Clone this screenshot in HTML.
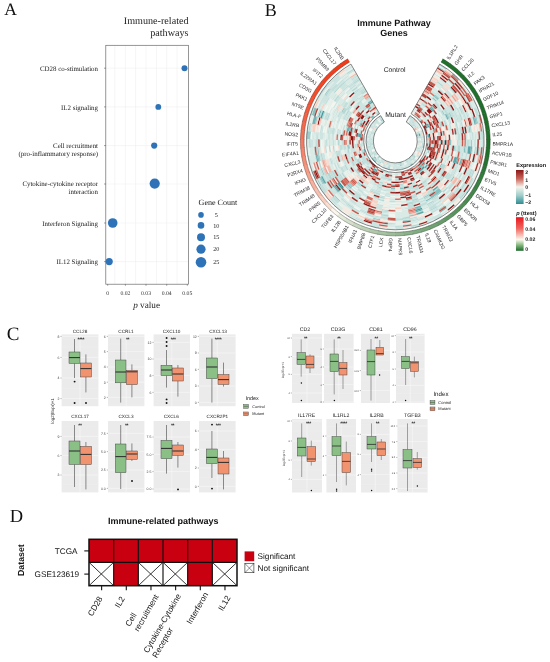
<!DOCTYPE html>
<html lang="en">
<head>
<meta charset="utf-8">
<title>Immune-related pathways figure</title>
<style>
html,body{margin:0;padding:0;background:#fff;}
body{width:550px;height:662px;overflow:hidden;font-family:"Liberation Sans",sans-serif;}
svg{display:block;text-rendering:geometricPrecision;}
.se{font-family:"Liberation Serif",serif;}
.sa{font-family:"Liberation Sans",sans-serif;}
</style>
</head>
<body>
<svg width="550" height="662" viewBox="0 0 550 662">
<rect x="0" y="0" width="550" height="662" fill="#ffffff"/>
<g id="panelA">
<text class="se" x="4.2" y="15.4" font-size="17.5" fill="#111">A</text>
<text class="se" x="188.5" y="23.8" font-size="10.15" text-anchor="end" fill="#222">Immune-related</text>
<text class="se" x="188.5" y="35.6" font-size="10.15" text-anchor="end" fill="#222">pathways</text>
<line x1="114.8" y1="45.3" x2="114.8" y2="284.2" stroke="#ececec" stroke-width="0.5"/>
<line x1="125.4" y1="45.3" x2="125.4" y2="284.2" stroke="#ececec" stroke-width="0.5"/>
<line x1="135.6" y1="45.3" x2="135.6" y2="284.2" stroke="#ececec" stroke-width="0.5"/>
<line x1="146.0" y1="45.3" x2="146.0" y2="284.2" stroke="#ececec" stroke-width="0.5"/>
<line x1="156.5" y1="45.3" x2="156.5" y2="284.2" stroke="#ececec" stroke-width="0.5"/>
<line x1="166.7" y1="45.3" x2="166.7" y2="284.2" stroke="#ececec" stroke-width="0.5"/>
<line x1="177.1" y1="45.3" x2="177.1" y2="284.2" stroke="#ececec" stroke-width="0.5"/>
<line x1="105.8" y1="68.2" x2="188.5" y2="68.2" stroke="#ececec" stroke-width="0.5"/>
<line x1="105.8" y1="106.9" x2="188.5" y2="106.9" stroke="#ececec" stroke-width="0.5"/>
<line x1="105.8" y1="145.6" x2="188.5" y2="145.6" stroke="#ececec" stroke-width="0.5"/>
<line x1="105.8" y1="184.0" x2="188.5" y2="184.0" stroke="#ececec" stroke-width="0.5"/>
<line x1="105.8" y1="223.0" x2="188.5" y2="223.0" stroke="#ececec" stroke-width="0.5"/>
<line x1="105.8" y1="261.6" x2="188.5" y2="261.6" stroke="#ececec" stroke-width="0.5"/>
<rect x="105.8" y="45.3" width="82.7" height="238.9" fill="none" stroke="#6a6a6a" stroke-width="0.7"/>
<line x1="104.0" y1="68.2" x2="105.8" y2="68.2" stroke="#444" stroke-width="0.5"/>
<line x1="104.0" y1="106.9" x2="105.8" y2="106.9" stroke="#444" stroke-width="0.5"/>
<line x1="104.0" y1="145.6" x2="105.8" y2="145.6" stroke="#444" stroke-width="0.5"/>
<line x1="104.0" y1="184.0" x2="105.8" y2="184.0" stroke="#444" stroke-width="0.5"/>
<line x1="104.0" y1="223.0" x2="105.8" y2="223.0" stroke="#444" stroke-width="0.5"/>
<line x1="104.0" y1="261.6" x2="105.8" y2="261.6" stroke="#444" stroke-width="0.5"/>
<text class="se" x="98" y="71.0" font-size="6.9" text-anchor="end" fill="#1c1c1c">CD28 co-stimulation</text>
<text class="se" x="98" y="109.7" font-size="6.9" text-anchor="end" fill="#1c1c1c">IL2 signaling</text>
<text class="se" x="98" y="147.8" font-size="6.9" text-anchor="end" fill="#1c1c1c">Cell recruitment</text>
<text class="se" x="98" y="155.8" font-size="6.9" text-anchor="end" fill="#1c1c1c">(pro-inflammatory response)</text>
<text class="se" x="98" y="186.2" font-size="6.9" text-anchor="end" fill="#1c1c1c">Cytokine-cytokine receptor</text>
<text class="se" x="98" y="194.2" font-size="6.9" text-anchor="end" fill="#1c1c1c">interaction</text>
<text class="se" x="98" y="225.8" font-size="6.9" text-anchor="end" fill="#1c1c1c">Interferon Signaling</text>
<text class="se" x="98" y="264.4" font-size="6.9" text-anchor="end" fill="#1c1c1c">IL12 Signaling</text>
<circle cx="184.5" cy="68.2" r="3.0" fill="#2e73b8"/>
<circle cx="158.3" cy="106.9" r="2.9" fill="#2e73b8"/>
<circle cx="154.2" cy="145.6" r="3.1" fill="#2e73b8"/>
<circle cx="154.7" cy="183.6" r="5.1" fill="#2e73b8"/>
<circle cx="112.7" cy="223.0" r="4.8" fill="#2e73b8"/>
<circle cx="109.2" cy="261.6" r="3.6" fill="#2e73b8"/>
<line x1="107.7" y1="284.2" x2="107.7" y2="285.8" stroke="#444" stroke-width="0.5"/>
<line x1="125.4" y1="284.2" x2="125.4" y2="285.8" stroke="#444" stroke-width="0.5"/>
<line x1="146.0" y1="284.2" x2="146.0" y2="285.8" stroke="#444" stroke-width="0.5"/>
<line x1="166.7" y1="284.2" x2="166.7" y2="285.8" stroke="#444" stroke-width="0.5"/>
<line x1="187.3" y1="284.2" x2="187.3" y2="285.8" stroke="#444" stroke-width="0.5"/>
<text class="se" x="107.7" y="295.0" font-size="5.7" text-anchor="middle" fill="#333">0</text>
<text class="se" x="125.4" y="295.0" font-size="5.7" text-anchor="middle" fill="#333">0.02</text>
<text class="se" x="146.0" y="295.0" font-size="5.7" text-anchor="middle" fill="#333">0.03</text>
<text class="se" x="166.7" y="295.0" font-size="5.7" text-anchor="middle" fill="#333">0.04</text>
<text class="se" x="187.3" y="295.0" font-size="5.7" text-anchor="middle" fill="#333">0.05</text>
<text class="se" x="146.6" y="308.3" font-size="9.2" text-anchor="middle" fill="#222"><tspan font-style="italic">p</tspan> value</text>
<text class="se" x="198.6" y="205.4" font-size="8.05" fill="#222">Gene Count</text>
<circle cx="201" cy="214.9" r="2.8" fill="#2e73b8"/>
<text class="se" x="216.3" y="217.0" font-size="6.2" text-anchor="middle" fill="#222">5</text>
<circle cx="201" cy="225.4" r="3.3" fill="#2e73b8"/>
<text class="se" x="216.3" y="227.5" font-size="6.2" text-anchor="middle" fill="#222">10</text>
<circle cx="201" cy="237.3" r="4.0" fill="#2e73b8"/>
<text class="se" x="216.3" y="239.4" font-size="6.2" text-anchor="middle" fill="#222">15</text>
<circle cx="201" cy="249.2" r="4.6" fill="#2e73b8"/>
<text class="se" x="216.3" y="251.3" font-size="6.2" text-anchor="middle" fill="#222">20</text>
<circle cx="201" cy="262.2" r="5.3" fill="#2e73b8"/>
<text class="se" x="216.3" y="264.3" font-size="6.2" text-anchor="middle" fill="#222">25</text>
</g>
<g id="panelB">
<text class="se" x="264.8" y="15.8" font-size="18" fill="#111">B</text>
<text class="sa" x="394" y="25.6" font-size="9" font-weight="bold" text-anchor="middle" fill="#111">Immune Pathway</text>
<text class="sa" x="394" y="35.9" font-size="9" font-weight="bold" text-anchor="middle" fill="#111">Genes</text>
<text class="sa" x="394.6" y="72.3" font-size="6.8" text-anchor="middle" fill="#222">Control</text>
<text class="sa" x="395.6" y="117.3" font-size="6.8" text-anchor="middle" fill="#222">Mutant</text>
<path d="M379.18 113.07A32.25 32.25 0 0 0 376.57 114.75M363.26 137.31A32.25 32.25 0 0 0 363.06 140.48M427.36 137.47A32.25 32.25 0 0 0 426.85 134.33M368.26 160.85A33.55 33.55 0 0 0 370.34 163.42M416.44 168.70A34.84 34.84 0 0 0 419.07 166.48M427.94 153.21A34.84 34.84 0 0 0 428.98 149.93M420.69 168.51A37.44 37.44 0 0 0 423.28 165.87M362.95 119.70A38.74 38.74 0 0 0 361.00 122.99M356.13 132.72A40.04 40.04 0 0 0 355.50 136.62M419.59 172.83A40.04 40.04 0 0 0 422.61 170.28M370.72 106.17A42.63 42.63 0 0 0 367.41 108.76M358.73 162.91A42.63 42.63 0 0 0 361.07 166.40M353.36 127.94A43.93 43.93 0 0 0 352.27 132.14M352.32 131.91A43.93 43.93 0 0 0 351.64 136.20M391.08 184.73A43.93 43.93 0 0 0 395.42 184.93M440.39 144.50A45.23 45.23 0 0 0 440.52 140.04M348.90 144.36A46.52 46.52 0 0 0 349.45 148.91M390.84 187.31A46.52 46.52 0 0 0 395.42 187.52M347.60 144.45A47.82 47.82 0 0 0 348.18 149.13M356.75 169.30A47.82 47.82 0 0 0 359.73 172.96M442.27 126.64A49.12 49.12 0 0 0 440.63 122.08M434.80 109.67A50.42 50.42 0 0 0 431.52 105.93M436.83 171.82A51.71 51.71 0 0 0 439.66 167.57M357.37 181.66A55.61 55.61 0 0 0 361.56 185.21M444.53 115.14A55.61 55.61 0 0 0 441.74 110.42M449.13 118.87A58.20 58.20 0 0 0 446.69 113.67M453.93 151.12A59.50 59.50 0 0 0 454.65 145.29M344.52 107.56A60.80 60.80 0 0 0 341.47 112.73M451.53 117.88A60.80 60.80 0 0 0 448.98 112.45M439.20 98.93A60.80 60.80 0 0 0 434.84 94.81M348.89 182.26A62.10 62.10 0 0 0 353.18 186.63M347.92 183.12A63.39 63.39 0 0 0 352.30 187.58M423.72 197.67A63.39 63.39 0 0 0 429.17 194.59M428.89 194.77A63.39 63.39 0 0 0 434.02 191.19M345.01 185.71A67.29 67.29 0 0 0 349.66 190.44M436.91 195.52A68.59 68.59 0 0 0 442.08 191.15M336.87 183.89A72.48 72.48 0 0 0 341.38 189.44M469.92 132.79A75.07 75.07 0 0 0 468.75 125.47M471.44 146.91A76.37 76.37 0 0 0 471.65 139.37M317.83 146.60A77.67 77.67 0 0 0 318.76 154.21M318.69 153.81A77.67 77.67 0 0 0 320.33 161.30M321.19 168.28A78.97 78.97 0 0 0 324.24 175.45M372.88 218.07A80.26 80.26 0 0 0 380.58 219.90M402.58 220.93A80.26 80.26 0 0 0 410.43 219.83M474.40 154.65A80.26 80.26 0 0 0 475.36 146.79M317.42 116.76A81.56 81.56 0 0 0 315.41 124.55M334.34 195.19A81.56 81.56 0 0 0 339.98 200.93M438.51 210.17A81.56 81.56 0 0 0 445.12 205.58M329.64 88.36A84.16 84.16 0 0 0 324.77 95.09M319.38 177.32A84.16 84.16 0 0 0 323.33 184.62M478.23 155.31A84.16 84.16 0 0 0 479.24 147.07M477.73 124.03A84.16 84.16 0 0 0 475.65 115.98M310.41 131.21A85.46 85.46 0 0 0 309.86 139.63M444.93 71.44A85.46 85.46 0 0 0 438.03 66.99M309.12 131.06A86.75 86.75 0 0 0 308.56 139.60M317.04 178.44A86.75 86.75 0 0 0 321.11 185.97M307.83 130.91A88.05 88.05 0 0 0 307.26 139.58M312.67 171.41A88.05 88.05 0 0 0 316.07 179.41M466.01 193.47A88.05 88.05 0 0 0 470.84 186.25" fill="none" stroke="#9fccca" stroke-width="1.4"/>
<path d="M376.71 114.65A32.25 32.25 0 0 0 374.20 116.61M392.21 173.10A32.25 32.25 0 0 0 395.38 173.25M422.88 157.72A32.25 32.25 0 0 0 424.39 154.92M360.46 140.26A34.84 34.84 0 0 0 360.56 143.69M391.96 175.68A34.84 34.84 0 0 0 395.39 175.84M426.65 156.20A34.84 34.84 0 0 0 428.00 153.04M422.60 119.35A34.84 34.84 0 0 0 420.33 116.76M360.37 150.26A36.14 36.14 0 0 0 361.45 153.66M427.82 156.77A36.14 36.14 0 0 0 429.22 153.48M391.71 178.27A37.44 37.44 0 0 0 395.40 178.44M365.08 116.77A38.74 38.74 0 0 0 362.84 119.87M355.27 140.15A40.04 40.04 0 0 0 355.38 144.10M427.45 164.86A40.04 40.04 0 0 0 429.65 161.57M430.74 122.39A40.04 40.04 0 0 0 428.74 118.98M357.15 125.08A41.33 41.33 0 0 0 355.77 128.92M354.86 132.45A41.33 41.33 0 0 0 354.21 136.48M436.39 136.48A41.33 41.33 0 0 0 435.74 132.45M364.67 111.34A42.63 42.63 0 0 0 361.90 114.51M354.76 124.08A43.93 43.93 0 0 0 353.29 128.16M414.99 180.27A43.93 43.93 0 0 0 418.77 178.13M432.11 117.03A43.93 43.93 0 0 0 429.57 113.52M427.02 110.61A43.93 43.93 0 0 0 423.87 107.63M355.37 119.76A45.23 45.23 0 0 0 353.47 123.80M415.58 181.43A45.23 45.23 0 0 0 419.46 179.23M433.98 164.44A45.23 45.23 0 0 0 436.10 160.52M441.15 148.91A46.52 46.52 0 0 0 441.70 144.36M359.56 172.77A47.82 47.82 0 0 0 362.86 176.14M354.28 113.99A49.12 49.12 0 0 0 351.81 118.16M443.41 131.09A49.12 49.12 0 0 0 442.20 126.40M438.79 118.16A49.12 49.12 0 0 0 436.32 113.99M444.98 149.58A50.42 50.42 0 0 0 445.59 144.64M430.38 179.00A51.71 51.71 0 0 0 433.95 175.36M427.46 183.14A53.01 53.01 0 0 0 431.46 179.77M448.31 140.15A53.01 53.01 0 0 0 447.96 134.93M447.99 135.20A53.01 53.01 0 0 0 447.17 130.04M352.93 107.03A54.31 54.31 0 0 0 349.78 111.37M351.52 173.14A54.31 54.31 0 0 0 354.90 177.30M379.77 194.39A55.61 55.61 0 0 0 385.10 195.67M389.96 196.35A55.61 55.61 0 0 0 395.45 196.61M384.57 196.89A56.91 56.91 0 0 0 390.14 197.67M420.81 191.87A56.91 56.91 0 0 0 425.70 189.10M339.73 123.70A58.20 58.20 0 0 0 338.29 129.26M337.25 145.20A58.20 58.20 0 0 0 337.94 150.90M340.68 161.10A58.20 58.20 0 0 0 342.93 166.39M335.95 145.29A59.50 59.50 0 0 0 336.67 151.12M347.33 176.21A59.50 59.50 0 0 0 351.04 180.76M363.51 191.30A59.50 59.50 0 0 0 368.62 194.19M452.73 156.55A59.50 59.50 0 0 0 453.99 150.81M454.79 140.04A59.50 59.50 0 0 0 454.41 134.18M453.99 156.89A60.80 60.80 0 0 0 455.27 151.03M389.34 202.81A62.10 62.10 0 0 0 395.46 203.10M349.76 96.90A63.39 63.39 0 0 0 345.63 101.60M352.06 187.36A63.39 63.39 0 0 0 356.84 191.39M330.78 145.67A64.69 64.69 0 0 0 331.55 152.00M346.96 94.19A67.29 67.29 0 0 0 342.58 99.18M328.19 145.85A67.29 67.29 0 0 0 328.99 152.44M388.84 207.98A67.29 67.29 0 0 0 395.48 208.29M326.89 145.95A68.59 68.59 0 0 0 327.71 152.67M327.65 152.31A68.59 68.59 0 0 0 329.10 158.92M358.66 198.98A68.59 68.59 0 0 0 364.55 202.31M326.93 126.55A69.88 69.88 0 0 0 325.84 133.36M357.97 200.07A69.88 69.88 0 0 0 363.97 203.47M437.70 196.55A69.88 69.88 0 0 0 442.97 192.10M445.76 92.65A69.88 69.88 0 0 0 440.74 87.91M335.85 101.85A71.18 71.18 0 0 0 332.28 107.90M346.75 193.05A71.18 71.18 0 0 0 352.12 197.58M369.12 207.19A71.18 71.18 0 0 0 375.77 209.45M334.77 101.14A72.48 72.48 0 0 0 331.13 107.30M331.31 106.97A72.48 72.48 0 0 0 328.27 113.44M324.39 126.01A72.48 72.48 0 0 0 323.26 133.07M323.01 146.23A72.48 72.48 0 0 0 323.88 153.33M321.54 139.43A73.78 73.78 0 0 0 321.74 146.71M321.72 146.32A73.78 73.78 0 0 0 322.60 153.55M326.06 166.48A73.78 73.78 0 0 0 328.91 173.18M388.22 214.44A73.78 73.78 0 0 0 395.49 214.78M461.69 173.18A73.78 73.78 0 0 0 464.54 166.48M469.07 139.81A73.78 73.78 0 0 0 468.59 132.55M344.09 195.90A75.07 75.07 0 0 0 349.75 200.68M388.10 215.73A75.07 75.07 0 0 0 395.50 216.07M461.77 106.09A75.07 75.07 0 0 0 458.00 99.71M327.87 105.14A76.37 76.37 0 0 0 324.67 111.96M320.58 125.21A76.37 76.37 0 0 0 319.39 132.65M373.97 214.33A76.37 76.37 0 0 0 381.30 216.08M387.97 217.02A76.37 76.37 0 0 0 395.50 217.37M462.91 105.49A76.37 76.37 0 0 0 459.08 99.00M320.22 160.91A77.67 77.67 0 0 0 322.55 168.21M353.81 206.66A77.67 77.67 0 0 0 360.48 210.43M470.27 161.30A77.67 77.67 0 0 0 471.91 153.81M443.21 203.77A78.97 78.97 0 0 0 449.16 198.75M458.71 188.06A78.97 78.97 0 0 0 463.04 181.58M387.60 220.89A80.26 80.26 0 0 0 395.51 221.26M463.94 182.60A80.26 80.26 0 0 0 467.71 175.64M358.35 213.71A81.56 81.56 0 0 0 365.70 217.00M318.83 109.09A82.86 82.86 0 0 0 316.06 116.78M472.91 170.03A82.86 82.86 0 0 0 475.39 162.24M311.70 131.36A84.16 84.16 0 0 0 311.15 139.65M327.46 190.80A84.16 84.16 0 0 0 332.70 197.24M433.03 216.23A84.16 84.16 0 0 0 440.26 212.14M475.78 116.40A84.16 84.16 0 0 0 472.97 108.59M312.70 162.90A85.46 85.46 0 0 0 315.26 170.94M341.52 210.72A88.05 88.05 0 0 0 348.65 215.68M378.70 227.47A88.05 88.05 0 0 0 387.31 228.69M403.29 228.69A88.05 88.05 0 0 0 411.90 227.47M441.95 215.68A88.05 88.05 0 0 0 449.08 210.72M455.02 205.70A88.05 88.05 0 0 0 461.11 199.50M473.25 100.06A88.05 88.05 0 0 0 468.84 92.58M469.09 92.96A88.05 88.05 0 0 0 464.00 85.92M452.91 74.41A88.05 88.05 0 0 0 446.06 69.06" fill="none" stroke="#f3f6f0" stroke-width="1.4"/>
<path d="M374.33 116.50A32.25 32.25 0 0 0 372.02 118.69M364.54 124.64A34.84 34.84 0 0 0 363.07 127.75M418.93 166.60A34.84 34.84 0 0 0 421.34 164.15M421.22 164.29A34.84 34.84 0 0 0 423.39 161.62M373.22 169.62A36.14 36.14 0 0 0 376.15 171.65M423.15 166.02A37.44 37.44 0 0 0 425.48 163.15M429.93 126.76A37.44 37.44 0 0 0 428.36 123.42M361.10 122.81A38.74 38.74 0 0 0 359.47 126.27M370.85 172.70A40.04 40.04 0 0 0 374.09 174.95M350.88 127.17A46.52 46.52 0 0 0 349.73 131.62M390.71 188.60A47.82 47.82 0 0 0 395.43 188.82M399.64 188.62A47.82 47.82 0 0 0 404.31 187.96M444.27 144.80A49.12 49.12 0 0 0 444.41 139.95M439.52 167.81A51.71 51.71 0 0 0 441.95 163.32M450.74 145.30A55.61 55.61 0 0 0 450.90 139.81M436.39 101.63A56.91 56.91 0 0 0 432.31 97.77M438.26 99.83A59.50 59.50 0 0 0 433.99 95.80M346.95 183.98A64.69 64.69 0 0 0 351.42 188.54M434.55 192.43A64.69 64.69 0 0 0 439.43 188.31M430.26 196.97A65.99 65.99 0 0 0 435.61 193.25M435.33 193.46A65.99 65.99 0 0 0 440.31 189.26M425.47 201.15A67.29 67.29 0 0 0 431.25 197.88M430.95 198.07A67.29 67.29 0 0 0 436.40 194.28M436.12 194.49A67.29 67.29 0 0 0 441.20 190.21M450.38 181.87A68.59 68.59 0 0 0 454.14 176.24M464.16 152.89A69.88 69.88 0 0 0 465.00 146.04M414.83 209.45A71.18 71.18 0 0 0 421.48 207.19M317.41 154.02A78.97 78.97 0 0 0 319.08 161.64M320.55 176.76A82.86 82.86 0 0 0 324.44 183.95M476.46 124.29A82.86 82.86 0 0 0 474.41 116.37M439.89 212.38A84.16 84.16 0 0 0 446.71 207.63M316.44 108.09A85.46 85.46 0 0 0 313.58 116.03M315.24 107.59A86.75 86.75 0 0 0 312.33 115.65M458.87 80.08A88.05 88.05 0 0 0 452.56 74.11" fill="none" stroke="#88bfbf" stroke-width="1.4"/>
<path d="M372.13 118.57A32.25 32.25 0 0 0 370.03 120.96M377.88 110.82A34.84 34.84 0 0 0 375.06 112.64M372.64 114.53A34.84 34.84 0 0 0 370.14 116.89M391.83 176.98A36.14 36.14 0 0 0 395.39 177.14M358.37 147.17A37.44 37.44 0 0 0 359.16 150.78M432.52 136.91A37.44 37.44 0 0 0 431.93 133.26M357.09 147.39A38.74 38.74 0 0 0 357.91 151.12M355.81 147.60A40.04 40.04 0 0 0 356.66 151.46M391.46 180.85A40.04 40.04 0 0 0 395.40 181.04M406.64 180.75A41.33 41.33 0 0 0 410.50 179.44M403.35 184.18A43.93 43.93 0 0 0 407.57 183.18M438.33 132.14A43.93 43.93 0 0 0 437.24 127.94M421.57 104.18A45.23 45.23 0 0 0 417.91 101.83M366.88 177.84A46.52 46.52 0 0 0 370.65 180.46M441.82 140.25A46.52 46.52 0 0 0 441.52 135.67M422.32 103.13A46.52 46.52 0 0 0 418.56 100.71M357.99 111.09A47.82 47.82 0 0 0 355.22 114.91M440.09 157.75A47.82 47.82 0 0 0 441.52 153.26M442.14 131.35A47.82 47.82 0 0 0 440.96 126.78M429.83 107.91A47.82 47.82 0 0 0 426.40 104.67M356.98 110.27A49.12 49.12 0 0 0 354.14 114.20M365.30 179.89A49.12 49.12 0 0 0 369.28 182.66M345.21 135.22A50.42 50.42 0 0 0 344.89 140.19M395.17 191.42A50.42 50.42 0 0 0 400.14 191.18M404.54 190.56A50.42 50.42 0 0 0 409.38 189.41M354.71 177.08A54.31 54.31 0 0 0 358.46 180.91M353.74 177.95A55.61 55.61 0 0 0 357.58 181.86M338.54 145.10A56.91 56.91 0 0 0 339.22 150.68M450.23 155.87A56.91 56.91 0 0 0 451.43 150.39M348.38 175.44A58.20 58.20 0 0 0 352.00 179.90M384.33 198.16A58.20 58.20 0 0 0 390.02 198.96M346.29 176.98A60.80 60.80 0 0 0 350.07 181.63M422.56 195.35A60.80 60.80 0 0 0 427.78 192.40M343.44 106.85A62.10 62.10 0 0 0 340.32 112.13M372.46 198.74A62.10 62.10 0 0 0 378.27 200.71M437.42 186.63A62.10 62.10 0 0 0 441.71 182.26M332.77 151.46A63.39 63.39 0 0 0 334.11 157.57M438.30 187.58A63.39 63.39 0 0 0 442.68 183.12M341.27 105.42A64.69 64.69 0 0 0 338.03 110.92M439.18 188.54A64.69 64.69 0 0 0 443.65 183.98M449.52 105.71A64.69 64.69 0 0 0 445.77 100.53M347.89 95.09A65.99 65.99 0 0 0 343.60 99.99M371.03 202.36A65.99 65.99 0 0 0 377.20 204.46M451.69 104.29A67.29 67.29 0 0 0 447.80 98.91M370.08 204.78A68.59 68.59 0 0 0 376.49 206.95M327.75 158.91A69.88 69.88 0 0 0 329.85 165.48M453.87 102.87A69.88 69.88 0 0 0 449.82 97.29M324.30 146.13A71.18 71.18 0 0 0 325.16 153.11M326.50 159.24A71.18 71.18 0 0 0 328.63 165.94M375.42 209.35A71.18 71.18 0 0 0 382.25 210.97M437.40 82.00A72.48 72.48 0 0 0 431.54 78.23M448.57 89.96A73.78 73.78 0 0 0 443.28 84.95M374.33 213.09A75.07 75.07 0 0 0 381.54 214.80M449.50 89.06A75.07 75.07 0 0 0 444.12 83.97M321.48 160.57A76.37 76.37 0 0 0 323.77 167.75M459.30 99.33A76.37 76.37 0 0 0 454.88 93.23M450.44 88.16A76.37 76.37 0 0 0 444.96 82.98M464.06 104.89A77.67 77.67 0 0 0 460.17 98.28M380.42 218.55A78.97 78.97 0 0 0 388.13 219.64M417.32 218.19A80.26 80.26 0 0 0 424.82 215.64M475.08 132.22A80.26 80.26 0 0 0 473.83 124.40M441.92 75.66A80.26 80.26 0 0 0 435.43 71.49M315.21 162.24A82.86 82.86 0 0 0 317.69 170.03M477.66 131.94A82.86 82.86 0 0 0 476.37 123.86M312.96 123.59A84.16 84.16 0 0 0 311.65 131.80M345.28 70.12A86.75 86.75 0 0 0 338.54 75.39M325.36 192.33A86.75 86.75 0 0 0 330.76 198.98M378.95 226.20A86.75 86.75 0 0 0 387.43 227.40M344.54 69.06A88.05 88.05 0 0 0 337.69 74.41M317.56 99.65A88.05 88.05 0 0 0 313.86 107.52" fill="none" stroke="#f5ddd3" stroke-width="1.4"/>
<path d="M370.14 120.83A32.25 32.25 0 0 0 368.27 123.41M368.37 123.26A32.25 32.25 0 0 0 366.75 126.01M365.54 128.58A32.25 32.25 0 0 0 364.46 131.58M363.06 140.31A32.25 32.25 0 0 0 363.15 143.49M363.14 143.33A32.25 32.25 0 0 0 363.52 146.49M389.22 172.67A32.25 32.25 0 0 0 392.37 173.12M424.32 155.07A32.25 32.25 0 0 0 425.56 152.14M426.43 149.43A32.25 32.25 0 0 0 427.11 146.32M423.85 126.01A32.25 32.25 0 0 0 422.23 123.26M420.57 120.96A32.25 32.25 0 0 0 418.47 118.57M416.40 116.61A32.25 32.25 0 0 0 413.89 114.65M361.76 140.28A33.55 33.55 0 0 0 361.85 143.59M365.04 155.48A33.55 33.55 0 0 0 366.61 158.39M382.96 172.20A33.55 33.55 0 0 0 386.10 173.26M385.93 173.21A33.55 33.55 0 0 0 389.15 173.98M388.98 173.95A33.55 33.55 0 0 0 392.26 174.41M395.21 174.55A33.55 33.55 0 0 0 398.52 174.39M426.72 152.75A33.55 33.55 0 0 0 427.73 149.60M368.11 119.20A34.84 34.84 0 0 0 366.10 121.99M362.60 153.04A34.84 34.84 0 0 0 363.95 156.20M376.68 170.45A34.84 34.84 0 0 0 379.68 172.15M395.21 175.84A34.84 34.84 0 0 0 398.64 175.68M404.86 174.51A34.84 34.84 0 0 0 408.11 173.40M415.54 112.64A34.84 34.84 0 0 0 412.72 110.82M361.95 127.08A36.14 36.14 0 0 0 360.74 130.44M401.93 176.53A36.14 36.14 0 0 0 405.40 175.70M405.21 175.76A36.14 36.14 0 0 0 408.59 174.61M411.50 173.31A36.14 36.14 0 0 0 414.61 171.55M429.15 153.66A36.14 36.14 0 0 0 430.23 150.26M430.92 147.15A36.14 36.14 0 0 0 431.35 143.61M430.70 133.71A36.14 36.14 0 0 0 429.81 130.26M427.30 124.20A36.14 36.14 0 0 0 425.49 121.12M358.11 136.71A37.44 37.44 0 0 0 357.87 140.40M357.87 140.20A37.44 37.44 0 0 0 357.97 143.90M381.53 175.82A37.44 37.44 0 0 0 385.03 177.00M388.24 177.77A37.44 37.44 0 0 0 391.90 178.29M402.16 177.81A37.44 37.44 0 0 0 405.76 176.95M412.08 174.47A37.44 37.44 0 0 0 415.30 172.65M415.14 172.75A37.44 37.44 0 0 0 418.17 170.64M432.73 140.40A37.44 37.44 0 0 0 432.49 136.71M431.97 133.45A37.44 37.44 0 0 0 431.05 129.87M428.45 123.59A37.44 37.44 0 0 0 426.57 120.41M426.68 120.57A37.44 37.44 0 0 0 424.51 117.58M417.05 110.52A37.44 37.44 0 0 0 414.02 108.58M356.82 136.56A38.74 38.74 0 0 0 356.57 140.38M356.66 143.79A38.74 38.74 0 0 0 357.13 147.59M364.07 163.92A38.74 38.74 0 0 0 366.48 166.89M366.35 166.74A38.74 38.74 0 0 0 369.03 169.47M424.12 166.89A38.74 38.74 0 0 0 426.53 163.92M433.24 133.19A38.74 38.74 0 0 0 432.29 129.49M366.54 113.15A40.04 40.04 0 0 0 363.93 116.12M355.53 136.41A40.04 40.04 0 0 0 355.27 140.36M360.95 161.57A40.04 40.04 0 0 0 363.15 164.86M373.91 174.84A40.04 40.04 0 0 0 377.35 176.79M377.16 176.69A40.04 40.04 0 0 0 380.77 178.31M380.58 178.23A40.04 40.04 0 0 0 384.32 179.50M384.12 179.44A40.04 40.04 0 0 0 387.96 180.36M402.64 180.36A40.04 40.04 0 0 0 406.48 179.44M409.83 178.31A40.04 40.04 0 0 0 413.44 176.69M413.25 176.79A40.04 40.04 0 0 0 416.69 174.84M424.21 113.30A40.04 40.04 0 0 0 421.33 110.59M368.42 109.60A41.33 41.33 0 0 0 365.46 112.40M365.61 112.25A41.33 41.33 0 0 0 362.92 115.31M360.78 118.27A41.33 41.33 0 0 0 358.71 121.78M358.81 121.59A41.33 41.33 0 0 0 357.07 125.28M353.98 140.12A41.33 41.33 0 0 0 354.09 144.20M354.53 147.82A41.33 41.33 0 0 0 355.40 151.80M423.33 171.37A41.33 41.33 0 0 0 426.19 168.46M434.83 128.92A41.33 41.33 0 0 0 433.45 125.08M425.14 112.40A41.33 41.33 0 0 0 422.18 109.60M419.31 107.35A41.33 41.33 0 0 0 415.97 105.20M373.98 104.08A42.63 42.63 0 0 0 370.54 106.30M353.25 148.03A42.63 42.63 0 0 0 354.15 152.14M355.29 155.73A42.63 42.63 0 0 0 356.94 159.60M363.44 169.32A42.63 42.63 0 0 0 366.39 172.33M375.99 179.01A42.63 42.63 0 0 0 379.83 180.72M387.26 182.87A42.63 42.63 0 0 0 391.43 183.45M391.21 183.43A42.63 42.63 0 0 0 395.41 183.63M414.41 179.11A42.63 42.63 0 0 0 418.08 177.04M424.21 172.33A42.63 42.63 0 0 0 427.16 169.32M436.45 152.14A42.63 42.63 0 0 0 437.35 148.03M423.19 108.76A42.63 42.63 0 0 0 419.88 106.17M351.38 140.06A43.93 43.93 0 0 0 351.50 144.40M351.49 144.17A43.93 43.93 0 0 0 352.01 148.47M351.97 148.24A43.93 43.93 0 0 0 352.90 152.48M355.67 159.96A43.93 43.93 0 0 0 357.73 163.77M368.47 175.78A43.93 43.93 0 0 0 372.03 178.26M411.24 181.93A43.93 43.93 0 0 0 415.20 180.16M418.57 178.26A43.93 43.93 0 0 0 422.13 175.78M425.09 173.28A43.93 43.93 0 0 0 428.13 170.19M427.98 170.36A43.93 43.93 0 0 0 430.71 166.99M438.59 148.47A43.93 43.93 0 0 0 439.11 144.17M350.69 148.46A45.23 45.23 0 0 0 351.65 152.82M351.58 152.59A45.23 45.23 0 0 0 352.94 156.84M378.67 183.06A45.23 45.23 0 0 0 382.89 184.49M382.67 184.43A45.23 45.23 0 0 0 387.01 185.46M386.78 185.42A45.23 45.23 0 0 0 391.20 186.04M411.71 183.14A45.23 45.23 0 0 0 415.79 181.32M419.26 179.36A45.23 45.23 0 0 0 422.93 176.81M368.48 102.99A46.52 46.52 0 0 0 364.86 105.82M365.05 105.66A46.52 46.52 0 0 0 361.71 108.81M361.88 108.64A46.52 46.52 0 0 0 358.85 112.09M353.33 161.08A46.52 46.52 0 0 0 355.51 165.12M360.53 171.91A46.52 46.52 0 0 0 363.75 175.19M374.23 182.48A46.52 46.52 0 0 0 378.42 184.35M426.85 175.19A46.52 46.52 0 0 0 430.07 171.91M429.91 172.09A46.52 46.52 0 0 0 432.81 168.53M439.79 127.40A46.52 46.52 0 0 0 438.24 123.08M371.39 99.59A47.82 47.82 0 0 0 367.53 102.07M364.20 104.67A47.82 47.82 0 0 0 360.77 107.91M349.08 153.26A47.82 47.82 0 0 0 350.51 157.75M350.42 157.52A47.82 47.82 0 0 0 352.27 161.86M377.71 185.47A47.82 47.82 0 0 0 382.18 186.99M381.94 186.92A47.82 47.82 0 0 0 386.53 188.01M412.65 185.56A47.82 47.82 0 0 0 416.96 183.63M427.74 176.14A47.82 47.82 0 0 0 431.04 172.77M436.20 165.79A47.82 47.82 0 0 0 438.44 161.64M441.46 153.50A47.82 47.82 0 0 0 442.47 148.89M435.38 114.91A47.82 47.82 0 0 0 432.61 111.09M426.59 104.83A47.82 47.82 0 0 0 422.87 101.93M370.74 98.46A49.12 49.12 0 0 0 366.77 101.01M363.36 103.69A49.12 49.12 0 0 0 359.83 107.02M360.01 106.83A49.12 49.12 0 0 0 356.82 110.48M346.85 149.10A49.12 49.12 0 0 0 347.89 153.84M347.82 153.59A49.12 49.12 0 0 0 349.29 158.21M349.20 157.97A49.12 49.12 0 0 0 351.10 162.43M350.99 162.20A49.12 49.12 0 0 0 353.29 166.46M353.16 166.24A49.12 49.12 0 0 0 355.86 170.27M358.59 173.63A49.12 49.12 0 0 0 361.98 177.09M361.80 176.92A49.12 49.12 0 0 0 365.50 180.05M386.04 189.24A49.12 49.12 0 0 0 390.84 189.92M421.32 182.66A49.12 49.12 0 0 0 425.30 179.89M425.10 180.05A49.12 49.12 0 0 0 428.80 176.92M434.74 170.27A49.12 49.12 0 0 0 437.44 166.24M440.73 122.32A49.12 49.12 0 0 0 438.67 117.93M362.51 102.70A50.42 50.42 0 0 0 358.90 106.12M345.97 130.57A50.42 50.42 0 0 0 345.19 135.49M352.05 166.91A50.42 50.42 0 0 0 354.81 171.04M357.62 174.50A50.42 50.42 0 0 0 361.10 178.05M376.76 187.88A50.42 50.42 0 0 0 381.47 189.48M385.80 190.51A50.42 50.42 0 0 0 390.72 191.21M399.88 191.21A50.42 50.42 0 0 0 404.80 190.51M425.89 181.08A50.42 50.42 0 0 0 429.69 177.87M432.80 174.69A50.42 50.42 0 0 0 435.94 170.83M443.96 154.18A50.42 50.42 0 0 0 445.03 149.32M445.41 135.49A50.42 50.42 0 0 0 444.63 130.57M428.29 102.87A50.42 50.42 0 0 0 424.37 99.81M354.95 108.65A51.71 51.71 0 0 0 351.96 112.79M352.11 112.56A51.71 51.71 0 0 0 349.52 116.96M343.93 135.08A51.71 51.71 0 0 0 343.59 140.17M348.65 163.32A51.71 51.71 0 0 0 351.08 167.81M363.71 181.95A51.71 51.71 0 0 0 367.90 184.86M376.28 189.09A51.71 51.71 0 0 0 381.11 190.73M409.49 190.73A51.71 51.71 0 0 0 414.32 189.09M422.70 184.86A51.71 51.71 0 0 0 426.89 181.95M446.26 149.80A51.71 51.71 0 0 0 446.88 144.73M443.13 121.33A51.71 51.71 0 0 0 440.96 116.72M425.34 98.90A51.71 51.71 0 0 0 421.16 96.21M357.22 104.12A53.01 53.01 0 0 0 353.77 108.06M342.43 144.82A53.01 53.01 0 0 0 343.06 150.02M349.82 168.24A53.01 53.01 0 0 0 352.73 172.59M371.29 188.26A53.01 53.01 0 0 0 376.06 190.40M385.31 193.06A53.01 53.01 0 0 0 390.49 193.79M395.16 194.01A53.01 53.01 0 0 0 400.39 193.77M409.84 191.98A53.01 53.01 0 0 0 414.80 190.30M423.39 185.96A53.01 53.01 0 0 0 427.68 182.97M434.74 176.43A53.01 53.01 0 0 0 438.04 172.37M446.47 154.85A53.01 53.01 0 0 0 447.59 149.74M439.73 112.08A53.01 53.01 0 0 0 436.66 107.84M363.99 96.62A54.31 54.31 0 0 0 359.77 99.93M349.94 111.13A54.31 54.31 0 0 0 347.22 115.75M347.35 115.50A54.31 54.31 0 0 0 345.07 120.35M348.71 168.91A54.31 54.31 0 0 0 351.69 173.36M358.26 180.72A54.31 54.31 0 0 0 362.35 184.17M375.33 191.50A54.31 54.31 0 0 0 380.40 193.23M385.06 194.34A54.31 54.31 0 0 0 390.37 195.09M435.70 177.30A54.31 54.31 0 0 0 439.08 173.14M444.17 164.69A54.31 54.31 0 0 0 446.27 159.76M448.82 150.24A54.31 54.31 0 0 0 449.47 144.92M448.49 130.05A54.31 54.31 0 0 0 447.16 124.86M447.24 125.13A54.31 54.31 0 0 0 445.42 120.09M440.82 111.37A54.31 54.31 0 0 0 437.67 107.03M359.14 98.76A55.61 55.61 0 0 0 355.15 102.53M351.91 106.22A55.61 55.61 0 0 0 348.70 110.66M340.89 129.50A55.61 55.61 0 0 0 340.03 134.92M339.70 139.81A55.61 55.61 0 0 0 339.86 145.30M340.45 150.17A55.61 55.61 0 0 0 341.62 155.53M343.11 160.21A55.61 55.61 0 0 0 345.26 165.26M415.48 192.82A55.61 55.61 0 0 0 420.49 190.58M439.96 174.14A55.61 55.61 0 0 0 443.00 169.57M446.73 119.85A55.61 55.61 0 0 0 444.40 114.89M441.90 110.66A55.61 55.61 0 0 0 438.69 106.22M366.85 91.72A56.91 56.91 0 0 0 362.25 94.68M345.06 114.28A56.91 56.91 0 0 0 342.67 119.36M339.62 129.23A56.91 56.91 0 0 0 338.74 134.78M340.29 155.58A56.91 56.91 0 0 0 342.00 160.94M343.97 165.56A56.91 56.91 0 0 0 346.64 170.50M374.37 193.92A56.91 56.91 0 0 0 379.69 195.72M425.45 189.26A56.91 56.91 0 0 0 430.06 186.06M437.63 179.03A56.91 56.91 0 0 0 441.17 174.67M449.72 124.37A56.91 56.91 0 0 0 447.82 119.09M445.68 114.54A56.91 56.91 0 0 0 442.83 109.70M439.88 105.64A56.91 56.91 0 0 0 436.18 101.41M432.53 97.96A56.91 56.91 0 0 0 428.11 94.50M361.74 93.44A58.20 58.20 0 0 0 357.22 96.98M357.45 96.78A58.20 58.20 0 0 0 353.28 100.73M353.49 100.51A58.20 58.20 0 0 0 349.70 104.83M342.79 166.12A58.20 58.20 0 0 0 345.53 171.17M389.71 198.93A58.20 58.20 0 0 0 395.45 199.20M416.42 195.24A58.20 58.20 0 0 0 421.67 192.89M430.61 187.27A58.20 58.20 0 0 0 435.00 183.56M434.78 183.77A58.20 58.20 0 0 0 438.80 179.67M361.00 92.38A59.50 59.50 0 0 0 356.37 96.00M356.61 95.80A59.50 59.50 0 0 0 352.34 99.83M352.56 99.61A59.50 59.50 0 0 0 348.68 104.02M342.77 113.06A59.50 59.50 0 0 0 340.27 118.37M340.39 118.09A59.50 59.50 0 0 0 338.40 123.61M336.19 134.18A59.50 59.50 0 0 0 335.81 140.04M454.44 134.49A59.50 59.50 0 0 0 453.51 128.69M441.92 104.02A59.50 59.50 0 0 0 438.04 99.61M360.25 91.32A60.80 60.80 0 0 0 355.52 95.02M355.76 94.81A60.80 60.80 0 0 0 351.40 98.93M341.62 112.45A60.80 60.80 0 0 0 339.07 117.88M339.19 117.59A60.80 60.80 0 0 0 337.16 123.23M335.33 151.03A60.80 60.80 0 0 0 336.61 156.89M372.94 197.54A60.80 60.80 0 0 0 378.62 199.47M395.14 201.80A60.80 60.80 0 0 0 401.13 201.52M411.98 199.47A60.80 60.80 0 0 0 417.66 197.54M436.54 185.68A60.80 60.80 0 0 0 440.74 181.39M452.25 162.30A60.80 60.80 0 0 0 454.07 156.58M449.13 112.73A60.80 60.80 0 0 0 446.08 107.56M446.25 107.83A60.80 60.80 0 0 0 442.74 102.97M435.08 95.02A60.80 60.80 0 0 0 430.35 91.32M364.25 87.22A62.10 62.10 0 0 0 359.23 90.45M333.61 133.89A62.10 62.10 0 0 0 333.21 140.00M335.28 156.91A62.10 62.10 0 0 0 337.14 162.75M451.18 168.09A62.10 62.10 0 0 0 453.57 162.45M456.49 151.56A62.10 62.10 0 0 0 457.23 145.48M456.12 128.48A62.10 62.10 0 0 0 454.59 122.54M450.28 112.13A62.10 62.10 0 0 0 447.16 106.85M440.13 98.04A62.10 62.10 0 0 0 435.68 93.83M435.93 94.04A62.10 62.10 0 0 0 431.10 90.26M363.60 86.10A63.39 63.39 0 0 0 358.48 89.39M345.84 101.34A63.39 63.39 0 0 0 342.17 106.41M332.32 133.74A63.39 63.39 0 0 0 331.91 139.98M356.58 191.19A63.39 63.39 0 0 0 361.71 194.77M456.49 157.57A63.39 63.39 0 0 0 457.83 151.46M458.50 145.90A63.39 63.39 0 0 0 458.68 139.65M455.93 122.47A63.39 63.39 0 0 0 453.80 116.59M451.43 111.52A63.39 63.39 0 0 0 448.25 106.14M348.83 96.00A64.69 64.69 0 0 0 344.62 100.80M344.83 100.53A64.69 64.69 0 0 0 341.08 105.71M338.18 110.62A64.69 64.69 0 0 0 335.47 116.40M332.01 127.62A64.69 64.69 0 0 0 331.00 133.93M336.94 168.92A64.69 64.69 0 0 0 339.98 174.53M450.62 174.53A64.69 64.69 0 0 0 453.66 168.92M459.80 146.00A64.69 64.69 0 0 0 459.98 139.62M457.17 122.09A64.69 64.69 0 0 0 455.00 116.09M455.13 116.40A64.69 64.69 0 0 0 452.42 110.62M362.31 83.85A65.99 65.99 0 0 0 356.97 87.28M334.40 115.59A65.99 65.99 0 0 0 332.19 121.71M332.29 121.38A65.99 65.99 0 0 0 330.67 127.69M330.74 127.35A65.99 65.99 0 0 0 329.71 133.78M329.74 133.44A65.99 65.99 0 0 0 329.32 139.94M329.33 139.59A65.99 65.99 0 0 0 329.51 146.10M331.51 157.91A65.99 65.99 0 0 0 333.49 164.12M360.05 196.78A65.99 65.99 0 0 0 365.72 199.99M424.88 199.99A65.99 65.99 0 0 0 430.55 196.78M451.73 175.21A65.99 65.99 0 0 0 454.83 169.48M454.68 169.79A65.99 65.99 0 0 0 457.23 163.79M460.33 152.22A65.99 65.99 0 0 0 461.12 145.76M461.09 146.10A65.99 65.99 0 0 0 461.27 139.59M461.28 139.94A65.99 65.99 0 0 0 460.86 133.44M361.66 82.73A67.29 67.29 0 0 0 356.22 86.23M339.10 103.99A67.29 67.29 0 0 0 335.73 109.71M335.89 109.40A67.29 67.29 0 0 0 333.07 115.41M328.46 133.29A67.29 67.29 0 0 0 328.02 139.92M376.50 205.61A67.29 67.29 0 0 0 382.96 207.15M449.33 181.10A67.29 67.29 0 0 0 453.02 175.58M455.85 170.35A67.29 67.29 0 0 0 458.45 164.24M458.32 164.57A67.29 67.29 0 0 0 460.34 158.25M460.25 158.59A67.29 67.29 0 0 0 461.67 152.10M461.61 152.44A67.29 67.29 0 0 0 462.41 145.85M461.20 127.43A67.29 67.29 0 0 0 459.55 121.00M459.65 121.34A67.29 67.29 0 0 0 457.40 115.09M457.53 115.41A67.29 67.29 0 0 0 454.71 109.40M350.70 88.90A68.59 68.59 0 0 0 345.78 93.55M328.20 126.82A68.59 68.59 0 0 0 327.13 133.50M376.14 206.85A68.59 68.59 0 0 0 382.73 208.42M401.52 209.30A68.59 68.59 0 0 0 408.23 208.36M463.68 146.30A68.59 68.59 0 0 0 463.87 139.54M463.88 139.90A68.59 68.59 0 0 0 463.43 133.14M460.89 120.96A68.59 68.59 0 0 0 458.60 114.59M360.36 80.48A69.88 69.88 0 0 0 354.71 84.11M355.01 83.90A69.88 69.88 0 0 0 349.58 88.15M345.10 92.39A69.88 69.88 0 0 0 340.55 97.57M340.78 97.29A69.88 69.88 0 0 0 336.73 102.87M336.93 102.57A69.88 69.88 0 0 0 333.43 108.51M325.43 139.51A69.88 69.88 0 0 0 325.63 146.40M329.72 165.14A69.88 69.88 0 0 0 332.42 171.49M343.07 187.43A69.88 69.88 0 0 0 347.90 192.35M352.61 196.33A69.88 69.88 0 0 0 358.28 200.27M375.78 208.10A69.88 69.88 0 0 0 382.49 209.70M447.29 187.70A69.88 69.88 0 0 0 451.64 182.35M457.17 108.51A69.88 69.88 0 0 0 453.67 102.57M450.05 97.57A69.88 69.88 0 0 0 445.50 92.39M435.89 84.11A69.88 69.88 0 0 0 430.24 80.48M339.77 96.47A71.18 71.18 0 0 0 335.65 102.17M357.27 201.17A71.18 71.18 0 0 0 363.39 204.63M363.06 204.46A71.18 71.18 0 0 0 369.47 207.33M433.01 201.37A71.18 71.18 0 0 0 438.78 197.36M438.48 197.58A71.18 71.18 0 0 0 443.85 193.05M456.17 177.90A71.18 71.18 0 0 0 459.51 171.72M466.27 146.51A71.18 71.18 0 0 0 466.46 139.48M466.47 139.86A71.18 71.18 0 0 0 466.01 132.85M451.07 96.77A71.18 71.18 0 0 0 446.44 91.48M353.51 81.78A72.48 72.48 0 0 0 347.88 86.19M343.23 90.58A72.48 72.48 0 0 0 338.52 95.96M323.30 132.70A72.48 72.48 0 0 0 322.83 139.83M323.81 152.95A72.48 72.48 0 0 0 325.34 159.94M341.13 189.15A72.48 72.48 0 0 0 346.14 194.26M381.64 212.18A72.48 72.48 0 0 0 388.72 213.18M433.70 202.47A72.48 72.48 0 0 0 439.57 198.39M444.46 194.26A72.48 72.48 0 0 0 449.47 189.15M464.61 119.82A72.48 72.48 0 0 0 462.19 113.09M452.08 95.96A72.48 72.48 0 0 0 447.37 90.58M447.63 90.85A72.48 72.48 0 0 0 442.43 85.94M358.41 77.11A73.78 73.78 0 0 0 352.45 80.94M347.32 84.95A73.78 73.78 0 0 0 342.03 89.96M323.12 125.74A73.78 73.78 0 0 0 321.97 132.93M322.01 132.55A73.78 73.78 0 0 0 321.53 139.81M322.53 153.17A73.78 73.78 0 0 0 324.09 160.28M422.07 209.75A73.78 73.78 0 0 0 428.72 206.77M428.38 206.95A73.78 73.78 0 0 0 434.71 203.37M445.34 195.21A73.78 73.78 0 0 0 450.44 190.02M460.62 106.70A73.78 73.78 0 0 0 456.92 100.43M346.48 83.97A75.07 75.07 0 0 0 341.10 89.06M336.73 94.04A75.07 75.07 0 0 0 332.38 100.04M320.72 132.40A75.07 75.07 0 0 0 320.24 139.79M339.19 190.88A75.07 75.07 0 0 0 344.38 196.17M349.44 200.44A75.07 75.07 0 0 0 355.52 204.67M355.19 204.46A75.07 75.07 0 0 0 361.64 208.11M409.06 214.80A75.07 75.07 0 0 0 416.27 213.09M462.85 173.75A75.07 75.07 0 0 0 465.75 166.93M470.15 146.81A75.07 75.07 0 0 0 470.36 139.40M470.36 139.79A75.07 75.07 0 0 0 469.88 132.40M357.11 74.86A76.37 76.37 0 0 0 350.94 78.83M345.64 82.98A76.37 76.37 0 0 0 340.16 88.16M319.97 153.60A76.37 76.37 0 0 0 321.58 160.96M360.70 209.09A76.37 76.37 0 0 0 367.58 212.17M380.91 216.00A76.37 76.37 0 0 0 388.37 217.06M441.63 201.71A76.37 76.37 0 0 0 447.39 196.85M460.61 180.59A76.37 76.37 0 0 0 464.19 173.96M445.27 83.24A76.37 76.37 0 0 0 439.33 78.60M342.32 197.80A77.67 77.67 0 0 0 348.18 202.74M347.86 202.50A77.67 77.67 0 0 0 354.15 206.87M366.74 213.23A77.67 77.67 0 0 0 373.99 215.69M395.10 218.67A77.67 77.67 0 0 0 402.75 218.31M423.49 213.37A77.67 77.67 0 0 0 430.48 210.24M436.45 206.87A77.67 77.67 0 0 0 442.74 202.50M453.08 192.91A77.67 77.67 0 0 0 457.91 186.96M461.72 181.26A77.67 77.67 0 0 0 465.37 174.52M471.84 154.21A77.67 77.67 0 0 0 472.77 146.60M469.58 118.30A77.67 77.67 0 0 0 466.98 111.09M460.39 98.63A77.67 77.67 0 0 0 455.90 92.42M451.38 87.26A77.67 77.67 0 0 0 445.81 82.00M440.41 77.77A77.67 77.67 0 0 0 434.13 73.74M343.95 81.01A78.97 78.97 0 0 0 338.28 86.36M338.57 86.07A78.97 78.97 0 0 0 333.43 91.93M316.85 131.95A78.97 78.97 0 0 0 316.34 139.73M324.06 175.08A78.97 78.97 0 0 0 327.77 181.93M331.64 187.73A78.97 78.97 0 0 0 336.56 193.77M373.24 216.82A78.97 78.97 0 0 0 380.82 218.63M402.47 219.64A78.97 78.97 0 0 0 410.18 218.55M430.70 211.59A78.97 78.97 0 0 0 437.49 207.75M437.14 207.97A78.97 78.97 0 0 0 443.54 203.52M462.83 181.93A78.97 78.97 0 0 0 466.54 175.08M466.36 175.45A78.97 78.97 0 0 0 469.41 168.28M469.26 168.66A78.97 78.97 0 0 0 471.63 161.24M474.03 147.11A78.97 78.97 0 0 0 474.25 139.32M349.02 75.42A80.26 80.26 0 0 0 342.79 80.30M332.68 90.79A80.26 80.26 0 0 0 328.03 97.21M328.26 96.86A80.26 80.26 0 0 0 324.24 103.68M315.05 139.29A80.26 80.26 0 0 0 315.28 147.21M330.59 188.49A80.26 80.26 0 0 0 335.59 194.64M352.42 208.85A80.26 80.26 0 0 0 359.32 212.75M410.02 219.90A80.26 80.26 0 0 0 417.72 218.07M455.01 194.64A80.26 80.26 0 0 0 460.01 188.49M459.76 188.83A80.26 80.26 0 0 0 464.16 182.25M467.52 176.01A80.26 80.26 0 0 0 470.62 168.72M475.32 147.21A80.26 80.26 0 0 0 475.55 139.29M475.55 139.71A80.26 80.26 0 0 0 475.04 131.80M469.54 110.48A80.26 80.26 0 0 0 466.16 103.31M354.52 70.36A81.56 81.56 0 0 0 347.93 74.60M331.67 89.98A81.56 81.56 0 0 0 326.95 96.50M327.18 96.14A81.56 81.56 0 0 0 323.09 103.08M314.27 131.66A81.56 81.56 0 0 0 313.75 139.69M313.95 146.88A81.56 81.56 0 0 0 314.93 154.87M314.85 154.45A81.56 81.56 0 0 0 316.57 162.32M318.76 169.17A81.56 81.56 0 0 0 321.91 176.58M329.55 189.26A81.56 81.56 0 0 0 334.63 195.51M339.67 200.64A81.56 81.56 0 0 0 345.82 205.84M365.30 216.85A81.56 81.56 0 0 0 372.93 219.43M379.93 221.10A81.56 81.56 0 0 0 387.90 222.23M417.67 219.43A81.56 81.56 0 0 0 425.30 216.85M347.53 73.30A82.86 82.86 0 0 0 341.09 78.34M341.42 78.05A82.86 82.86 0 0 0 335.47 83.67M335.77 83.36A82.86 82.86 0 0 0 330.38 89.51M326.10 95.43A82.86 82.86 0 0 0 321.94 102.47M322.14 102.09A82.86 82.86 0 0 0 318.66 109.49M312.46 139.23A82.86 82.86 0 0 0 312.69 147.41M317.54 169.62A82.86 82.86 0 0 0 320.74 177.15M324.22 183.58A82.86 82.86 0 0 0 328.76 190.38M418.03 220.68A82.86 82.86 0 0 0 425.77 218.05M445.57 206.87A82.86 82.86 0 0 0 451.82 201.59M456.94 196.38A82.86 82.86 0 0 0 462.10 190.03M461.84 190.38A82.86 82.86 0 0 0 466.38 183.58M478.15 139.67A82.86 82.86 0 0 0 477.61 131.51M340.57 77.07A84.16 84.16 0 0 0 334.54 82.77M334.84 82.46A84.16 84.16 0 0 0 329.37 88.70M325.01 94.72A84.16 84.16 0 0 0 320.79 101.87M321.00 101.48A84.16 84.16 0 0 0 317.46 109.00M311.16 139.21A84.16 84.16 0 0 0 311.39 147.51M323.10 184.25A84.16 84.16 0 0 0 327.72 191.15M350.34 212.14A84.16 84.16 0 0 0 357.57 216.23M371.79 221.81A84.16 84.16 0 0 0 379.87 223.73M379.44 223.65A84.16 84.16 0 0 0 387.66 224.81M402.94 224.81A84.16 84.16 0 0 0 411.16 223.65M452.38 202.84A84.16 84.16 0 0 0 458.20 196.91M457.90 197.24A84.16 84.16 0 0 0 463.14 190.80M476.53 162.99A84.16 84.16 0 0 0 478.31 154.88M473.14 109.00A84.16 84.16 0 0 0 469.60 101.48M465.83 95.09A84.16 84.16 0 0 0 460.96 88.36M311.69 123.33A85.46 85.46 0 0 0 310.36 131.65M318.21 177.88A85.46 85.46 0 0 0 322.22 185.30M331.43 197.78A85.46 85.46 0 0 0 337.34 203.80M356.59 217.19A85.46 85.46 0 0 0 364.29 220.63M371.43 223.05A85.46 85.46 0 0 0 379.63 225.01M426.31 220.63A85.46 85.46 0 0 0 434.01 217.19M433.61 217.39A85.46 85.46 0 0 0 440.95 213.24M479.51 155.53A85.46 85.46 0 0 0 480.53 147.16M480.74 139.63A85.46 85.46 0 0 0 480.19 131.21M479.00 123.76A85.46 85.46 0 0 0 476.89 115.60M338.88 75.10A86.75 86.75 0 0 0 332.66 80.98M332.98 80.65A86.75 86.75 0 0 0 327.33 87.09M348.95 214.34A86.75 86.75 0 0 0 356.41 218.55M371.07 224.30A86.75 86.75 0 0 0 379.39 226.28M395.07 227.75A86.75 86.75 0 0 0 403.63 227.35M426.78 221.84A86.75 86.75 0 0 0 434.60 218.34M434.19 218.55A86.75 86.75 0 0 0 441.65 214.34M441.26 214.58A86.75 86.75 0 0 0 448.29 209.69M464.97 192.70A86.75 86.75 0 0 0 469.72 185.58M469.49 185.97A86.75 86.75 0 0 0 473.56 178.44M481.79 147.71A86.75 86.75 0 0 0 482.03 139.15M468.00 93.67A86.75 86.75 0 0 0 462.98 86.73M338.04 74.11A88.05 88.05 0 0 0 331.73 80.08M332.05 79.75A88.05 88.05 0 0 0 326.32 86.28M310.19 163.57A88.05 88.05 0 0 0 312.83 171.85M315.87 179.00A88.05 88.05 0 0 0 320.00 186.64M395.07 229.05A88.05 88.05 0 0 0 403.75 228.64M474.53 179.41A88.05 88.05 0 0 0 477.93 171.41M483.09 147.81A88.05 88.05 0 0 0 483.33 139.12M476.74 107.52A88.05 88.05 0 0 0 473.04 99.65" fill="none" stroke="#cee4e0" stroke-width="1.4"/>
<path d="M366.83 125.86A32.25 32.25 0 0 0 365.47 128.74M363.75 134.33A32.25 32.25 0 0 0 363.24 137.47M363.49 146.32A32.25 32.25 0 0 0 364.17 149.43M380.69 169.75A32.25 32.25 0 0 0 383.60 171.05M395.22 173.25A32.25 32.25 0 0 0 398.39 173.10M398.23 173.12A32.25 32.25 0 0 0 401.38 172.67M425.51 152.30A32.25 32.25 0 0 0 426.47 149.27M427.45 143.49A32.25 32.25 0 0 0 427.54 140.31M392.08 174.39A33.55 33.55 0 0 0 395.39 174.55M398.34 174.41A33.55 33.55 0 0 0 401.62 173.95M407.47 172.26A33.55 33.55 0 0 0 410.50 170.91M369.26 164.15A34.84 34.84 0 0 0 371.67 166.60M379.52 172.06A34.84 34.84 0 0 0 382.65 173.47M410.92 172.15A34.84 34.84 0 0 0 413.92 170.45M413.76 170.55A34.84 34.84 0 0 0 416.58 168.59M424.50 121.99A34.84 34.84 0 0 0 422.49 119.20M377.23 109.70A36.14 36.14 0 0 0 374.31 111.58M371.80 113.54A36.14 36.14 0 0 0 369.20 115.99M367.10 118.39A36.14 36.14 0 0 0 365.01 121.28M368.29 165.01A36.14 36.14 0 0 0 370.79 167.56M378.93 173.22A36.14 36.14 0 0 0 382.18 174.68M424.32 162.54A36.14 36.14 0 0 0 426.31 159.57M431.44 140.42A36.14 36.14 0 0 0 431.20 136.86M429.86 130.44A36.14 36.14 0 0 0 428.65 127.08M425.59 121.28A36.14 36.14 0 0 0 423.50 118.39M423.62 118.54A36.14 36.14 0 0 0 421.26 115.86M421.40 115.99A36.14 36.14 0 0 0 418.80 113.54M373.71 110.41A37.44 37.44 0 0 0 370.80 112.69M370.95 112.56A37.44 37.44 0 0 0 368.27 115.10M360.75 126.58A37.44 37.44 0 0 0 359.49 130.06M359.55 129.87A37.44 37.44 0 0 0 358.63 133.45M365.12 163.15A37.44 37.44 0 0 0 367.45 166.02M378.34 174.38A37.44 37.44 0 0 0 381.71 175.89M405.57 177.00A37.44 37.44 0 0 0 409.07 175.82M425.37 163.31A37.44 37.44 0 0 0 427.42 160.24M422.33 115.10A37.44 37.44 0 0 0 419.65 112.56M358.31 129.49A38.74 38.74 0 0 0 357.36 133.19M356.57 140.17A38.74 38.74 0 0 0 356.68 144.00M357.86 150.93A38.74 38.74 0 0 0 359.02 154.57M360.35 157.72A38.74 38.74 0 0 0 362.17 161.08M377.75 175.54A38.74 38.74 0 0 0 381.24 177.10M412.67 175.63A38.74 38.74 0 0 0 416.00 173.75M432.35 129.68A38.74 38.74 0 0 0 431.05 126.08M427.76 119.87A38.74 38.74 0 0 0 425.52 116.77M372.22 108.29A40.04 40.04 0 0 0 369.11 110.72M367.99 170.28A40.04 40.04 0 0 0 371.01 172.83M416.51 174.95A40.04 40.04 0 0 0 419.75 172.70M354.07 143.98A41.33 41.33 0 0 0 354.57 148.03M380.10 179.44A41.33 41.33 0 0 0 383.96 180.75M383.75 180.69A41.33 41.33 0 0 0 387.72 181.63M413.83 177.95A41.33 41.33 0 0 0 417.38 175.94M417.20 176.06A41.33 41.33 0 0 0 420.55 173.73M436.63 140.34A41.33 41.33 0 0 0 436.36 136.26M353.59 132.18A42.63 42.63 0 0 0 352.93 136.34M366.22 172.17A42.63 42.63 0 0 0 369.44 174.89M379.62 180.64A42.63 42.63 0 0 0 383.61 182.00M417.89 177.16A42.63 42.63 0 0 0 421.34 174.75M433.66 159.60A42.63 42.63 0 0 0 435.31 155.73M433.04 121.18A42.63 42.63 0 0 0 430.90 117.55M358.61 116.84A43.93 43.93 0 0 0 356.41 120.58M352.84 152.26A43.93 43.93 0 0 0 354.16 156.39M375.40 180.16A43.93 43.93 0 0 0 379.36 181.93M383.03 183.18A43.93 43.93 0 0 0 387.25 184.18M407.35 183.24A43.93 43.93 0 0 0 411.46 181.85M430.58 167.18A43.93 43.93 0 0 0 432.98 163.57M424.04 107.78A43.93 43.93 0 0 0 420.63 105.11M362.81 109.54A45.23 45.23 0 0 0 359.87 112.89M357.53 116.13A45.23 45.23 0 0 0 355.26 119.97M350.19 144.26A45.23 45.23 0 0 0 350.73 148.69M352.86 156.62A45.23 45.23 0 0 0 354.60 160.73M364.45 174.07A45.23 45.23 0 0 0 367.86 176.95M425.97 174.23A45.23 45.23 0 0 0 429.10 171.05M433.20 116.33A45.23 45.23 0 0 0 430.59 112.71M427.95 109.71A45.23 45.23 0 0 0 424.71 106.64M356.44 115.41A46.52 46.52 0 0 0 354.11 119.37M348.79 140.01A46.52 46.52 0 0 0 348.92 144.60M349.41 148.67A46.52 46.52 0 0 0 350.39 153.16M350.33 152.92A46.52 46.52 0 0 0 351.72 157.30M355.39 164.91A46.52 46.52 0 0 0 357.94 168.72M370.44 180.33A46.52 46.52 0 0 0 374.44 182.59M408.06 185.74A46.52 46.52 0 0 0 412.41 184.26M419.95 180.46A46.52 46.52 0 0 0 423.72 177.84M440.21 153.16A46.52 46.52 0 0 0 441.19 148.67M367.73 101.93A47.82 47.82 0 0 0 364.01 104.83M347.49 139.98A47.82 47.82 0 0 0 347.62 144.70M354.28 165.57A47.82 47.82 0 0 0 356.90 169.50M369.75 181.42A47.82 47.82 0 0 0 373.86 183.75M386.29 187.96A47.82 47.82 0 0 0 390.96 188.62M420.64 181.56A47.82 47.82 0 0 0 424.51 178.86M424.31 179.02A47.82 47.82 0 0 0 427.92 175.97M437.64 118.77A47.82 47.82 0 0 0 435.24 114.70M423.07 102.07A47.82 47.82 0 0 0 419.21 99.59M366.98 100.87A49.12 49.12 0 0 0 363.16 103.85M346.50 135.37A49.12 49.12 0 0 0 346.19 140.21M346.31 144.54A49.12 49.12 0 0 0 346.90 149.35M369.06 182.52A49.12 49.12 0 0 0 373.28 184.91M373.05 184.79A49.12 49.12 0 0 0 377.47 186.77M381.58 188.16A49.12 49.12 0 0 0 386.29 189.29M345.57 149.32A50.42 50.42 0 0 0 346.64 154.18M349.82 162.76A50.42 50.42 0 0 0 352.18 167.13M354.66 170.83A50.42 50.42 0 0 0 357.80 174.69M372.46 185.95A50.42 50.42 0 0 0 377.00 187.98M435.79 171.04A50.42 50.42 0 0 0 438.55 166.91M439.94 117.56A50.42 50.42 0 0 0 437.41 113.27M349.64 116.72A51.71 51.71 0 0 0 347.47 121.33M347.57 121.08A51.71 51.71 0 0 0 345.84 125.89M344.29 149.53A51.71 51.71 0 0 0 345.38 154.52M371.87 187.10A51.71 51.71 0 0 0 376.53 189.19M385.55 191.79A51.71 51.71 0 0 0 390.61 192.50M418.48 187.23A51.71 51.71 0 0 0 422.93 184.72M426.67 182.11A51.71 51.71 0 0 0 430.57 178.82M433.77 175.56A51.71 51.71 0 0 0 436.99 171.60M443.74 159.12A51.71 51.71 0 0 0 445.29 154.25M444.76 125.89A51.71 51.71 0 0 0 443.03 121.08M441.08 116.96A51.71 51.71 0 0 0 438.49 112.56M438.64 112.79A51.71 51.71 0 0 0 435.65 108.65M429.14 101.89A51.71 51.71 0 0 0 425.12 98.75M345.55 159.31A53.01 53.01 0 0 0 347.60 164.13M347.48 163.88A53.01 53.01 0 0 0 349.97 168.48M352.56 172.37A53.01 53.01 0 0 0 355.86 176.43M362.92 182.97A53.01 53.01 0 0 0 367.21 185.96M366.98 185.81A53.01 53.01 0 0 0 371.53 188.39M380.49 191.90A53.01 53.01 0 0 0 385.58 193.11M390.21 193.77A53.01 53.01 0 0 0 395.44 194.01M443.00 164.13A53.01 53.01 0 0 0 445.05 159.31M444.95 159.57A53.01 53.01 0 0 0 446.54 154.59M444.33 120.84A53.01 53.01 0 0 0 442.10 116.11M433.58 104.32A53.01 53.01 0 0 0 429.77 100.73M429.98 100.91A53.01 53.01 0 0 0 425.86 97.68M359.98 99.74A54.31 54.31 0 0 0 356.09 103.42M356.28 103.22A54.31 54.31 0 0 0 352.75 107.25M341.00 139.84A54.31 54.31 0 0 0 341.15 145.20M346.31 164.44A54.31 54.31 0 0 0 348.86 169.15M380.13 193.15A54.31 54.31 0 0 0 385.34 194.39M390.09 195.06A54.31 54.31 0 0 0 395.44 195.31M395.16 195.31A54.31 54.31 0 0 0 400.51 195.06M415.01 191.61A54.31 54.31 0 0 0 419.90 189.42M446.17 160.03A54.31 54.31 0 0 0 447.80 154.92M445.53 120.35A54.31 54.31 0 0 0 443.25 115.50M343.98 119.59A55.61 55.61 0 0 0 342.12 124.75M342.21 124.47A55.61 55.61 0 0 0 340.83 129.78M400.35 196.38A55.61 55.61 0 0 0 405.78 195.61M410.55 194.47A55.61 55.61 0 0 0 415.75 192.71M424.76 188.16A55.61 55.61 0 0 0 429.27 185.03M436.67 178.16A55.61 55.61 0 0 0 440.13 173.90M448.98 155.53A55.61 55.61 0 0 0 450.15 150.17M450.10 150.46A55.61 55.61 0 0 0 450.76 145.01M450.57 134.92A55.61 55.61 0 0 0 449.71 129.50M449.77 129.78A55.61 55.61 0 0 0 448.39 124.47M435.45 102.53A55.61 55.61 0 0 0 431.46 98.76M431.68 98.95A55.61 55.61 0 0 0 427.36 95.56M427.60 95.73A55.61 55.61 0 0 0 423.10 92.84M362.49 94.50A56.91 56.91 0 0 0 358.07 97.96M347.77 109.70A56.91 56.91 0 0 0 344.92 114.54M338.77 134.48A56.91 56.91 0 0 0 338.40 140.08M346.48 170.24A56.91 56.91 0 0 0 349.60 174.91M360.54 186.06A56.91 56.91 0 0 0 365.15 189.26M364.90 189.10A56.91 56.91 0 0 0 369.79 191.87M389.84 197.64A56.91 56.91 0 0 0 395.45 197.91M405.73 196.94A56.91 56.91 0 0 0 411.20 195.64M451.86 134.78A56.91 56.91 0 0 0 450.98 129.23M343.91 113.67A58.20 58.20 0 0 0 341.47 118.87M355.60 183.56A58.20 58.20 0 0 0 359.99 187.27M359.75 187.08A58.20 58.20 0 0 0 364.46 190.36M364.21 190.20A58.20 58.20 0 0 0 369.21 193.03M400.58 198.96A58.20 58.20 0 0 0 406.27 198.16M449.81 161.39A58.20 58.20 0 0 0 451.56 155.92M440.90 104.83A58.20 58.20 0 0 0 437.11 100.51M348.88 103.78A59.50 59.50 0 0 0 345.43 108.54M338.49 123.31A59.50 59.50 0 0 0 337.02 129.00M335.81 139.73A59.50 59.50 0 0 0 335.98 145.60M358.95 188.11A59.50 59.50 0 0 0 363.78 191.46M368.35 194.05A59.50 59.50 0 0 0 373.71 196.44M378.68 198.13A59.50 59.50 0 0 0 384.39 199.49M389.59 200.23A59.50 59.50 0 0 0 395.46 200.50M426.82 191.46A59.50 59.50 0 0 0 431.65 188.11M445.17 108.54A59.50 59.50 0 0 0 441.72 103.78M351.62 98.71A60.80 60.80 0 0 0 347.67 103.22M337.25 122.93A60.80 60.80 0 0 0 335.75 128.74M335.82 128.43A60.80 60.80 0 0 0 334.87 134.35M334.51 139.70A60.80 60.80 0 0 0 334.68 145.70M336.53 156.58A60.80 60.80 0 0 0 338.35 162.30M338.24 162.00A60.80 60.80 0 0 0 340.59 167.52M343.14 172.24A60.80 60.80 0 0 0 346.48 177.23M362.82 192.40A60.80 60.80 0 0 0 368.04 195.35M400.82 201.55A60.80 60.80 0 0 0 406.76 200.71M417.36 197.65A60.80 60.80 0 0 0 422.84 195.20M456.09 140.02A60.80 60.80 0 0 0 455.70 134.03M442.93 103.22A60.80 60.80 0 0 0 438.98 98.71M354.92 93.83A62.10 62.10 0 0 0 350.47 98.04M334.05 151.24A62.10 62.10 0 0 0 335.36 157.23M339.28 167.80A62.10 62.10 0 0 0 342.20 173.19M352.94 186.41A62.10 62.10 0 0 0 357.63 190.36M357.37 190.17A62.10 62.10 0 0 0 362.40 193.66M400.94 202.84A62.10 62.10 0 0 0 407.00 201.98M406.68 202.04A62.10 62.10 0 0 0 412.65 200.62M448.40 173.19A62.10 62.10 0 0 0 451.32 167.80M455.24 157.23A62.10 62.10 0 0 0 456.55 151.24M457.39 140.00A62.10 62.10 0 0 0 456.99 133.89M454.69 122.85A62.10 62.10 0 0 0 452.61 117.09M447.34 107.12A62.10 62.10 0 0 0 443.75 102.16M342.35 106.14A63.39 63.39 0 0 0 339.17 111.52M339.33 111.23A63.39 63.39 0 0 0 336.67 116.89M336.80 116.59A63.39 63.39 0 0 0 334.67 122.47M334.77 122.16A63.39 63.39 0 0 0 333.21 128.21M331.92 139.65A63.39 63.39 0 0 0 332.10 145.90M334.02 157.25A63.39 63.39 0 0 0 335.92 163.21M338.11 168.36A63.39 63.39 0 0 0 341.09 173.86M340.92 173.58A63.39 63.39 0 0 0 344.39 178.78M361.43 194.59A63.39 63.39 0 0 0 366.88 197.67M377.59 201.87A63.39 63.39 0 0 0 383.68 203.32M389.22 204.10A63.39 63.39 0 0 0 395.47 204.39M395.13 204.39A63.39 63.39 0 0 0 401.38 204.10M442.46 183.37A63.39 63.39 0 0 0 446.41 178.51M449.51 173.86A63.39 63.39 0 0 0 452.49 168.36M436.78 93.06A63.39 63.39 0 0 0 431.85 89.20M358.00 88.14A64.69 64.69 0 0 0 352.97 92.08M335.60 116.09A64.69 64.69 0 0 0 333.43 122.09M331.03 133.59A64.69 64.69 0 0 0 330.62 139.96M330.62 139.62A64.69 64.69 0 0 0 330.80 146.00M331.49 151.67A64.69 64.69 0 0 0 332.86 157.91M332.77 157.58A64.69 64.69 0 0 0 334.71 163.66M366.00 198.67A64.69 64.69 0 0 0 371.82 201.28M418.78 201.28A64.69 64.69 0 0 0 424.60 198.67M459.60 133.93A64.69 64.69 0 0 0 458.59 127.62M442.01 96.24A64.69 64.69 0 0 0 437.37 91.85M437.63 92.08A64.69 64.69 0 0 0 432.60 88.14M352.39 90.87A65.99 65.99 0 0 0 347.65 95.34M343.82 99.72A65.99 65.99 0 0 0 340.00 105.00M337.04 110.01A65.99 65.99 0 0 0 334.27 115.91M388.97 206.69A65.99 65.99 0 0 0 395.47 206.99M413.40 204.46A65.99 65.99 0 0 0 419.57 202.36M459.93 127.69A65.99 65.99 0 0 0 458.31 121.38M438.48 91.09A65.99 65.99 0 0 0 433.35 87.08M356.51 86.02A67.29 67.29 0 0 0 351.28 90.11M351.54 89.88A67.29 67.29 0 0 0 346.72 94.45M342.80 98.91A67.29 67.29 0 0 0 338.91 104.29M333.20 115.09A67.29 67.29 0 0 0 330.95 121.34M328.03 139.57A67.29 67.29 0 0 0 328.21 146.20M332.15 164.24A67.29 67.29 0 0 0 334.75 170.35M382.62 207.08A67.29 67.29 0 0 0 389.19 208.01M401.41 208.01A67.29 67.29 0 0 0 407.98 207.08M419.72 203.70A67.29 67.29 0 0 0 425.78 200.99M361.01 81.60A68.59 68.59 0 0 0 355.47 85.17M341.79 98.10A68.59 68.59 0 0 0 337.82 103.58M334.75 108.79A68.59 68.59 0 0 0 331.87 114.92M329.81 120.61A68.59 68.59 0 0 0 328.12 127.17M327.17 133.14A68.59 68.59 0 0 0 326.72 139.90M329.01 158.58A68.59 68.59 0 0 0 331.06 165.03M330.94 164.69A68.59 68.59 0 0 0 333.58 170.92M344.04 186.57A68.59 68.59 0 0 0 348.78 191.40M388.72 209.27A68.59 68.59 0 0 0 395.48 209.58M441.82 191.40A68.59 68.59 0 0 0 446.56 186.57M453.95 176.55A68.59 68.59 0 0 0 457.17 170.60M457.02 170.92A68.59 68.59 0 0 0 459.66 164.69M458.73 114.92A68.59 68.59 0 0 0 455.85 108.79M444.82 93.55A68.59 68.59 0 0 0 439.90 88.90M440.17 89.13A68.59 68.59 0 0 0 434.84 84.96M330.81 114.09A69.88 69.88 0 0 0 328.47 120.58M347.63 192.10A69.88 69.88 0 0 0 352.90 196.55M401.64 210.59A69.88 69.88 0 0 0 408.47 209.63M458.18 171.49A69.88 69.88 0 0 0 460.88 165.14M462.75 159.26A69.88 69.88 0 0 0 464.23 152.53M441.02 88.15A69.88 69.88 0 0 0 435.59 83.90M349.01 86.93A71.18 71.18 0 0 0 343.91 91.75M344.16 91.48A71.18 71.18 0 0 0 339.53 96.77M332.46 107.57A71.18 71.18 0 0 0 329.47 113.93M327.34 119.84A71.18 71.18 0 0 0 325.58 126.64M324.59 132.85A71.18 71.18 0 0 0 324.13 139.86M324.14 139.48A71.18 71.18 0 0 0 324.33 146.51M395.11 212.18A71.18 71.18 0 0 0 402.13 211.85M401.76 211.89A71.18 71.18 0 0 0 408.72 210.90M421.13 207.33A71.18 71.18 0 0 0 427.54 204.46M464.01 159.60A71.18 71.18 0 0 0 465.51 152.74M463.37 120.20A71.18 71.18 0 0 0 460.99 113.59M461.13 113.93A71.18 71.18 0 0 0 458.14 107.57M454.95 102.17A71.18 71.18 0 0 0 450.83 96.47M441.87 87.17A71.18 71.18 0 0 0 436.34 82.84M326.10 119.46A72.48 72.48 0 0 0 324.31 126.38M351.03 198.39A72.48 72.48 0 0 0 356.90 202.47M356.58 202.27A72.48 72.48 0 0 0 362.81 205.79M362.47 205.62A72.48 72.48 0 0 0 369.00 208.54M395.11 213.48A72.48 72.48 0 0 0 402.26 213.14M401.88 213.18A72.48 72.48 0 0 0 408.96 212.18M421.60 208.54A72.48 72.48 0 0 0 428.13 205.62M457.28 178.57A72.48 72.48 0 0 0 460.68 172.28M467.34 133.07A72.48 72.48 0 0 0 466.21 126.01M459.47 107.30A72.48 72.48 0 0 0 455.83 101.14M352.77 80.72A73.78 73.78 0 0 0 347.03 85.21M337.74 94.85A73.78 73.78 0 0 0 333.47 100.75M340.16 190.02A73.78 73.78 0 0 0 345.26 195.21M344.98 194.95A73.78 73.78 0 0 0 350.54 199.65M355.89 203.37A73.78 73.78 0 0 0 362.22 206.95M361.88 206.77A73.78 73.78 0 0 0 368.53 209.75M381.39 213.45A73.78 73.78 0 0 0 388.60 214.47M395.11 214.78A73.78 73.78 0 0 0 402.38 214.44M402.00 214.47A73.78 73.78 0 0 0 409.21 213.45M434.39 203.57A73.78 73.78 0 0 0 440.37 199.41M454.55 184.97A73.78 73.78 0 0 0 458.59 178.91M466.51 160.28A73.78 73.78 0 0 0 468.07 153.17M443.57 85.21A73.78 73.78 0 0 0 437.83 80.72M352.02 79.66A75.07 75.07 0 0 0 346.18 84.22M326.02 112.09A75.07 75.07 0 0 0 323.50 119.06M320.24 139.40A75.07 75.07 0 0 0 320.45 146.81M320.42 146.41A75.07 75.07 0 0 0 321.32 153.77M330.90 179.58A75.07 75.07 0 0 0 335.01 185.74M361.29 207.93A75.07 75.07 0 0 0 368.06 210.96M395.10 216.07A75.07 75.07 0 0 0 402.50 215.73M402.11 215.76A75.07 75.07 0 0 0 409.45 214.73M440.85 200.68A75.07 75.07 0 0 0 446.51 195.90M467.76 160.62A75.07 75.07 0 0 0 469.35 153.38M467.10 119.06A75.07 75.07 0 0 0 464.58 112.09M464.73 112.45A75.07 75.07 0 0 0 461.58 105.75M454.12 94.35A75.07 75.07 0 0 0 449.23 88.78M444.42 84.22A75.07 75.07 0 0 0 438.58 79.66M351.27 78.60A76.37 76.37 0 0 0 345.33 83.24M335.72 93.23A76.37 76.37 0 0 0 331.30 99.33M322.38 118.30A76.37 76.37 0 0 0 320.50 125.60M319.43 132.25A76.37 76.37 0 0 0 318.94 139.77M348.65 201.47A76.37 76.37 0 0 0 354.84 205.77M395.10 217.37A76.37 76.37 0 0 0 402.63 217.02M402.23 217.06A76.37 76.37 0 0 0 409.69 216.00M435.76 205.77A76.37 76.37 0 0 0 441.95 201.47M452.11 192.04A76.37 76.37 0 0 0 456.87 186.19M471.66 139.77A76.37 76.37 0 0 0 471.17 132.25M334.70 92.42A77.67 77.67 0 0 0 330.21 98.63M337.25 192.60A77.67 77.67 0 0 0 342.62 198.07M472.74 147.01A77.67 77.67 0 0 0 472.95 139.34M349.77 76.48A78.97 78.97 0 0 0 343.63 81.28M333.69 91.60A78.97 78.97 0 0 0 329.12 97.92M325.58 103.92A78.97 78.97 0 0 0 322.27 110.97M318.04 124.67A78.97 78.97 0 0 0 316.81 132.36M336.28 193.47A78.97 78.97 0 0 0 341.74 199.03M359.53 211.40A78.97 78.97 0 0 0 366.64 214.58M471.52 161.64A78.97 78.97 0 0 0 473.19 154.02M474.26 139.73A78.97 78.97 0 0 0 473.75 131.95M461.48 97.92A78.97 78.97 0 0 0 456.91 91.60M315.56 131.80A80.26 80.26 0 0 0 315.05 139.71M340.55 199.70A80.26 80.26 0 0 0 346.60 204.81M437.83 209.07A80.26 80.26 0 0 0 444.33 204.55M470.48 169.12A80.26 80.26 0 0 0 472.88 161.57M473.92 124.81A80.26 80.26 0 0 0 471.94 117.14M472.06 117.54A80.26 80.26 0 0 0 469.37 110.09M348.28 74.36A81.56 81.56 0 0 0 341.94 79.32M323.29 102.70A81.56 81.56 0 0 0 319.86 109.98M313.76 139.26A81.56 81.56 0 0 0 313.98 147.31M325.33 182.91A81.56 81.56 0 0 0 329.80 189.61M345.48 205.58A81.56 81.56 0 0 0 352.09 210.17M444.78 205.84A81.56 81.56 0 0 0 450.93 200.64M476.85 139.69A81.56 81.56 0 0 0 476.33 131.66M473.30 117.16A81.56 81.56 0 0 0 470.57 109.59M463.65 96.50A81.56 81.56 0 0 0 458.93 89.98M459.20 90.31A81.56 81.56 0 0 0 453.89 84.26M448.66 79.32A81.56 81.56 0 0 0 442.32 74.36M312.99 131.51A82.86 82.86 0 0 0 312.45 139.67M312.66 146.98A82.86 82.86 0 0 0 313.65 155.09M313.57 154.67A82.86 82.86 0 0 0 315.32 162.66M351.03 211.04A82.86 82.86 0 0 0 358.15 215.07M402.82 223.52A82.86 82.86 0 0 0 410.92 222.38M410.49 222.46A82.86 82.86 0 0 0 418.45 220.56M425.37 218.21A82.86 82.86 0 0 0 432.83 214.87M468.66 102.47A82.86 82.86 0 0 0 464.50 95.43M455.13 83.67A82.86 82.86 0 0 0 449.18 78.05M346.78 72.24A84.16 84.16 0 0 0 340.24 77.35M311.36 147.07A84.16 84.16 0 0 0 312.37 155.31M312.29 154.88A84.16 84.16 0 0 0 314.07 162.99M387.22 224.77A84.16 84.16 0 0 0 395.52 225.16M410.73 223.73A84.16 84.16 0 0 0 418.81 221.81M425.84 219.42A84.16 84.16 0 0 0 433.42 216.03M446.36 207.90A84.16 84.16 0 0 0 452.70 202.54M462.88 191.15A84.16 84.16 0 0 0 467.50 184.25M479.21 147.51A84.16 84.16 0 0 0 479.44 139.21M456.06 82.77A84.16 84.16 0 0 0 450.03 77.07M352.57 66.99A85.46 85.46 0 0 0 345.67 71.44M333.91 81.55A85.46 85.46 0 0 0 328.35 87.89M323.93 94.00A85.46 85.46 0 0 0 319.64 101.27M310.07 147.16A85.46 85.46 0 0 0 311.09 155.53M311.01 155.09A85.46 85.46 0 0 0 312.81 163.33M337.01 203.49A85.46 85.46 0 0 0 343.46 208.93M349.65 213.24A85.46 85.46 0 0 0 356.99 217.39M387.10 226.06A85.46 85.46 0 0 0 395.52 226.46M480.50 147.61A85.46 85.46 0 0 0 480.74 139.18M474.34 108.50A85.46 85.46 0 0 0 470.75 100.87M351.92 65.87A86.75 86.75 0 0 0 344.91 70.38M327.62 86.73A86.75 86.75 0 0 0 322.60 93.67M322.84 93.29A86.75 86.75 0 0 0 318.49 100.66M308.57 139.15A86.75 86.75 0 0 0 308.81 147.71M309.73 155.31A86.75 86.75 0 0 0 311.56 163.67M311.44 163.23A86.75 86.75 0 0 0 314.04 171.39M336.13 204.44A86.75 86.75 0 0 0 342.67 209.96M363.39 221.67A86.75 86.75 0 0 0 371.50 224.43M403.17 227.40A86.75 86.75 0 0 0 411.65 226.20M475.54 108.01A86.75 86.75 0 0 0 471.89 100.26M309.15 122.79A88.05 88.05 0 0 0 307.78 131.37M307.27 139.12A88.05 88.05 0 0 0 307.51 147.81M307.48 147.35A88.05 88.05 0 0 0 308.53 155.98M329.49 199.50A88.05 88.05 0 0 0 335.58 205.70M335.24 205.39A88.05 88.05 0 0 0 341.88 211.00M348.26 215.43A88.05 88.05 0 0 0 355.83 219.71M355.41 219.50A88.05 88.05 0 0 0 363.35 223.05M386.85 228.64A88.05 88.05 0 0 0 395.53 229.05M427.25 223.05A88.05 88.05 0 0 0 435.19 219.50M448.72 211.00A88.05 88.05 0 0 0 455.36 205.39M460.80 199.84A88.05 88.05 0 0 0 466.28 193.10M470.60 186.64A88.05 88.05 0 0 0 474.73 179.00M482.82 131.37A88.05 88.05 0 0 0 481.45 122.79M479.51 115.27A88.05 88.05 0 0 0 476.56 107.09" fill="none" stroke="#daeae5" stroke-width="1.4"/>
<path d="M364.51 131.41A32.25 32.25 0 0 0 363.71 134.50M375.96 113.59A33.55 33.55 0 0 0 373.35 115.63M363.27 131.03A33.55 33.55 0 0 0 362.44 134.23M362.21 146.53A33.55 33.55 0 0 0 362.92 149.77M374.81 167.56A33.55 33.55 0 0 0 377.53 169.45M428.16 134.23A33.55 33.55 0 0 0 427.33 131.03M425.00 125.40A33.55 33.55 0 0 0 423.32 122.55M363.14 127.58A34.84 34.84 0 0 0 361.98 130.82M382.49 173.40A34.84 34.84 0 0 0 385.74 174.51M429.43 133.97A34.84 34.84 0 0 0 428.57 130.64M428.62 130.82A34.84 34.84 0 0 0 427.46 127.58M374.46 111.47A36.14 36.14 0 0 0 371.65 113.67M359.40 136.86A36.14 36.14 0 0 0 359.16 140.42M416.29 111.58A36.14 36.14 0 0 0 413.37 109.70M427.32 160.41A37.44 37.44 0 0 0 429.07 157.16M370.11 111.57A38.74 38.74 0 0 0 367.33 114.20M359.55 126.08A38.74 38.74 0 0 0 358.25 129.68M391.58 179.56A38.74 38.74 0 0 0 395.40 179.74M428.43 161.08A38.74 38.74 0 0 0 430.25 157.72M417.80 109.47A38.74 38.74 0 0 0 414.67 107.45M357.73 154.83A40.04 40.04 0 0 0 359.28 158.47M363.03 164.69A40.04 40.04 0 0 0 365.52 167.76M428.85 119.16A40.04 40.04 0 0 0 426.54 115.96M356.51 155.28A41.33 41.33 0 0 0 358.11 159.03M387.51 181.59A41.33 41.33 0 0 0 391.55 182.16M435.20 151.80A41.33 41.33 0 0 0 436.07 147.82M433.53 125.28A41.33 41.33 0 0 0 431.79 121.59M367.58 108.61A42.63 42.63 0 0 0 364.52 111.50M399.17 183.45A42.63 42.63 0 0 0 403.34 182.87M431.76 163.10A42.63 42.63 0 0 0 433.76 159.40M426.08 111.50A42.63 42.63 0 0 0 423.02 108.61M432.87 163.77A43.93 43.93 0 0 0 434.93 159.96M420.81 105.24A43.93 43.93 0 0 0 417.26 102.96M422.74 176.95A45.23 45.23 0 0 0 426.15 174.07M354.22 119.15A46.52 46.52 0 0 0 352.27 123.31M432.66 168.72A46.52 46.52 0 0 0 435.21 164.91M435.09 165.12A46.52 46.52 0 0 0 437.27 161.08M437.16 161.30A46.52 46.52 0 0 0 438.96 157.07M438.88 157.30A46.52 46.52 0 0 0 440.27 152.92M434.29 115.62A46.52 46.52 0 0 0 431.60 111.90M355.36 114.70A47.82 47.82 0 0 0 352.96 118.77M438.33 161.86A47.82 47.82 0 0 0 440.18 157.52M442.42 149.13A47.82 47.82 0 0 0 443.00 144.45M417.32 184.91A49.12 49.12 0 0 0 421.54 182.52M444.41 140.21A49.12 49.12 0 0 0 444.10 135.37M366.23 99.81A50.42 50.42 0 0 0 362.31 102.87M353.19 113.27A50.42 50.42 0 0 0 350.66 117.56M368.36 183.62A50.42 50.42 0 0 0 372.70 186.07M429.50 178.05A50.42 50.42 0 0 0 432.98 174.50M438.42 167.13A50.42 50.42 0 0 0 440.78 162.76M441.93 121.83A50.42 50.42 0 0 0 439.81 117.33M437.55 113.49A50.42 50.42 0 0 0 434.64 109.46M365.48 98.75A51.71 51.71 0 0 0 361.46 101.89M345.92 125.63A51.71 51.71 0 0 0 344.65 130.57M367.67 184.72A51.71 51.71 0 0 0 372.12 187.23M380.85 190.66A51.71 51.71 0 0 0 385.82 191.84M441.83 163.56A51.71 51.71 0 0 0 443.83 158.86M447.01 140.17A51.71 51.71 0 0 0 446.67 135.08M432.64 105.22A51.71 51.71 0 0 0 428.93 101.71M353.94 107.84A53.01 53.01 0 0 0 350.87 112.08M346.38 120.58A53.01 53.01 0 0 0 344.60 125.51M343.01 149.74A53.01 53.01 0 0 0 344.13 154.85M442.23 116.35A53.01 53.01 0 0 0 439.58 111.85M345.18 120.09A54.31 54.31 0 0 0 343.36 125.13M343.44 124.86A54.31 54.31 0 0 0 342.11 130.05M342.16 129.77A54.31 54.31 0 0 0 341.32 135.06M341.73 149.96A54.31 54.31 0 0 0 342.88 155.19M366.28 186.91A54.31 54.31 0 0 0 370.95 189.55M419.65 189.55A54.31 54.31 0 0 0 424.32 186.91M447.72 155.19A54.31 54.31 0 0 0 448.87 149.96M434.51 103.42A54.31 54.31 0 0 0 430.62 99.74M367.50 92.84A55.61 55.61 0 0 0 363.00 95.73M355.35 102.32A55.61 55.61 0 0 0 351.73 106.44M340.06 134.63A55.61 55.61 0 0 0 339.70 140.11M347.60 169.57A55.61 55.61 0 0 0 350.64 174.14M365.59 188.01A55.61 55.61 0 0 0 370.37 190.71M395.15 196.61A55.61 55.61 0 0 0 400.64 196.35M429.04 185.21A55.61 55.61 0 0 0 433.23 181.66M445.34 165.26A55.61 55.61 0 0 0 447.49 160.21M450.90 140.11A55.61 55.61 0 0 0 450.54 134.63M448.48 124.75A55.61 55.61 0 0 0 446.62 119.59M342.78 119.09A56.91 56.91 0 0 0 340.88 124.37M340.97 124.08A56.91 56.91 0 0 0 339.56 129.52M341.90 160.66A56.91 56.91 0 0 0 344.09 165.82M395.15 197.91A56.91 56.91 0 0 0 400.76 197.64M448.60 160.94A56.91 56.91 0 0 0 450.31 155.58M442.99 109.95A56.91 56.91 0 0 0 439.70 105.40M341.59 118.59A58.20 58.20 0 0 0 339.64 123.99M337.11 139.76A58.20 58.20 0 0 0 337.27 145.50M345.37 170.91A58.20 58.20 0 0 0 348.56 175.68M421.39 193.03A58.20 58.20 0 0 0 426.39 190.20M452.31 129.26A58.20 58.20 0 0 0 450.87 123.70M433.38 96.98A58.20 58.20 0 0 0 428.86 93.44M337.09 128.69A59.50 59.50 0 0 0 336.16 134.49M344.26 171.58A59.50 59.50 0 0 0 347.52 176.46M395.14 200.50A59.50 59.50 0 0 0 401.01 200.23M400.70 200.26A59.50 59.50 0 0 0 406.51 199.43M416.89 196.44A59.50 59.50 0 0 0 422.25 194.05M446.18 171.84A59.50 59.50 0 0 0 448.98 166.68M454.62 145.60A59.50 59.50 0 0 0 454.79 139.73M452.20 123.61A59.50 59.50 0 0 0 450.21 118.09M334.90 134.03A60.80 60.80 0 0 0 334.51 140.02M334.66 145.38A60.80 60.80 0 0 0 335.39 151.34M353.83 185.46A60.80 60.80 0 0 0 358.41 189.33M383.84 200.71A60.80 60.80 0 0 0 389.78 201.55M432.19 189.33A60.80 60.80 0 0 0 436.77 185.46M450.01 167.52A60.80 60.80 0 0 0 452.36 162.00M350.69 97.80A62.10 62.10 0 0 0 346.65 102.41M337.99 117.09A62.10 62.10 0 0 0 335.91 122.85M336.01 122.54A62.10 62.10 0 0 0 334.48 128.48M377.95 200.62A62.10 62.10 0 0 0 383.92 202.04M383.60 201.98A62.10 62.10 0 0 0 389.66 202.84M417.84 198.86A62.10 62.10 0 0 0 423.43 196.36M335.81 162.90A63.39 63.39 0 0 0 338.26 168.66M383.35 203.26A63.39 63.39 0 0 0 389.55 204.13M401.05 204.13A63.39 63.39 0 0 0 407.25 203.26M362.95 84.98A64.69 64.69 0 0 0 357.73 88.34M353.23 91.85A64.69 64.69 0 0 0 348.59 96.24M333.53 121.77A64.69 64.69 0 0 0 331.94 127.95M360.74 195.69A64.69 64.69 0 0 0 366.30 198.83M377.23 203.12A64.69 64.69 0 0 0 383.44 204.60M389.09 205.39A64.69 64.69 0 0 0 395.47 205.69M395.13 205.69A64.69 64.69 0 0 0 401.51 205.39M443.42 184.23A64.69 64.69 0 0 0 447.45 179.28M458.66 127.95A64.69 64.69 0 0 0 457.07 121.77M432.87 88.34A64.69 64.69 0 0 0 427.65 84.98M333.37 163.79A65.99 65.99 0 0 0 335.92 169.79M350.29 189.26A65.99 65.99 0 0 0 355.27 193.46M382.86 205.81A65.99 65.99 0 0 0 389.31 206.72M401.29 206.72A65.99 65.99 0 0 0 407.74 205.81M440.06 189.49A65.99 65.99 0 0 0 444.62 184.84M328.93 152.10A67.29 67.29 0 0 0 330.35 158.59M454.87 109.71A67.29 67.29 0 0 0 451.50 103.99M439.32 90.11A67.29 67.29 0 0 0 434.09 86.02M346.03 93.29A68.59 68.59 0 0 0 341.57 98.38M338.02 103.28A68.59 68.59 0 0 0 334.58 109.11M332.00 114.59A68.59 68.59 0 0 0 329.71 120.96M340.01 181.58A68.59 68.59 0 0 0 344.28 186.84M414.11 206.95A68.59 68.59 0 0 0 420.52 204.78M446.32 186.84A68.59 68.59 0 0 0 450.59 181.58M349.86 87.91A69.88 69.88 0 0 0 344.84 92.65M333.60 108.18A69.88 69.88 0 0 0 330.67 114.43M325.88 132.99A69.88 69.88 0 0 0 325.43 139.88M326.37 152.53A69.88 69.88 0 0 0 327.85 159.26M395.12 210.88A69.88 69.88 0 0 0 402.01 210.56M426.63 203.47A69.88 69.88 0 0 0 432.63 200.07M455.06 177.22A69.88 69.88 0 0 0 458.34 171.16M463.75 126.91A69.88 69.88 0 0 0 462.02 120.23M325.66 126.28A71.18 71.18 0 0 0 324.55 133.22M325.09 152.74A71.18 71.18 0 0 0 326.59 159.60M334.24 177.58A71.18 71.18 0 0 0 338.14 183.42M388.47 211.85A71.18 71.18 0 0 0 395.49 212.18M443.58 193.31A71.18 71.18 0 0 0 448.50 188.29M458.32 107.90A71.18 71.18 0 0 0 454.75 101.85M322.84 139.46A72.48 72.48 0 0 0 323.04 146.61M460.52 172.62A72.48 72.48 0 0 0 463.32 166.04M467.77 139.83A72.48 72.48 0 0 0 467.30 132.70M333.68 100.43A73.78 73.78 0 0 0 329.98 106.70M330.16 106.36A73.78 73.78 0 0 0 327.07 112.95M324.86 119.07A73.78 73.78 0 0 0 323.04 126.12M450.18 190.30A73.78 73.78 0 0 0 454.77 184.65M453.10 95.15A73.78 73.78 0 0 0 448.30 89.68M341.37 88.78A75.07 75.07 0 0 0 336.48 94.35M332.60 99.71A75.07 75.07 0 0 0 328.83 106.09M329.02 105.75A75.07 75.07 0 0 0 325.87 112.45M323.62 118.68A75.07 75.07 0 0 0 321.77 125.86M422.54 210.96A75.07 75.07 0 0 0 429.31 207.93M446.22 196.17A75.07 75.07 0 0 0 451.41 190.88M459.50 179.91A75.07 75.07 0 0 0 463.02 173.40M331.52 99.00A76.37 76.37 0 0 0 327.69 105.49M343.21 196.85A76.37 76.37 0 0 0 348.97 201.71M354.50 205.56A76.37 76.37 0 0 0 361.06 209.27M423.02 212.17A76.37 76.37 0 0 0 429.90 209.09M330.43 98.28A77.67 77.67 0 0 0 326.54 104.89M326.73 104.53A77.67 77.67 0 0 0 323.47 111.47M409.54 217.35A77.67 77.67 0 0 0 417.00 215.58M416.61 215.69A77.67 77.67 0 0 0 423.86 213.23M472.50 132.51A77.67 77.67 0 0 0 471.29 124.94M473.12 154.43A78.97 78.97 0 0 0 474.06 146.70M470.82 117.92A78.97 78.97 0 0 0 468.18 110.59M452.32 86.36A78.97 78.97 0 0 0 446.65 81.01M441.16 76.72A78.97 78.97 0 0 0 434.78 72.61M355.17 71.49A80.26 80.26 0 0 0 348.68 75.66M317.72 161.57A80.26 80.26 0 0 0 320.12 169.12M335.31 194.33A80.26 80.26 0 0 0 340.86 199.98M358.94 212.56A80.26 80.26 0 0 0 366.17 215.79M365.78 215.64A80.26 80.26 0 0 0 373.28 218.19M395.09 221.26A80.26 80.26 0 0 0 403.00 220.89M424.43 215.79A80.26 80.26 0 0 0 431.66 212.56M444.00 204.81A80.26 80.26 0 0 0 450.05 199.70M342.26 79.04A81.56 81.56 0 0 0 336.41 84.57M387.47 222.19A81.56 81.56 0 0 0 395.51 222.56M395.09 222.56A81.56 81.56 0 0 0 403.13 222.19M431.87 213.91A81.56 81.56 0 0 0 438.87 209.95M471.69 169.57A81.56 81.56 0 0 0 474.14 161.90M476.62 147.31A81.56 81.56 0 0 0 476.84 139.26M476.37 132.08A81.56 81.56 0 0 0 475.10 124.13M338.78 201.59A82.86 82.86 0 0 0 345.03 206.87M395.08 223.86A82.86 82.86 0 0 0 403.25 223.48M432.45 215.07A82.86 82.86 0 0 0 439.57 211.04M475.28 162.66A82.86 82.86 0 0 0 477.03 154.67M353.22 68.12A84.16 84.16 0 0 0 346.42 72.49M337.90 202.54A84.16 84.16 0 0 0 344.24 207.90M395.08 225.16A84.16 84.16 0 0 0 403.38 224.77M418.39 221.93A84.16 84.16 0 0 0 426.25 219.26M328.63 87.54A85.46 85.46 0 0 0 323.68 94.38M319.85 100.87A85.46 85.46 0 0 0 316.26 108.50M313.71 115.60A85.46 85.46 0 0 0 311.60 123.76M410.97 225.01A85.46 85.46 0 0 0 419.17 223.05M440.58 213.48A85.46 85.46 0 0 0 447.50 208.66M447.14 208.93A85.46 85.46 0 0 0 453.59 203.49M472.20 178.28A85.46 85.46 0 0 0 475.50 170.52M312.47 115.21A86.75 86.75 0 0 0 310.33 123.50M308.77 147.26A86.75 86.75 0 0 0 309.81 155.76M386.97 227.35A86.75 86.75 0 0 0 395.53 227.75M445.69 70.38A86.75 86.75 0 0 0 438.68 65.87M351.27 64.75A88.05 88.05 0 0 0 344.16 69.32M311.23 114.83A88.05 88.05 0 0 0 309.06 123.24M362.92 222.88A88.05 88.05 0 0 0 371.15 225.67M419.45 225.67A88.05 88.05 0 0 0 427.68 222.88" fill="none" stroke="#e7f0eb" stroke-width="1.4"/>
<path d="M364.13 149.27A32.25 32.25 0 0 0 365.09 152.30M373.48 115.52A33.55 33.55 0 0 0 371.08 117.79M427.53 127.75A34.84 34.84 0 0 0 426.06 124.64M419.81 167.56A36.14 36.14 0 0 0 422.31 165.01M358.67 133.26A37.44 37.44 0 0 0 358.08 136.91M371.47 107.23A41.33 41.33 0 0 0 368.26 109.74M435.78 132.66A41.33 41.33 0 0 0 434.76 128.71M372.04 100.71A46.52 46.52 0 0 0 368.28 103.13M349.64 126.78A47.82 47.82 0 0 0 348.46 131.35M348.40 126.40A49.12 49.12 0 0 0 347.19 131.09M433.78 110.48A49.12 49.12 0 0 0 430.59 106.83M449.45 145.20A54.31 54.31 0 0 0 449.60 139.84M447.93 119.36A56.91 56.91 0 0 0 445.54 114.28M455.89 163.66A64.69 64.69 0 0 0 457.83 157.58M459.54 165.03A68.59 68.59 0 0 0 461.59 158.58M414.47 208.20A69.88 69.88 0 0 0 421.00 205.99M415.54 211.95A73.78 73.78 0 0 0 422.43 209.61M333.73 186.19A76.37 76.37 0 0 0 338.49 192.04M470.56 153.99A76.37 76.37 0 0 0 471.47 146.51M321.23 110.09A80.26 80.26 0 0 0 318.54 117.54M316.13 154.24A80.26 80.26 0 0 0 317.82 161.98M475.19 124.55A81.56 81.56 0 0 0 473.18 116.76M316.19 116.37A82.86 82.86 0 0 0 314.14 124.29M314.95 115.98A84.16 84.16 0 0 0 312.87 124.03" fill="none" stroke="#72b2b4" stroke-width="1.4"/>
<path d="M365.04 152.14A32.25 32.25 0 0 0 366.28 155.07M362.87 149.60A33.55 33.55 0 0 0 363.88 152.75M361.62 149.93A34.84 34.84 0 0 0 362.66 153.21M369.34 115.86A36.14 36.14 0 0 0 366.98 118.54M359.25 143.61A36.14 36.14 0 0 0 359.68 147.15M366.09 117.58A37.44 37.44 0 0 0 363.92 120.57M359.11 150.60A37.44 37.44 0 0 0 360.23 154.12M367.32 165.87A37.44 37.44 0 0 0 369.91 168.51M367.47 114.05A38.74 38.74 0 0 0 364.95 116.93M362.07 160.91A38.74 38.74 0 0 0 364.19 164.08M388.00 179.04A38.74 38.74 0 0 0 391.78 179.58M395.20 179.74A38.74 38.74 0 0 0 399.02 179.56M433.47 147.59A38.74 38.74 0 0 0 433.94 143.79M361.86 118.98A40.04 40.04 0 0 0 359.86 122.39M358.01 158.84A41.33 41.33 0 0 0 359.95 162.42M357.66 120.98A42.63 42.63 0 0 0 355.87 124.79M356.84 159.40A42.63 42.63 0 0 0 358.84 163.10M366.73 107.63A43.93 43.93 0 0 0 363.58 110.61M354.08 156.17A43.93 43.93 0 0 0 355.77 160.16M379.14 181.85A43.93 43.93 0 0 0 383.25 183.24M399.29 184.75A43.93 43.93 0 0 0 403.58 184.14M378.19 184.26A46.52 46.52 0 0 0 382.54 185.74M399.52 187.33A46.52 46.52 0 0 0 404.07 186.69M403.83 186.74A46.52 46.52 0 0 0 408.30 185.67M348.13 148.89A47.82 47.82 0 0 0 349.14 153.50M352.16 161.64A47.82 47.82 0 0 0 354.40 165.79M442.98 144.70A47.82 47.82 0 0 0 443.11 139.98M441.03 127.02A47.82 47.82 0 0 0 439.43 122.58M355.70 170.06A49.12 49.12 0 0 0 358.76 173.83M377.24 186.68A49.12 49.12 0 0 0 381.83 188.24M390.59 189.89A49.12 49.12 0 0 0 395.43 190.12M370.09 97.34A50.42 50.42 0 0 0 366.02 99.96M422.01 183.76A50.42 50.42 0 0 0 426.10 180.92M343.60 139.90A51.71 51.71 0 0 0 343.74 145.00M343.43 130.04A53.01 53.01 0 0 0 342.61 135.20M440.63 168.48A53.01 53.01 0 0 0 443.12 163.88M446.00 125.51A53.01 53.01 0 0 0 444.22 120.58M441.74 169.15A54.31 54.31 0 0 0 444.29 164.44M348.86 110.42A55.61 55.61 0 0 0 346.07 115.14M345.14 165.00A55.61 55.61 0 0 0 347.75 169.82M370.11 190.58A55.61 55.61 0 0 0 375.12 192.82M374.85 192.71A55.61 55.61 0 0 0 380.05 194.47M442.85 169.82A55.61 55.61 0 0 0 445.46 165.00M350.90 105.40A56.91 56.91 0 0 0 347.61 109.95M338.41 139.79A56.91 56.91 0 0 0 338.56 145.40M356.49 182.61A56.91 56.91 0 0 0 360.78 186.24M433.90 182.82A56.91 56.91 0 0 0 437.83 178.81M441.00 174.91A56.91 56.91 0 0 0 444.12 170.24M366.20 90.59A58.20 58.20 0 0 0 361.50 93.62M346.69 108.99A58.20 58.20 0 0 0 343.77 113.94M379.04 196.89A58.20 58.20 0 0 0 384.63 198.22M438.60 179.90A58.20 58.20 0 0 0 442.22 175.44M446.83 113.94A58.20 58.20 0 0 0 443.91 108.99M345.61 108.28A59.50 59.50 0 0 0 342.62 113.33M336.61 150.81A59.50 59.50 0 0 0 337.87 156.55M373.42 196.33A59.50 59.50 0 0 0 378.98 198.22M450.33 118.37A59.50 59.50 0 0 0 447.83 113.06M378.32 199.38A60.80 60.80 0 0 0 384.15 200.77M406.45 200.77A60.80 60.80 0 0 0 412.28 199.38M333.37 145.48A62.10 62.10 0 0 0 334.11 151.56M342.03 172.91A62.10 62.10 0 0 0 345.43 178.00M412.33 200.71A62.10 62.10 0 0 0 418.14 198.74M445.17 178.00A62.10 62.10 0 0 0 448.57 172.91M358.75 89.20A63.39 63.39 0 0 0 353.82 93.06M406.92 203.32A63.39 63.39 0 0 0 413.01 201.87M433.76 191.39A63.39 63.39 0 0 0 438.54 187.36M457.77 151.78A63.39 63.39 0 0 0 458.53 145.57M458.31 134.07A63.39 63.39 0 0 0 457.32 127.89M457.39 128.21A63.39 63.39 0 0 0 455.83 122.16M339.80 174.24A64.69 64.69 0 0 0 343.35 179.55M407.16 204.60A64.69 64.69 0 0 0 413.37 203.12M424.30 198.83A64.69 64.69 0 0 0 429.86 195.69M459.05 152.00A64.69 64.69 0 0 0 459.82 145.67M452.57 110.92A64.69 64.69 0 0 0 449.33 105.42M357.25 87.08A65.99 65.99 0 0 0 352.12 91.09M329.48 145.76A65.99 65.99 0 0 0 330.27 152.22M345.98 184.84A65.99 65.99 0 0 0 350.54 189.49M462.18 133.64A67.29 67.29 0 0 0 461.13 127.08M443.88 94.45A67.29 67.29 0 0 0 439.06 89.88M336.46 176.24A68.59 68.59 0 0 0 340.22 181.87M348.52 191.15A68.59 68.59 0 0 0 353.69 195.52M431.64 199.17A68.59 68.59 0 0 0 437.19 195.30M332.26 171.16A69.88 69.88 0 0 0 335.54 177.22M382.13 209.63A69.88 69.88 0 0 0 388.96 210.59M442.70 192.35A69.88 69.88 0 0 0 447.53 187.43M462.13 120.58A69.88 69.88 0 0 0 459.79 114.09M359.71 79.36A71.18 71.18 0 0 0 353.96 83.06M329.61 113.59A71.18 71.18 0 0 0 327.23 120.20M427.21 204.63A71.18 71.18 0 0 0 433.33 201.17M465.44 153.11A71.18 71.18 0 0 0 466.30 146.13M338.75 95.66A72.48 72.48 0 0 0 334.56 101.46M462.33 113.44A72.48 72.48 0 0 0 459.29 106.97M442.72 86.19A72.48 72.48 0 0 0 437.09 81.78M328.75 172.84A73.78 73.78 0 0 0 332.21 179.24M321.25 153.38A75.07 75.07 0 0 0 322.84 160.62M327.58 173.40A75.07 75.07 0 0 0 331.10 179.91M381.15 214.73A75.07 75.07 0 0 0 388.49 215.76M415.89 213.19A75.07 75.07 0 0 0 422.91 210.81M324.82 111.59A76.37 76.37 0 0 0 322.26 118.68M471.21 132.65A76.37 76.37 0 0 0 470.02 125.21M455.13 93.54A76.37 76.37 0 0 0 450.16 87.87M344.79 82.00A77.67 77.67 0 0 0 339.22 87.26M339.50 86.97A77.67 77.67 0 0 0 334.45 92.73M328.67 180.91A77.67 77.67 0 0 0 332.93 187.29M402.35 218.35A77.67 77.67 0 0 0 409.94 217.28M430.12 210.43A77.67 77.67 0 0 0 436.79 206.66M322.42 110.59A78.97 78.97 0 0 0 319.78 117.92M316.54 146.70A78.97 78.97 0 0 0 317.48 154.43M318.97 161.24A78.97 78.97 0 0 0 321.34 168.66M347.06 203.52A78.97 78.97 0 0 0 353.46 207.97M395.09 219.97A78.97 78.97 0 0 0 402.88 219.60M460.80 189.61A81.56 81.56 0 0 0 465.27 182.91M468.69 176.58A81.56 81.56 0 0 0 471.84 169.17M467.51 103.08A81.56 81.56 0 0 0 463.42 96.14M353.87 69.24A82.86 82.86 0 0 0 347.17 73.55M330.65 89.17A82.86 82.86 0 0 0 325.86 95.79M471.94 109.49A82.86 82.86 0 0 0 468.46 102.09M471.03 177.71A84.16 84.16 0 0 0 474.28 170.07M461.23 88.70A84.16 84.16 0 0 0 455.76 82.46M309.86 139.18A85.46 85.46 0 0 0 310.10 147.61M468.38 185.30A85.46 85.46 0 0 0 472.39 177.88M480.24 131.65A85.46 85.46 0 0 0 478.91 123.33M310.42 123.06A86.75 86.75 0 0 0 309.07 131.51M411.21 226.28A86.75 86.75 0 0 0 419.53 224.30M459.84 198.98A86.75 86.75 0 0 0 465.24 192.33M326.60 85.92A88.05 88.05 0 0 0 321.51 92.96M314.04 107.09A88.05 88.05 0 0 0 311.09 115.27M482.07 155.98A88.05 88.05 0 0 0 483.12 147.35M446.44 69.32A88.05 88.05 0 0 0 439.33 64.75" fill="none" stroke="#b5d8d5" stroke-width="1.4"/>
<path d="M366.21 154.92A32.25 32.25 0 0 0 367.72 157.72M367.63 157.57A32.25 32.25 0 0 0 369.40 160.22M383.44 170.99A32.25 32.25 0 0 0 386.45 172.01M386.29 171.97A32.25 32.25 0 0 0 389.39 172.70M412.39 168.35A32.25 32.25 0 0 0 415.00 166.53M414.86 166.64A32.25 32.25 0 0 0 417.30 164.58M421.20 160.22A32.25 32.25 0 0 0 422.97 157.57M418.58 118.69A32.25 32.25 0 0 0 416.27 116.50M378.53 111.95A33.55 33.55 0 0 0 375.82 113.69M361.84 143.42A33.55 33.55 0 0 0 362.24 146.71M370.23 163.29A33.55 33.55 0 0 0 372.55 165.65M425.49 155.63A33.55 33.55 0 0 0 426.78 152.59M428.36 146.71A33.55 33.55 0 0 0 428.76 143.42M428.75 143.59A33.55 33.55 0 0 0 428.84 140.28M427.38 131.20A33.55 33.55 0 0 0 426.26 128.08M421.58 120.15A33.55 33.55 0 0 0 419.40 117.66M366.20 121.84A34.84 34.84 0 0 0 364.45 124.80M360.55 143.51A34.84 34.84 0 0 0 360.96 146.93M363.87 156.04A34.84 34.84 0 0 0 365.50 159.06M365.41 158.91A34.84 34.84 0 0 0 367.32 161.76M367.21 161.62A34.84 34.84 0 0 0 369.38 164.29M425.10 159.06A34.84 34.84 0 0 0 426.73 156.04M360.79 130.26A36.14 36.14 0 0 0 359.90 133.71M361.38 153.48A36.14 36.14 0 0 0 362.78 156.77M362.70 156.60A36.14 36.14 0 0 0 364.39 159.73M364.29 159.57A36.14 36.14 0 0 0 366.28 162.54M366.16 162.39A36.14 36.14 0 0 0 368.41 165.15M382.01 174.61A36.14 36.14 0 0 0 385.39 175.76M388.49 176.49A36.14 36.14 0 0 0 392.02 176.99M368.40 114.96A37.44 37.44 0 0 0 365.97 117.73M364.03 120.41A37.44 37.44 0 0 0 362.15 123.59M361.53 157.16A37.44 37.44 0 0 0 363.28 160.41M363.18 160.24A37.44 37.44 0 0 0 365.23 163.31M384.84 176.95A37.44 37.44 0 0 0 388.44 177.81M395.20 178.44A37.44 37.44 0 0 0 398.89 178.27M408.89 175.89A37.44 37.44 0 0 0 412.26 174.38M432.19 147.37A37.44 37.44 0 0 0 432.64 143.70M424.63 117.73A37.44 37.44 0 0 0 422.20 114.96M381.05 177.02A38.74 38.74 0 0 0 384.67 178.25M384.48 178.20A38.74 38.74 0 0 0 388.20 179.08M359.95 122.20A40.04 40.04 0 0 0 358.27 125.78M358.35 125.58A40.04 40.04 0 0 0 357.01 129.30M355.37 143.89A40.04 40.04 0 0 0 355.85 147.81M356.60 151.26A40.04 40.04 0 0 0 357.80 155.03M359.18 158.28A40.04 40.04 0 0 0 361.06 161.75M365.38 167.60A40.04 40.04 0 0 0 368.15 170.42M387.75 180.32A40.04 40.04 0 0 0 391.67 180.87M395.20 181.04A40.04 40.04 0 0 0 399.14 180.85M406.28 179.50A40.04 40.04 0 0 0 410.02 178.23M422.45 170.42A40.04 40.04 0 0 0 425.22 167.60M435.33 140.36A40.04 40.04 0 0 0 435.07 136.41M426.67 116.12A40.04 40.04 0 0 0 424.06 113.15M374.63 105.20A41.33 41.33 0 0 0 371.29 107.35M370.05 173.73A41.33 41.33 0 0 0 373.40 176.06M426.05 168.62A41.33 41.33 0 0 0 428.62 165.46M429.94 118.45A41.33 41.33 0 0 0 427.55 115.14M355.96 124.58A42.63 42.63 0 0 0 354.53 128.54M354.60 128.33A42.63 42.63 0 0 0 353.55 132.40M395.19 183.63A42.63 42.63 0 0 0 399.39 183.43M435.23 155.93A42.63 42.63 0 0 0 436.51 151.93M436.07 128.54A42.63 42.63 0 0 0 434.64 124.58M373.34 102.96A43.93 43.93 0 0 0 369.79 105.24M439.10 144.40A43.93 43.93 0 0 0 439.22 140.06M438.96 136.20A43.93 43.93 0 0 0 438.28 131.91M365.89 106.64A45.23 45.23 0 0 0 362.65 109.71M354.50 160.52A45.23 45.23 0 0 0 356.62 164.44M371.14 179.23A45.23 45.23 0 0 0 375.02 181.43M399.40 186.04A45.23 45.23 0 0 0 403.82 185.42M436.00 160.73A45.23 45.23 0 0 0 437.74 156.62M440.25 136.05A45.23 45.23 0 0 0 439.55 131.65M424.89 106.80A45.23 45.23 0 0 0 421.37 104.05M412.18 184.35A46.52 46.52 0 0 0 416.37 182.48M425.74 105.82A46.52 46.52 0 0 0 422.12 102.99M360.95 107.73A47.82 47.82 0 0 0 357.83 111.28M348.51 131.11A47.82 47.82 0 0 0 347.77 135.77M373.64 183.63A47.82 47.82 0 0 0 377.95 185.56M408.42 186.99A47.82 47.82 0 0 0 412.89 185.47M442.83 135.77A47.82 47.82 0 0 0 442.09 131.11M439.53 122.82A47.82 47.82 0 0 0 437.52 118.54M399.76 189.92A49.12 49.12 0 0 0 404.56 189.24M404.31 189.29A49.12 49.12 0 0 0 409.02 188.16M408.77 188.24A49.12 49.12 0 0 0 413.36 186.68M439.50 162.43A49.12 49.12 0 0 0 441.40 157.97M347.16 126.01A50.42 50.42 0 0 0 345.92 130.83M345.01 144.64A50.42 50.42 0 0 0 345.62 149.58M346.57 153.92A50.42 50.42 0 0 0 348.08 158.66M347.99 158.41A50.42 50.42 0 0 0 349.93 162.99M381.22 189.41A50.42 50.42 0 0 0 386.06 190.56M390.46 191.18A50.42 50.42 0 0 0 395.43 191.42M409.13 189.48A50.42 50.42 0 0 0 413.84 187.88M413.60 187.98A50.42 50.42 0 0 0 418.14 185.95M361.67 101.71A51.71 51.71 0 0 0 357.96 105.22M358.15 105.02A51.71 51.71 0 0 0 354.78 108.86M343.72 144.73A51.71 51.71 0 0 0 344.34 149.80M360.03 178.82A51.71 51.71 0 0 0 363.93 182.11M414.07 189.19A51.71 51.71 0 0 0 418.73 187.10M446.86 145.00A51.71 51.71 0 0 0 447.00 139.90M445.95 130.57A51.71 51.71 0 0 0 444.68 125.63M364.74 97.68A53.01 53.01 0 0 0 360.62 100.91M360.83 100.73A53.01 53.01 0 0 0 357.02 104.32M351.02 111.85A53.01 53.01 0 0 0 348.37 116.35M348.50 116.11A53.01 53.01 0 0 0 346.27 120.84M344.68 125.24A53.01 53.01 0 0 0 343.38 130.31M342.30 139.87A53.01 53.01 0 0 0 342.45 145.10M375.80 190.30A53.01 53.01 0 0 0 380.76 191.98M414.54 190.40A53.01 53.01 0 0 0 419.31 188.26M341.13 144.92A54.31 54.31 0 0 0 341.78 150.24M344.33 159.76A54.31 54.31 0 0 0 346.43 164.69M362.13 184.00A54.31 54.31 0 0 0 366.53 187.06M370.70 189.42A54.31 54.31 0 0 0 375.59 191.61M424.07 187.06A54.31 54.31 0 0 0 428.47 184.00M438.91 173.36A54.31 54.31 0 0 0 441.89 168.91M443.38 115.75A54.31 54.31 0 0 0 440.66 111.13M437.85 107.25A54.31 54.31 0 0 0 434.32 103.22M363.24 95.56A55.61 55.61 0 0 0 358.92 98.95M346.20 114.89A55.61 55.61 0 0 0 343.87 119.85M339.84 145.01A55.61 55.61 0 0 0 340.50 150.46M384.82 195.61A55.61 55.61 0 0 0 390.25 196.38M420.23 190.71A55.61 55.61 0 0 0 425.01 188.01M447.38 160.48A55.61 55.61 0 0 0 449.05 155.25M438.87 106.44A55.61 55.61 0 0 0 435.25 102.32M358.29 97.77A56.91 56.91 0 0 0 354.21 101.63M339.17 150.39A56.91 56.91 0 0 0 340.37 155.87M379.40 195.64A56.91 56.91 0 0 0 384.87 196.94M410.91 195.72A56.91 56.91 0 0 0 416.23 193.92M429.82 186.24A56.91 56.91 0 0 0 434.11 182.61M451.38 150.68A56.91 56.91 0 0 0 452.06 145.10M451.04 129.52A56.91 56.91 0 0 0 449.63 124.08M349.89 104.59A58.20 58.20 0 0 0 346.52 109.25M338.35 128.96A58.20 58.20 0 0 0 337.45 134.63M337.89 150.60A58.20 58.20 0 0 0 339.12 156.21M339.04 155.92A58.20 58.20 0 0 0 340.79 161.39M411.27 196.97A58.20 58.20 0 0 0 416.71 195.12M450.96 123.99A58.20 58.20 0 0 0 449.01 118.59M437.32 100.73A58.20 58.20 0 0 0 433.15 96.78M365.55 89.47A59.50 59.50 0 0 0 360.74 92.56M341.62 166.68A59.50 59.50 0 0 0 344.42 171.84M354.71 184.51A59.50 59.50 0 0 0 359.20 188.30M411.62 198.22A59.50 59.50 0 0 0 417.18 196.33M439.56 180.76A59.50 59.50 0 0 0 443.27 176.21M447.98 113.33A59.50 59.50 0 0 0 444.99 108.28M364.90 88.35A60.80 60.80 0 0 0 359.99 91.51M347.86 102.97A60.80 60.80 0 0 0 344.35 107.83M340.45 167.24A60.80 60.80 0 0 0 343.31 172.51M358.16 189.14A60.80 60.80 0 0 0 363.09 192.56M389.47 201.52A60.80 60.80 0 0 0 395.46 201.80M427.51 192.56A60.80 60.80 0 0 0 432.44 189.14M440.53 181.63A60.80 60.80 0 0 0 444.31 176.98M444.12 177.23A60.80 60.80 0 0 0 447.46 172.24M455.21 151.34A60.80 60.80 0 0 0 455.94 145.38M359.50 90.26A62.10 62.10 0 0 0 354.67 94.04M346.85 102.16A62.10 62.10 0 0 0 343.26 107.12M340.48 111.84A62.10 62.10 0 0 0 337.87 117.39M334.55 128.16A62.10 62.10 0 0 0 333.58 134.21M333.22 139.68A62.10 62.10 0 0 0 333.39 145.80M337.03 162.45A62.10 62.10 0 0 0 339.42 168.09M362.13 193.49A62.10 62.10 0 0 0 367.46 196.51M423.14 196.51A62.10 62.10 0 0 0 428.47 193.49M428.20 193.66A62.10 62.10 0 0 0 433.23 190.17M457.21 145.80A62.10 62.10 0 0 0 457.38 139.68M457.02 134.21A62.10 62.10 0 0 0 456.05 128.16M452.73 117.39A62.10 62.10 0 0 0 450.12 111.84M333.28 127.89A63.39 63.39 0 0 0 332.29 134.07M412.69 201.96A63.39 63.39 0 0 0 418.61 199.95M418.31 200.07A63.39 63.39 0 0 0 424.02 197.52M446.21 178.78A63.39 63.39 0 0 0 449.68 173.58M458.69 139.98A63.39 63.39 0 0 0 458.28 133.74M453.93 116.89A63.39 63.39 0 0 0 451.27 111.23M441.07 97.14A63.39 63.39 0 0 0 436.53 92.84M334.59 163.35A64.69 64.69 0 0 0 337.09 169.22M351.17 188.31A64.69 64.69 0 0 0 356.05 192.43M355.78 192.22A64.69 64.69 0 0 0 361.03 195.87M413.05 203.21A64.69 64.69 0 0 0 419.09 201.16M447.25 179.55A64.69 64.69 0 0 0 450.80 174.24M453.51 169.22A64.69 64.69 0 0 0 456.01 163.35M459.98 139.96A64.69 64.69 0 0 0 459.57 133.59M335.77 169.48A65.99 65.99 0 0 0 338.87 175.21M338.69 174.91A65.99 65.99 0 0 0 342.31 180.32M354.99 193.25A65.99 65.99 0 0 0 360.34 196.97M376.87 204.36A65.99 65.99 0 0 0 383.20 205.87M407.40 205.87A65.99 65.99 0 0 0 413.73 204.36M419.25 202.49A65.99 65.99 0 0 0 425.19 199.83M448.29 180.32A65.99 65.99 0 0 0 451.91 174.91M459.00 158.25A65.99 65.99 0 0 0 460.39 151.88M460.89 133.78A65.99 65.99 0 0 0 459.86 127.35M458.41 121.71A65.99 65.99 0 0 0 456.20 115.59M456.33 115.91A65.99 65.99 0 0 0 453.56 110.01M329.47 127.08A67.29 67.29 0 0 0 328.42 133.64M330.26 158.25A67.29 67.29 0 0 0 332.28 164.57M337.58 175.58A67.29 67.29 0 0 0 341.27 181.10M354.20 194.28A67.29 67.29 0 0 0 359.65 198.07M407.64 207.15A67.29 67.29 0 0 0 414.10 205.61M445.35 185.97A67.29 67.29 0 0 0 449.54 180.81M452.84 175.88A67.29 67.29 0 0 0 456.00 170.04M355.76 84.96A68.59 68.59 0 0 0 350.43 89.13M326.73 139.54A68.59 68.59 0 0 0 326.92 146.30M333.43 170.60A68.59 68.59 0 0 0 336.65 176.55M353.41 195.30A68.59 68.59 0 0 0 358.96 199.17M407.87 208.42A68.59 68.59 0 0 0 414.46 206.85M420.19 204.91A68.59 68.59 0 0 0 426.37 202.14M426.05 202.31A68.59 68.59 0 0 0 431.94 198.98M461.50 158.92A68.59 68.59 0 0 0 462.95 152.31M462.89 152.67A68.59 68.59 0 0 0 463.71 145.95M462.48 127.17A68.59 68.59 0 0 0 460.79 120.61M456.02 109.11A68.59 68.59 0 0 0 452.58 103.28M325.60 146.04A69.88 69.88 0 0 0 326.44 152.89M420.66 206.12A69.88 69.88 0 0 0 426.96 203.30M432.32 200.27A69.88 69.88 0 0 0 437.99 196.33M464.76 133.36A69.88 69.88 0 0 0 463.67 126.55M459.93 114.43A69.88 69.88 0 0 0 457.00 108.18M354.26 82.84A71.18 71.18 0 0 0 348.73 87.17M331.09 171.72A71.18 71.18 0 0 0 334.43 177.90M381.88 210.90A71.18 71.18 0 0 0 388.84 211.89M448.25 188.57A71.18 71.18 0 0 0 452.68 183.12M359.06 78.23A72.48 72.48 0 0 0 353.20 82.00M348.17 85.94A72.48 72.48 0 0 0 342.97 90.85M328.41 113.09A72.48 72.48 0 0 0 325.99 119.82M329.92 172.28A72.48 72.48 0 0 0 333.32 178.57M427.79 205.79A72.48 72.48 0 0 0 434.02 202.27M449.22 189.44A72.48 72.48 0 0 0 453.73 183.89M465.26 159.94A72.48 72.48 0 0 0 466.79 152.95M466.72 153.33A72.48 72.48 0 0 0 467.59 146.23M467.56 146.61A72.48 72.48 0 0 0 467.76 139.46M327.21 112.59A73.78 73.78 0 0 0 324.74 119.44M350.23 199.41A73.78 73.78 0 0 0 356.21 203.57M440.06 199.65A73.78 73.78 0 0 0 445.62 194.95M458.39 179.24A73.78 73.78 0 0 0 461.85 172.84M468.86 146.71A73.78 73.78 0 0 0 469.06 139.43M468.63 132.93A73.78 73.78 0 0 0 467.48 125.74M465.86 119.44A73.78 73.78 0 0 0 463.39 112.59M463.53 112.95A73.78 73.78 0 0 0 460.44 106.36M357.76 75.98A75.07 75.07 0 0 0 351.70 79.89M321.85 125.47A75.07 75.07 0 0 0 320.68 132.79M428.96 208.11A75.07 75.07 0 0 0 435.41 204.46M435.08 204.67A75.07 75.07 0 0 0 441.16 200.44M326.41 173.96A76.37 76.37 0 0 0 329.99 180.59M338.22 191.74A76.37 76.37 0 0 0 343.50 197.12M429.54 209.27A76.37 76.37 0 0 0 436.10 205.56M447.10 197.12A76.37 76.37 0 0 0 452.38 191.74M468.34 118.68A76.37 76.37 0 0 0 465.78 111.59M350.52 77.54A77.67 77.67 0 0 0 344.48 82.26M318.14 132.10A77.67 77.67 0 0 0 317.64 139.75M317.65 139.34A77.67 77.67 0 0 0 317.86 147.01M322.41 167.83A77.67 77.67 0 0 0 325.41 174.88M325.23 174.52A77.67 77.67 0 0 0 328.88 181.26M332.69 186.96A77.67 77.67 0 0 0 337.52 192.91M360.12 210.24A77.67 77.67 0 0 0 367.11 213.37M373.60 215.58A77.67 77.67 0 0 0 381.06 217.35M380.66 217.28A77.67 77.67 0 0 0 388.25 218.35M457.67 187.29A77.67 77.67 0 0 0 461.93 180.91M465.19 174.88A77.67 77.67 0 0 0 468.19 167.83M472.96 139.75A77.67 77.67 0 0 0 472.46 132.10M329.35 97.57A78.97 78.97 0 0 0 325.39 104.28M316.35 139.32A78.97 78.97 0 0 0 316.57 147.11M341.44 198.75A78.97 78.97 0 0 0 347.39 203.77M353.11 207.75A78.97 78.97 0 0 0 359.90 211.59M366.26 214.43A78.97 78.97 0 0 0 373.64 216.94M409.78 218.63A78.97 78.97 0 0 0 417.36 216.82M454.04 193.77A78.97 78.97 0 0 0 458.96 187.73M472.64 125.07A78.97 78.97 0 0 0 470.70 117.53M343.10 80.02A80.26 80.26 0 0 0 337.35 85.47M337.64 85.16A80.26 80.26 0 0 0 332.42 91.12M319.98 168.72A80.26 80.26 0 0 0 323.08 176.01M322.89 175.64A80.26 80.26 0 0 0 326.66 182.60M326.44 182.25A80.26 80.26 0 0 0 330.84 188.83M346.27 204.55A80.26 80.26 0 0 0 352.77 209.07M431.28 212.75A80.26 80.26 0 0 0 438.18 208.85M453.25 85.47A80.26 80.26 0 0 0 447.50 80.02M336.71 84.26A81.56 81.56 0 0 0 331.40 90.31M320.03 109.59A81.56 81.56 0 0 0 317.30 117.16M410.25 221.18A81.56 81.56 0 0 0 418.08 219.32M474.03 162.32A81.56 81.56 0 0 0 475.75 154.45M475.67 154.87A81.56 81.56 0 0 0 476.65 146.88M333.37 196.05A82.86 82.86 0 0 0 339.10 201.89M387.35 223.48A82.86 82.86 0 0 0 395.52 223.86M451.50 201.89A82.86 82.86 0 0 0 457.23 196.05M469.86 177.15A82.86 82.86 0 0 0 473.06 169.62M332.40 196.91A84.16 84.16 0 0 0 338.22 202.84M339.73 76.08A85.46 85.46 0 0 0 333.60 81.88M321.99 184.91A85.46 85.46 0 0 0 326.68 191.93M395.08 226.46A85.46 85.46 0 0 0 403.50 226.06M458.87 198.11A85.46 85.46 0 0 0 464.19 191.57M477.02 116.03A85.46 85.46 0 0 0 474.16 108.09M320.88 185.58A86.75 86.75 0 0 0 325.63 192.70M330.46 198.64A86.75 86.75 0 0 0 336.46 204.75M356.00 218.34A86.75 86.75 0 0 0 363.82 221.84M482.04 139.60A86.75 86.75 0 0 0 481.48 131.06M480.27 123.50A86.75 86.75 0 0 0 478.13 115.21M478.27 115.65A86.75 86.75 0 0 0 475.36 107.59M321.76 92.58A88.05 88.05 0 0 0 317.35 100.06M308.45 155.52A88.05 88.05 0 0 0 310.31 164.01M319.76 186.25A88.05 88.05 0 0 0 324.59 193.47M370.70 225.55A88.05 88.05 0 0 0 379.16 227.56M411.44 227.56A88.05 88.05 0 0 0 419.90 225.55M434.77 219.71A88.05 88.05 0 0 0 442.34 215.43M483.34 139.58A88.05 88.05 0 0 0 482.77 130.91" fill="none" stroke="#c2dfdb" stroke-width="1.4"/>
<path d="M369.30 160.08A32.25 32.25 0 0 0 371.31 162.55M371.20 162.43A32.25 32.25 0 0 0 373.43 164.70M373.30 164.58A32.25 32.25 0 0 0 375.74 166.64M426.89 134.50A32.25 32.25 0 0 0 426.09 131.41M425.13 128.74A32.25 32.25 0 0 0 423.77 125.86M369.13 120.02A33.55 33.55 0 0 0 367.19 122.70M367.28 122.55A33.55 33.55 0 0 0 365.60 125.40M361.97 137.16A33.55 33.55 0 0 0 361.76 140.46M380.10 170.91A33.55 33.55 0 0 0 383.13 172.26M410.34 170.99A33.55 33.55 0 0 0 413.22 169.36M420.26 163.42A33.55 33.55 0 0 0 422.34 160.85M422.24 160.99A33.55 33.55 0 0 0 424.08 158.24M427.68 149.77A33.55 33.55 0 0 0 428.39 146.53M375.21 112.53A34.84 34.84 0 0 0 372.50 114.65M385.57 174.46A34.84 34.84 0 0 0 388.91 175.25M429.64 146.93A34.84 34.84 0 0 0 430.05 143.51M430.14 140.44A34.84 34.84 0 0 0 429.91 137.01M365.11 121.12A36.14 36.14 0 0 0 363.30 124.20M359.65 146.96A36.14 36.14 0 0 0 360.41 150.45M370.65 167.43A36.14 36.14 0 0 0 373.37 169.73M360.16 153.93A37.44 37.44 0 0 0 361.61 157.33M375.30 172.65A37.44 37.44 0 0 0 378.52 174.47M398.70 178.29A37.44 37.44 0 0 0 402.36 177.77M418.01 170.76A37.44 37.44 0 0 0 420.84 168.38M428.99 157.33A37.44 37.44 0 0 0 430.44 153.93M430.37 154.12A37.44 37.44 0 0 0 431.49 150.60M358.95 154.38A38.74 38.74 0 0 0 360.44 157.90M371.64 171.67A38.74 38.74 0 0 0 374.78 173.85M402.40 179.08A38.74 38.74 0 0 0 406.12 178.20M409.36 177.10A38.74 38.74 0 0 0 412.85 175.54M426.41 164.08A38.74 38.74 0 0 0 428.53 160.91M430.16 157.90A38.74 38.74 0 0 0 431.65 154.38M434.03 140.38A38.74 38.74 0 0 0 433.78 136.56M433.81 136.76A38.74 38.74 0 0 0 433.20 132.99M429.60 122.99A38.74 38.74 0 0 0 427.65 119.70M420.64 111.70A38.74 38.74 0 0 0 417.63 109.35M369.27 110.59A40.04 40.04 0 0 0 366.39 113.30M364.06 115.96A40.04 40.04 0 0 0 361.75 119.16M357.07 129.10A40.04 40.04 0 0 0 356.09 132.93M434.75 147.81A40.04 40.04 0 0 0 435.23 143.89M435.22 144.10A40.04 40.04 0 0 0 435.33 140.15M433.59 129.30A40.04 40.04 0 0 0 432.25 125.58M418.55 108.41A40.04 40.04 0 0 0 415.32 106.33M363.05 115.14A41.33 41.33 0 0 0 360.66 118.45M367.11 171.23A41.33 41.33 0 0 0 370.22 173.86M391.33 182.14A41.33 41.33 0 0 0 395.41 182.33M395.19 182.33A41.33 41.33 0 0 0 399.27 182.14M399.05 182.16A41.33 41.33 0 0 0 403.09 181.59M410.30 179.52A41.33 41.33 0 0 0 414.02 177.85M432.49 159.03A41.33 41.33 0 0 0 434.09 155.28M359.70 117.55A42.63 42.63 0 0 0 357.56 121.18M352.95 136.12A42.63 42.63 0 0 0 352.67 140.31M352.68 140.09A42.63 42.63 0 0 0 352.80 144.30M352.78 144.07A42.63 42.63 0 0 0 353.29 148.25M360.93 166.23A42.63 42.63 0 0 0 363.59 169.49M421.16 174.89A42.63 42.63 0 0 0 424.38 172.17M427.01 169.49A42.63 42.63 0 0 0 429.67 166.23M434.73 124.79A42.63 42.63 0 0 0 432.94 120.98M351.66 135.97A43.93 43.93 0 0 0 351.38 140.29M357.62 163.57A43.93 43.93 0 0 0 360.02 167.18M371.83 178.13A43.93 43.93 0 0 0 375.61 180.27M439.22 140.29A43.93 43.93 0 0 0 438.94 135.97M429.72 113.70A43.93 43.93 0 0 0 426.86 110.44M351.05 131.65A45.23 45.23 0 0 0 350.35 136.05M358.84 167.76A45.23 45.23 0 0 0 361.66 171.22M361.50 171.05A45.23 45.23 0 0 0 364.63 174.23M430.73 112.89A45.23 45.23 0 0 0 427.79 109.54M349.78 131.38A46.52 46.52 0 0 0 349.06 135.91M363.57 175.02A46.52 46.52 0 0 0 367.07 177.98M382.30 185.67A46.52 46.52 0 0 0 386.77 186.74M416.16 182.59A46.52 46.52 0 0 0 420.16 180.33M441.68 144.60A46.52 46.52 0 0 0 441.81 140.01M441.54 135.91A46.52 46.52 0 0 0 440.82 131.38M438.33 123.31A46.52 46.52 0 0 0 436.38 119.15M436.49 119.37A46.52 46.52 0 0 0 434.16 115.41M431.75 112.09A46.52 46.52 0 0 0 428.72 108.64M433.70 169.50A47.82 47.82 0 0 0 436.32 165.57M441.31 158.21A49.12 49.12 0 0 0 442.78 153.59M442.71 153.84A49.12 49.12 0 0 0 443.75 149.10M423.83 101.01A49.12 49.12 0 0 0 419.86 98.46M359.08 105.93A50.42 50.42 0 0 0 355.80 109.67M445.57 144.90A50.42 50.42 0 0 0 445.71 139.93M345.31 154.25A51.71 51.71 0 0 0 346.86 159.12M350.94 167.57A51.71 51.71 0 0 0 353.77 171.82M395.16 192.71A51.71 51.71 0 0 0 400.26 192.48M359.14 179.77A53.01 53.01 0 0 0 363.14 183.14M437.87 172.59A53.01 53.01 0 0 0 440.78 168.24M447.54 150.02A53.01 53.01 0 0 0 448.17 144.82M436.83 108.06A53.01 53.01 0 0 0 433.38 104.12M341.35 134.78A54.31 54.31 0 0 0 341.00 140.13M432.14 180.91A54.31 54.31 0 0 0 435.89 177.08M430.83 99.93A54.31 54.31 0 0 0 426.61 96.62M400.46 197.67A56.91 56.91 0 0 0 406.03 196.89M405.97 198.22A58.20 58.20 0 0 0 411.56 196.89M447.67 166.39A58.20 58.20 0 0 0 449.92 161.10M452.66 150.90A58.20 58.20 0 0 0 453.35 145.20M444.08 109.25A58.20 58.20 0 0 0 440.71 104.59M453.44 123.23A60.80 60.80 0 0 0 451.41 117.59M354.07 92.84A63.39 63.39 0 0 0 349.53 97.14M444.97 101.60A63.39 63.39 0 0 0 440.84 96.90M453.72 110.32A65.99 65.99 0 0 0 450.41 104.71M442.95 95.34A65.99 65.99 0 0 0 438.21 90.87M433.63 87.28A65.99 65.99 0 0 0 428.29 83.85M349.40 190.21A67.29 67.29 0 0 0 354.48 194.49M463.47 133.50A68.59 68.59 0 0 0 462.40 126.82M363.64 203.30A69.88 69.88 0 0 0 369.94 206.12M466.05 133.22A71.18 71.18 0 0 0 464.94 126.28M439.27 198.62A72.48 72.48 0 0 0 444.74 194.00M335.83 184.65A73.78 73.78 0 0 0 340.42 190.30M464.02 174.32A76.37 76.37 0 0 0 466.97 167.38M456.15 92.73A77.67 77.67 0 0 0 451.10 86.97M446.12 82.26A77.67 77.67 0 0 0 440.08 77.54M319.90 117.53A78.97 78.97 0 0 0 317.96 125.07M472.78 161.98A80.26 80.26 0 0 0 474.47 154.24M466.36 103.68A80.26 80.26 0 0 0 462.34 96.86M447.81 80.30A80.26 80.26 0 0 0 441.58 75.42M424.90 217.00A81.56 81.56 0 0 0 432.25 213.71M455.97 195.51A81.56 81.56 0 0 0 461.05 189.26M465.05 183.28A81.56 81.56 0 0 0 468.88 176.20M470.74 109.98A81.56 81.56 0 0 0 467.31 102.70M474.54 116.78A82.86 82.86 0 0 0 471.77 109.09M460.22 89.51A82.86 82.86 0 0 0 454.83 83.36M315.10 170.52A85.46 85.46 0 0 0 318.40 178.28M363.87 220.47A85.46 85.46 0 0 0 371.86 223.18M463.92 191.93A85.46 85.46 0 0 0 468.61 184.91M447.93 209.96A86.75 86.75 0 0 0 454.47 204.44" fill="none" stroke="#8c1616" stroke-width="1.4"/>
<path d="M375.60 166.53A32.25 32.25 0 0 0 378.21 168.35M407.00 171.05A32.25 32.25 0 0 0 409.91 169.75M427.08 146.49A32.25 32.25 0 0 0 427.46 143.33M364.34 128.08A33.55 33.55 0 0 0 363.22 131.20M362.48 134.06A33.55 33.55 0 0 0 361.95 137.33M377.38 169.36A33.55 33.55 0 0 0 380.26 170.99M413.07 169.45A33.55 33.55 0 0 0 415.79 167.56M362.03 130.64A34.84 34.84 0 0 0 361.17 133.97M388.73 175.22A34.84 34.84 0 0 0 392.14 175.70M423.28 161.76A34.84 34.84 0 0 0 425.19 158.91M418.10 114.65A34.84 34.84 0 0 0 415.39 112.53M375.99 171.55A36.14 36.14 0 0 0 379.10 173.31M414.45 171.65A36.14 36.14 0 0 0 417.38 169.62M417.23 169.73A36.14 36.14 0 0 0 419.95 167.43M422.19 165.15A36.14 36.14 0 0 0 424.44 162.39M372.97 109.35A38.74 38.74 0 0 0 369.96 111.70M368.88 169.33A38.74 38.74 0 0 0 371.80 171.79M431.32 158.47A40.04 40.04 0 0 0 432.87 154.83M433.94 151.46A40.04 40.04 0 0 0 434.79 147.60M432.33 125.78A40.04 40.04 0 0 0 430.65 122.20M355.84 128.71A41.33 41.33 0 0 0 354.82 132.66M359.84 162.24A41.33 41.33 0 0 0 362.11 165.63M422.34 109.74A41.33 41.33 0 0 0 419.13 107.23M354.09 151.93A42.63 42.63 0 0 0 355.37 155.93M437.80 144.30A42.63 42.63 0 0 0 437.92 140.09M369.97 105.11A43.93 43.93 0 0 0 366.56 107.78M359.89 166.99A43.93 43.93 0 0 0 362.62 170.36M395.18 184.93A43.93 43.93 0 0 0 399.52 184.73M437.31 128.16A43.93 43.93 0 0 0 435.84 124.08M435.93 124.30A43.93 43.93 0 0 0 434.08 120.37M434.19 120.58A43.93 43.93 0 0 0 431.99 116.84M435.34 119.97A45.23 45.23 0 0 0 433.07 116.13M359.00 111.90A46.52 46.52 0 0 0 356.31 115.62M351.64 157.07A46.52 46.52 0 0 0 353.44 161.30M357.79 168.53A46.52 46.52 0 0 0 360.69 172.09M386.53 186.69A46.52 46.52 0 0 0 391.08 187.33M428.89 108.81A46.52 46.52 0 0 0 425.55 105.66M351.17 122.58A47.82 47.82 0 0 0 349.57 127.02M443.70 149.35A49.12 49.12 0 0 0 444.29 144.54M444.12 135.63A49.12 49.12 0 0 0 443.36 130.84M427.44 103.85A49.12 49.12 0 0 0 423.62 100.87M344.89 139.93A50.42 50.42 0 0 0 345.03 144.90M417.90 186.07A50.42 50.42 0 0 0 422.24 183.62M344.70 130.30A51.71 51.71 0 0 0 343.90 135.34M346.77 158.86A51.71 51.71 0 0 0 348.77 163.56M435.82 108.86A51.71 51.71 0 0 0 432.45 105.02M342.64 134.93A53.01 53.01 0 0 0 342.29 140.15M400.11 193.79A53.01 53.01 0 0 0 405.29 193.06M419.07 188.39A53.01 53.01 0 0 0 423.62 185.81M448.15 145.10A53.01 53.01 0 0 0 448.30 139.87M447.22 130.31A53.01 53.01 0 0 0 445.92 125.24M405.26 194.39A54.31 54.31 0 0 0 410.47 193.15M410.20 193.23A54.31 54.31 0 0 0 415.27 191.50M428.25 184.17A54.31 54.31 0 0 0 432.34 180.72M351.80 179.67A58.20 58.20 0 0 0 355.82 183.77M426.14 190.36A58.20 58.20 0 0 0 430.85 187.08M451.48 156.21A58.20 58.20 0 0 0 452.71 150.60M406.21 199.49A59.50 59.50 0 0 0 411.92 198.13M451.03 161.84A59.50 59.50 0 0 0 452.81 156.25M345.24 177.74A62.10 62.10 0 0 0 349.11 182.50M431.37 90.45A62.10 62.10 0 0 0 426.35 87.22M432.12 89.39A63.39 63.39 0 0 0 427.00 86.10M457.74 157.91A64.69 64.69 0 0 0 459.11 151.67M342.10 180.05A65.99 65.99 0 0 0 346.21 185.10M341.06 180.81A67.29 67.29 0 0 0 345.25 185.97M364.82 200.99A67.29 67.29 0 0 0 370.88 203.70M462.39 146.20A67.29 67.29 0 0 0 462.57 139.57M434.38 86.23A67.29 67.29 0 0 0 428.94 82.73M364.23 202.14A68.59 68.59 0 0 0 370.41 204.91M435.13 85.17A68.59 68.59 0 0 0 429.59 81.60M335.35 176.91A69.88 69.88 0 0 0 339.18 182.64M388.59 210.56A69.88 69.88 0 0 0 395.48 210.88M465.17 139.88A69.88 69.88 0 0 0 464.72 132.99M333.12 178.24A72.48 72.48 0 0 0 337.10 184.19M466.29 126.38A72.48 72.48 0 0 0 464.50 119.46M368.17 209.61A73.78 73.78 0 0 0 375.06 211.95M451.15 191.17A75.07 75.07 0 0 0 455.82 185.42M329.78 180.24A76.37 76.37 0 0 0 333.97 186.51M456.63 186.51A76.37 76.37 0 0 0 460.82 180.24M469.02 160.96A76.37 76.37 0 0 0 470.63 153.60M387.85 218.31A77.67 77.67 0 0 0 395.50 218.67M387.72 219.60A78.97 78.97 0 0 0 395.51 219.97M315.24 146.79A80.26 80.26 0 0 0 316.20 154.65M316.46 161.90A81.56 81.56 0 0 0 318.91 169.57M351.73 209.95A81.56 81.56 0 0 0 358.73 213.91M439.20 211.27A82.86 82.86 0 0 0 445.91 206.61M466.16 183.95A82.86 82.86 0 0 0 470.05 176.76M464.74 95.79A82.86 82.86 0 0 0 459.95 89.17M316.32 170.07A84.16 84.16 0 0 0 319.57 177.71M364.35 219.26A84.16 84.16 0 0 0 372.21 221.93M450.36 77.35A84.16 84.16 0 0 0 443.82 72.24M379.19 224.92A85.46 85.46 0 0 0 387.54 226.10M403.06 226.10A85.46 85.46 0 0 0 411.41 224.92M466.92 94.38A85.46 85.46 0 0 0 461.97 87.54M479.04 163.67A86.75 86.75 0 0 0 480.87 155.31M480.79 155.76A86.75 86.75 0 0 0 481.83 147.26M472.11 100.66A86.75 86.75 0 0 0 467.76 93.29M481.54 123.24A88.05 88.05 0 0 0 479.37 114.83" fill="none" stroke="#c4594e" stroke-width="1.4"/>
<path d="M378.07 168.26A32.25 32.25 0 0 0 380.84 169.83M414.03 114.75A32.25 32.25 0 0 0 411.42 113.07M371.20 117.66A33.55 33.55 0 0 0 369.02 120.15M414.78 113.69A33.55 33.55 0 0 0 412.07 111.95M398.46 175.70A34.84 34.84 0 0 0 401.87 175.22M398.93 180.87A40.04 40.04 0 0 0 402.85 180.32M361.98 165.46A41.33 41.33 0 0 0 364.55 168.62M430.65 162.42A41.33 41.33 0 0 0 432.59 158.84M437.67 136.34A42.63 42.63 0 0 0 437.01 132.18M428.70 114.51A42.63 42.63 0 0 0 425.93 111.34M421.95 175.92A43.93 43.93 0 0 0 425.26 173.12M353.56 123.58A45.23 45.23 0 0 0 352.05 127.78M403.59 185.46A45.23 45.23 0 0 0 407.93 184.43M439.60 131.88A45.23 45.23 0 0 0 438.48 127.56M349.08 135.67A46.52 46.52 0 0 0 348.78 140.25M395.18 187.52A46.52 46.52 0 0 0 399.76 187.31M423.53 177.98A46.52 46.52 0 0 0 427.03 175.02M366.09 178.86A47.82 47.82 0 0 0 369.96 181.56M395.17 188.82A47.82 47.82 0 0 0 399.89 188.60M416.74 183.75A47.82 47.82 0 0 0 420.85 181.42M395.17 190.12A49.12 49.12 0 0 0 400.01 189.89M444.68 130.83A50.42 50.42 0 0 0 443.44 126.01M424.58 99.96A50.42 50.42 0 0 0 420.51 97.34M353.61 171.60A51.71 51.71 0 0 0 356.83 175.56M446.70 135.34A51.71 51.71 0 0 0 445.90 130.30M355.68 176.22A53.01 53.01 0 0 0 359.34 179.96M449.28 135.06A54.31 54.31 0 0 0 448.44 129.77M350.47 173.90A55.61 55.61 0 0 0 353.93 178.16M349.43 174.67A56.91 56.91 0 0 0 352.97 179.03M452.04 145.40A56.91 56.91 0 0 0 452.19 139.79M452.20 140.08A56.91 56.91 0 0 0 451.83 134.48M368.93 192.89A58.20 58.20 0 0 0 374.18 195.24M445.07 171.17A58.20 58.20 0 0 0 447.81 166.12M453.33 145.50A58.20 58.20 0 0 0 453.49 139.76M453.50 140.06A58.20 58.20 0 0 0 453.12 134.33M339.46 161.55A59.50 59.50 0 0 0 341.76 166.96M384.09 199.43A59.50 59.50 0 0 0 389.90 200.26M448.84 166.96A59.50 59.50 0 0 0 451.14 161.55M453.58 129.00A59.50 59.50 0 0 0 452.11 123.31M367.76 195.20A60.80 60.80 0 0 0 373.24 197.65M447.29 172.51A60.80 60.80 0 0 0 450.15 167.24M455.92 145.70A60.80 60.80 0 0 0 456.09 139.70M454.85 128.74A60.80 60.80 0 0 0 453.35 122.93M395.14 203.10A62.10 62.10 0 0 0 401.26 202.81M441.49 182.50A62.10 62.10 0 0 0 445.36 177.74M332.07 145.57A63.39 63.39 0 0 0 332.83 151.78M383.11 204.53A64.69 64.69 0 0 0 389.43 205.43M330.21 151.88A65.99 65.99 0 0 0 331.60 158.25M395.13 206.99A65.99 65.99 0 0 0 401.63 206.69M447.00 99.99A65.99 65.99 0 0 0 442.71 95.09M382.37 208.36A68.59 68.59 0 0 0 389.08 209.30M395.12 209.58A68.59 68.59 0 0 0 401.88 209.27M328.58 120.23A69.88 69.88 0 0 0 326.85 126.91M465.02 126.64A71.18 71.18 0 0 0 463.26 119.84M388.34 213.14A72.48 72.48 0 0 0 395.49 213.48M342.30 89.68A73.78 73.78 0 0 0 337.50 95.15M438.90 79.89A75.07 75.07 0 0 0 432.84 75.98M340.44 87.87A76.37 76.37 0 0 0 335.47 93.54M439.66 78.83A76.37 76.37 0 0 0 433.49 74.86M319.31 124.94A77.67 77.67 0 0 0 318.10 132.51M355.82 72.61A78.97 78.97 0 0 0 349.44 76.72M416.96 216.94A78.97 78.97 0 0 0 424.34 214.43M423.96 214.58A78.97 78.97 0 0 0 431.07 211.40M473.79 132.36A78.97 78.97 0 0 0 472.56 124.67M468.33 110.97A78.97 78.97 0 0 0 465.02 103.92M316.77 124.40A80.26 80.26 0 0 0 315.52 132.22M380.17 219.83A80.26 80.26 0 0 0 388.02 220.93M344.69 206.61A82.86 82.86 0 0 0 351.40 211.27M343.89 207.63A84.16 84.16 0 0 0 350.71 212.38M357.18 216.03A84.16 84.16 0 0 0 364.76 219.42M474.12 170.48A84.16 84.16 0 0 0 476.65 162.57M478.95 131.80A84.16 84.16 0 0 0 477.64 123.59M346.03 71.18A85.46 85.46 0 0 0 339.39 76.37M343.10 208.66A85.46 85.46 0 0 0 350.02 213.48M418.74 223.18A85.46 85.46 0 0 0 426.73 220.47M453.26 203.80A85.46 85.46 0 0 0 459.17 197.78M342.31 209.69A86.75 86.75 0 0 0 349.34 214.58M454.14 204.75A86.75 86.75 0 0 0 460.14 198.64M473.36 178.85A86.75 86.75 0 0 0 476.71 170.97M476.56 171.39A86.75 86.75 0 0 0 479.16 163.23M463.27 87.09A86.75 86.75 0 0 0 457.62 80.65M477.77 171.85A88.05 88.05 0 0 0 480.41 163.57M464.28 86.28A88.05 88.05 0 0 0 458.55 79.75" fill="none" stroke="#f4eae1" stroke-width="1.4"/>
<path d="M401.21 172.70A32.25 32.25 0 0 0 404.31 171.97M419.29 162.55A32.25 32.25 0 0 0 421.30 160.08M426.14 131.58A32.25 32.25 0 0 0 425.06 128.58M418.05 165.65A33.55 33.55 0 0 0 420.37 163.29M423.99 158.39A33.55 33.55 0 0 0 425.56 155.48M426.33 128.24A33.55 33.55 0 0 0 424.92 125.25M407.95 173.47A34.84 34.84 0 0 0 411.08 172.06M429.94 137.19A34.84 34.84 0 0 0 429.39 133.79M426.15 124.80A34.84 34.84 0 0 0 424.40 121.84M363.39 124.03A36.14 36.14 0 0 0 361.87 127.26M395.21 177.14A36.14 36.14 0 0 0 398.77 176.98M408.42 174.68A36.14 36.14 0 0 0 411.67 173.22M426.21 159.73A36.14 36.14 0 0 0 427.90 156.60M419.80 112.69A37.44 37.44 0 0 0 416.89 110.41M357.40 132.99A38.74 38.74 0 0 0 356.79 136.76M374.60 173.75A38.74 38.74 0 0 0 377.93 175.63M398.82 179.58A38.74 38.74 0 0 0 402.60 179.04M405.93 178.25A38.74 38.74 0 0 0 409.55 177.02M432.69 151.12A38.74 38.74 0 0 0 433.51 147.39M431.13 126.27A38.74 38.74 0 0 0 429.50 122.81M425.65 116.93A38.74 38.74 0 0 0 423.13 114.05M429.54 161.75A40.04 40.04 0 0 0 431.42 158.28M364.41 168.46A41.33 41.33 0 0 0 367.27 171.37M420.38 173.86A41.33 41.33 0 0 0 423.49 171.23M428.49 165.63A41.33 41.33 0 0 0 430.76 162.24M436.51 144.20A41.33 41.33 0 0 0 436.62 140.12M427.68 115.31A41.33 41.33 0 0 0 424.99 112.25M429.53 166.40A42.63 42.63 0 0 0 431.87 162.91M437.31 148.25A42.63 42.63 0 0 0 437.82 144.07M361.03 113.52A43.93 43.93 0 0 0 358.49 117.03M362.47 170.19A43.93 43.93 0 0 0 365.51 173.28M436.44 156.39A43.93 43.93 0 0 0 437.76 152.26M350.08 140.04A45.23 45.23 0 0 0 350.21 144.50M356.50 164.24A45.23 45.23 0 0 0 358.98 167.95M395.18 186.23A45.23 45.23 0 0 0 399.64 186.02M407.71 184.49A45.23 45.23 0 0 0 411.93 183.06M428.94 171.22A45.23 45.23 0 0 0 431.76 167.76M431.62 167.95A45.23 45.23 0 0 0 434.10 164.24M404.07 188.01A47.82 47.82 0 0 0 408.66 186.92M413.13 186.77A49.12 49.12 0 0 0 417.55 184.79M390.34 192.48A51.71 51.71 0 0 0 395.44 192.71M449.60 140.13A54.31 54.31 0 0 0 449.25 134.78M405.50 195.67A55.61 55.61 0 0 0 410.83 194.39M354.42 101.41A56.91 56.91 0 0 0 350.72 105.64M373.89 195.12A58.20 58.20 0 0 0 379.33 196.97M442.04 175.68A58.20 58.20 0 0 0 445.23 170.91M453.15 134.63A58.20 58.20 0 0 0 452.25 128.96M435.66 184.72A59.50 59.50 0 0 0 439.77 180.53M452.34 168.66A63.39 63.39 0 0 0 454.79 162.90M401.17 205.43A64.69 64.69 0 0 0 407.49 204.53M444.39 185.10A65.99 65.99 0 0 0 448.50 180.05M359.35 197.88A67.29 67.29 0 0 0 365.13 201.15M413.76 205.71A67.29 67.29 0 0 0 420.05 203.57M462.58 139.92A67.29 67.29 0 0 0 462.14 133.29M449.03 98.38A68.59 68.59 0 0 0 444.57 93.29M351.82 197.36A71.18 71.18 0 0 0 357.59 201.37M459.35 172.05A71.18 71.18 0 0 0 462.10 165.59M461.97 165.94A71.18 71.18 0 0 0 464.10 159.24M368.64 208.40A72.48 72.48 0 0 0 375.42 210.70M470.10 125.60A76.37 76.37 0 0 0 468.22 118.30M465.93 111.96A76.37 76.37 0 0 0 462.73 105.14M477.91 147.41A82.86 82.86 0 0 0 478.14 139.23M444.18 72.49A84.16 84.16 0 0 0 437.38 68.12M475.34 170.94A85.46 85.46 0 0 0 477.90 162.90M462.25 87.89A85.46 85.46 0 0 0 456.69 81.55M419.10 224.43A86.75 86.75 0 0 0 427.21 221.67" fill="none" stroke="#9f2c29" stroke-width="1.4"/>
<path d="M404.15 172.01A32.25 32.25 0 0 0 407.16 170.99M417.17 164.70A32.25 32.25 0 0 0 419.40 162.43M431.23 137.05A36.14 36.14 0 0 0 430.66 133.53M418.95 113.67A36.14 36.14 0 0 0 416.14 111.47M375.28 106.33A40.04 40.04 0 0 0 372.05 108.41M435.10 136.62A40.04 40.04 0 0 0 434.47 132.72M383.39 181.93A42.63 42.63 0 0 0 387.48 182.91M406.99 182.00A42.63 42.63 0 0 0 410.98 180.64M367.67 176.81A45.23 45.23 0 0 0 371.34 179.36M437.66 156.84A45.23 45.23 0 0 0 439.02 152.59M347.79 135.52A47.82 47.82 0 0 0 347.48 140.23M443.12 140.23A47.82 47.82 0 0 0 442.81 135.52M430.77 107.02A49.12 49.12 0 0 0 427.24 103.69M364.50 180.92A50.42 50.42 0 0 0 368.59 183.76M442.52 158.66A50.42 50.42 0 0 0 444.03 153.92M356.65 175.36A51.71 51.71 0 0 0 360.22 179.00M342.80 154.92A54.31 54.31 0 0 0 344.43 160.03M369.52 191.73A56.91 56.91 0 0 0 374.65 194.03M443.96 170.50A56.91 56.91 0 0 0 446.63 165.56M446.51 165.82A56.91 56.91 0 0 0 448.70 160.66M421.98 194.19A59.50 59.50 0 0 0 427.09 191.30M443.95 102.41A62.10 62.10 0 0 0 439.91 97.80M371.99 199.95A63.39 63.39 0 0 0 377.91 201.96M371.51 201.16A64.69 64.69 0 0 0 377.55 203.21M340.19 104.71A65.99 65.99 0 0 0 336.88 110.32M370.55 203.57A67.29 67.29 0 0 0 376.84 205.71M395.12 208.29A67.29 67.29 0 0 0 401.76 207.98M440.94 190.44A67.29 67.29 0 0 0 445.59 185.71M451.42 182.64A69.88 69.88 0 0 0 455.25 176.91M446.69 91.75A71.18 71.18 0 0 0 441.59 86.93M436.64 83.06A71.18 71.18 0 0 0 430.89 79.36M325.24 159.58A72.48 72.48 0 0 0 327.41 166.39M345.86 194.00A72.48 72.48 0 0 0 351.33 198.62M467.56 126.12A73.78 73.78 0 0 0 465.74 119.07M457.13 100.75A73.78 73.78 0 0 0 452.86 94.85M438.15 80.94A73.78 73.78 0 0 0 432.19 77.11M468.83 125.86A75.07 75.07 0 0 0 466.98 118.68M319.13 146.51A76.37 76.37 0 0 0 320.04 153.99M442.42 202.74A77.67 77.67 0 0 0 448.28 197.80M467.13 111.47A77.67 77.67 0 0 0 463.87 104.53M465.21 104.28A78.97 78.97 0 0 0 461.25 97.57M324.44 103.31A80.26 80.26 0 0 0 321.06 110.48M318.66 117.14A80.26 80.26 0 0 0 316.68 124.81M315.50 124.13A81.56 81.56 0 0 0 314.23 132.08M314.23 123.86A82.86 82.86 0 0 0 312.94 131.94M357.77 214.87A82.86 82.86 0 0 0 365.23 218.21M443.43 73.55A82.86 82.86 0 0 0 436.73 69.24M467.27 184.62A84.16 84.16 0 0 0 471.22 177.32M326.41 191.57A85.46 85.46 0 0 0 331.73 198.11M318.71 100.26A86.75 86.75 0 0 0 315.06 108.01M452.06 75.39A86.75 86.75 0 0 0 445.32 70.12M324.32 193.10A88.05 88.05 0 0 0 329.80 199.84" fill="none" stroke="#f6d1c4" stroke-width="1.4"/>
<path d="M409.76 169.83A32.25 32.25 0 0 0 412.53 168.26M365.68 125.25A33.55 33.55 0 0 0 364.27 128.24M366.52 158.24A33.55 33.55 0 0 0 368.36 160.99M401.45 173.98A33.55 33.55 0 0 0 404.67 173.21M415.65 167.67A33.55 33.55 0 0 0 418.18 165.53M423.41 122.70A33.55 33.55 0 0 0 421.47 120.02M417.25 115.63A33.55 33.55 0 0 0 414.64 113.59M360.69 137.01A34.84 34.84 0 0 0 360.46 140.44M420.46 116.89A34.84 34.84 0 0 0 417.96 114.53M359.17 140.23A36.14 36.14 0 0 0 359.27 143.80M431.33 143.80A36.14 36.14 0 0 0 431.43 140.23M362.24 123.42A37.44 37.44 0 0 0 360.67 126.76M357.96 143.70A37.44 37.44 0 0 0 358.41 147.37M415.82 173.85A38.74 38.74 0 0 0 418.96 171.67M433.92 144.00A38.74 38.74 0 0 0 434.03 140.17M423.27 114.20A38.74 38.74 0 0 0 420.49 111.57M434.51 132.93A40.04 40.04 0 0 0 433.53 129.10M355.35 151.59A41.33 41.33 0 0 0 356.59 155.48M373.22 175.94A41.33 41.33 0 0 0 376.77 177.95M402.88 181.63A41.33 41.33 0 0 0 406.85 180.69M436.03 148.03A41.33 41.33 0 0 0 436.53 143.98M362.04 114.33A42.63 42.63 0 0 0 359.57 117.74M356.52 120.37A43.93 43.93 0 0 0 354.67 124.30M350.37 135.82A45.23 45.23 0 0 0 350.08 140.27M438.95 152.82A45.23 45.23 0 0 0 439.91 148.46M437.13 123.80A45.23 45.23 0 0 0 435.23 119.76M440.87 131.62A46.52 46.52 0 0 0 439.72 127.17M353.08 118.54A47.82 47.82 0 0 0 351.07 122.82M351.93 117.93A49.12 49.12 0 0 0 349.87 122.32M349.97 122.08A49.12 49.12 0 0 0 348.33 126.64M347.24 130.84A49.12 49.12 0 0 0 346.48 135.63M437.31 166.46A49.12 49.12 0 0 0 439.61 162.20M399.99 192.50A51.71 51.71 0 0 0 405.05 191.79M404.78 191.84A51.71 51.71 0 0 0 409.75 190.66M431.26 179.96A53.01 53.01 0 0 0 434.92 176.22M352.77 178.81A56.91 56.91 0 0 0 356.70 182.82M337.48 134.33A58.20 58.20 0 0 0 337.10 140.06M395.15 199.20A58.20 58.20 0 0 0 400.89 198.93M429.10 93.62A58.20 58.20 0 0 0 424.40 90.59M350.83 180.53A59.50 59.50 0 0 0 354.94 184.72M434.23 96.00A59.50 59.50 0 0 0 429.60 92.38M367.17 196.36A62.10 62.10 0 0 0 372.76 198.86M344.19 178.51A63.39 63.39 0 0 0 348.14 183.37M366.58 197.52A63.39 63.39 0 0 0 372.29 200.07M343.15 179.28A64.69 64.69 0 0 0 347.18 184.23M445.98 100.80A64.69 64.69 0 0 0 441.77 96.00M457.11 164.12A65.99 65.99 0 0 0 459.09 157.91M331.05 121.00A67.29 67.29 0 0 0 329.40 127.43M464.97 146.40A69.88 69.88 0 0 0 465.17 139.51M408.35 210.97A71.18 71.18 0 0 0 415.18 209.35M375.05 210.59A72.48 72.48 0 0 0 382.01 212.25M465.62 167.30A75.07 75.07 0 0 0 467.87 160.24M367.21 212.02A76.37 76.37 0 0 0 374.35 214.44M468.05 168.21A77.67 77.67 0 0 0 470.38 160.91M457.17 91.93A78.97 78.97 0 0 0 452.03 86.07M328.50 190.03A82.86 82.86 0 0 0 333.66 196.38M470.96 101.27A85.46 85.46 0 0 0 466.67 94.00M481.53 131.51A86.75 86.75 0 0 0 480.18 123.06M457.94 80.98A86.75 86.75 0 0 0 451.72 75.10" fill="none" stroke="#d76f61" stroke-width="1.4"/>
<path d="M427.54 140.48A32.25 32.25 0 0 0 427.34 137.31M428.84 140.46A33.55 33.55 0 0 0 428.63 137.16M360.93 146.75A34.84 34.84 0 0 0 361.67 150.11M371.53 166.48A34.84 34.84 0 0 0 374.16 168.70M376.58 108.58A37.44 37.44 0 0 0 373.55 110.52M369.76 168.38A37.44 37.44 0 0 0 372.59 170.76M431.89 121.78A41.33 41.33 0 0 0 429.82 118.27M362.68 175.97A47.82 47.82 0 0 0 366.29 179.02M360.91 177.87A50.42 50.42 0 0 0 364.71 181.08M445.71 140.19A50.42 50.42 0 0 0 445.39 135.22M368.79 95.09A53.01 53.01 0 0 0 364.51 97.85M344.06 154.59A53.01 53.01 0 0 0 345.65 159.57M341.55 155.25A55.61 55.61 0 0 0 343.22 160.48M428.35 94.68A56.91 56.91 0 0 0 423.75 91.72M448.43 106.41A63.39 63.39 0 0 0 444.76 101.34M450.60 105.00A65.99 65.99 0 0 0 446.78 99.72M448.02 99.18A67.29 67.29 0 0 0 443.64 94.19M328.50 165.59A71.18 71.18 0 0 0 331.25 172.05M452.46 183.42A71.18 71.18 0 0 0 456.36 177.58M327.28 166.04A72.48 72.48 0 0 0 330.08 172.62M453.50 184.19A72.48 72.48 0 0 0 457.48 178.24M323.99 159.91A73.78 73.78 0 0 0 326.20 166.85M455.59 185.74A75.07 75.07 0 0 0 459.70 179.58M458.22 100.04A75.07 75.07 0 0 0 453.87 94.04M323.63 167.38A76.37 76.37 0 0 0 326.58 174.32M356.47 73.74A77.67 77.67 0 0 0 350.19 77.77M321.14 117.91A77.67 77.67 0 0 0 319.23 125.33M447.98 198.07A77.67 77.67 0 0 0 453.35 192.60M446.97 81.28A78.97 78.97 0 0 0 440.83 76.48M372.52 219.32A81.56 81.56 0 0 0 380.35 221.18M442.67 74.60A81.56 81.56 0 0 0 436.08 70.36" fill="none" stroke="#f1bbad" stroke-width="1.4"/>
<path d="M422.33 123.41A32.25 32.25 0 0 0 420.46 120.83M363.82 152.59A33.55 33.55 0 0 0 365.11 155.63M372.42 165.53A33.55 33.55 0 0 0 374.95 167.67M404.50 173.26A33.55 33.55 0 0 0 407.64 172.20M419.52 117.79A33.55 33.55 0 0 0 417.12 115.52M370.27 116.76A34.84 34.84 0 0 0 368.00 119.35M401.69 175.25A34.84 34.84 0 0 0 405.03 174.46M428.93 150.11A34.84 34.84 0 0 0 429.67 146.75M430.04 143.69A34.84 34.84 0 0 0 430.14 140.26M385.20 175.70A36.14 36.14 0 0 0 388.67 176.53M398.58 176.99A36.14 36.14 0 0 0 402.11 176.49M430.19 150.45A36.14 36.14 0 0 0 430.95 146.96M372.43 170.64A37.44 37.44 0 0 0 375.46 172.75M431.44 150.78A37.44 37.44 0 0 0 432.23 147.17M432.63 143.90A37.44 37.44 0 0 0 432.73 140.20M431.11 130.06A37.44 37.44 0 0 0 429.85 126.58M375.93 107.45A38.74 38.74 0 0 0 372.80 109.47M431.58 154.57A38.74 38.74 0 0 0 432.74 150.93M432.80 155.03A40.04 40.04 0 0 0 434.00 151.26M421.49 110.72A40.04 40.04 0 0 0 418.38 108.29M354.24 136.26A41.33 41.33 0 0 0 353.97 140.34M376.58 177.85A41.33 41.33 0 0 0 380.30 179.52M434.01 155.48A41.33 41.33 0 0 0 435.25 151.59M369.26 174.75A42.63 42.63 0 0 0 372.71 177.16M410.77 180.72A42.63 42.63 0 0 0 414.61 179.01M437.93 140.31A42.63 42.63 0 0 0 437.65 136.12M437.05 132.40A42.63 42.63 0 0 0 436.00 128.33M431.03 117.74A42.63 42.63 0 0 0 428.56 114.33M420.06 106.30A42.63 42.63 0 0 0 416.62 104.08M363.74 110.44A43.93 43.93 0 0 0 360.88 113.70M365.34 173.12A43.93 43.93 0 0 0 368.65 175.92M387.02 184.14A43.93 43.93 0 0 0 391.31 184.75M434.83 160.16A43.93 43.93 0 0 0 436.52 156.17M437.70 152.48A43.93 43.93 0 0 0 438.63 148.24M369.23 104.05A45.23 45.23 0 0 0 365.71 106.80M360.01 112.71A45.23 45.23 0 0 0 357.40 116.33M352.12 127.56A45.23 45.23 0 0 0 351.00 131.88M374.81 181.32A45.23 45.23 0 0 0 378.89 183.14M390.96 186.02A45.23 45.23 0 0 0 395.42 186.23M439.87 148.69A45.23 45.23 0 0 0 440.41 144.26M440.52 140.27A45.23 45.23 0 0 0 440.23 135.82M438.55 127.78A45.23 45.23 0 0 0 437.04 123.58M352.36 123.08A46.52 46.52 0 0 0 350.81 127.40M430.87 172.96A47.82 47.82 0 0 0 433.85 169.30M428.62 177.09A49.12 49.12 0 0 0 432.01 173.63M431.84 173.83A49.12 49.12 0 0 0 434.90 170.06M436.46 114.20A49.12 49.12 0 0 0 433.62 110.27M350.79 117.33A50.42 50.42 0 0 0 348.67 121.83M440.67 162.99A50.42 50.42 0 0 0 442.61 158.41M443.52 126.27A50.42 50.42 0 0 0 441.83 121.58M431.70 106.12A50.42 50.42 0 0 0 428.09 102.70M445.22 154.52A51.71 51.71 0 0 0 446.31 149.53M405.02 193.11A53.01 53.01 0 0 0 410.11 191.90M426.09 97.85A53.01 53.01 0 0 0 421.81 95.09M400.23 195.09A54.31 54.31 0 0 0 405.54 194.34M426.84 96.79A54.31 54.31 0 0 0 422.46 93.97M361.33 185.03A55.61 55.61 0 0 0 365.84 188.16M415.95 194.03A56.91 56.91 0 0 0 421.08 191.73M337.79 156.25A59.50 59.50 0 0 0 339.57 161.84M431.40 188.30A59.50 59.50 0 0 0 435.89 184.51M443.08 176.46A59.50 59.50 0 0 0 446.34 171.58M455.73 134.35A60.80 60.80 0 0 0 454.78 128.43M430.61 91.51A60.80 60.80 0 0 0 425.70 88.35M429.57 195.87A64.69 64.69 0 0 0 434.82 192.22M334.60 170.04A67.29 67.29 0 0 0 337.76 175.88M369.60 205.99A69.88 69.88 0 0 0 376.13 208.20M342.10 188.29A71.18 71.18 0 0 0 347.02 193.31M463.19 166.39A72.48 72.48 0 0 0 465.36 159.58M367.69 210.81A75.07 75.07 0 0 0 374.71 213.19M318.95 139.37A76.37 76.37 0 0 0 319.16 146.91M471.37 125.33A77.67 77.67 0 0 0 469.46 117.91M327.56 181.58A78.97 78.97 0 0 0 331.89 188.06M462.57 97.21A80.26 80.26 0 0 0 457.92 90.79M458.18 91.12A80.26 80.26 0 0 0 452.96 85.16M402.70 222.23A81.56 81.56 0 0 0 410.67 221.10M450.62 200.93A81.56 81.56 0 0 0 456.26 195.19M454.19 84.57A81.56 81.56 0 0 0 448.34 79.04M372.15 220.56A82.86 82.86 0 0 0 380.11 222.46M379.68 222.38A82.86 82.86 0 0 0 387.78 223.52M476.95 155.09A82.86 82.86 0 0 0 477.94 146.98M449.51 78.34A82.86 82.86 0 0 0 443.07 73.30M317.63 108.59A84.16 84.16 0 0 0 314.82 116.40M479.45 139.65A84.16 84.16 0 0 0 478.90 131.36M469.81 101.87A84.16 84.16 0 0 0 465.59 94.72M457.00 81.88A85.46 85.46 0 0 0 450.87 76.08M313.89 170.97A86.75 86.75 0 0 0 317.24 178.85" fill="none" stroke="#b1433b" stroke-width="1.4"/>
<path d="M428.65 137.33A33.55 33.55 0 0 0 428.12 134.06M361.21 133.79A34.84 34.84 0 0 0 360.66 137.19M374.02 168.59A34.84 34.84 0 0 0 376.84 170.55M359.94 133.53A36.14 36.14 0 0 0 359.37 137.05M428.73 127.26A36.14 36.14 0 0 0 427.21 124.03M418.80 171.79A38.74 38.74 0 0 0 421.72 169.33M425.08 167.76A40.04 40.04 0 0 0 427.57 164.69M372.69 101.83A45.23 45.23 0 0 0 369.03 104.18M432.77 111.28A47.82 47.82 0 0 0 429.65 107.73M432.97 190.36A62.10 62.10 0 0 0 437.66 186.41M453.46 162.75A62.10 62.10 0 0 0 455.32 156.91M454.68 163.21A63.39 63.39 0 0 0 456.58 157.25M468.00 153.55A73.78 73.78 0 0 0 468.88 146.32M334.78 185.42A75.07 75.07 0 0 0 339.45 191.17M469.28 153.77A75.07 75.07 0 0 0 470.18 146.41M416.25 214.44A76.37 76.37 0 0 0 423.39 212.02M321.72 176.20A81.56 81.56 0 0 0 325.55 183.28" fill="none" stroke="#5ca5a8" stroke-width="1.4"/>
<path d="M421.57 169.47A38.74 38.74 0 0 0 424.25 166.74M337.92 183.12A71.18 71.18 0 0 0 342.35 188.57M415.18 210.70A72.48 72.48 0 0 0 421.96 208.40M323.62 111.09A77.67 77.67 0 0 0 321.02 118.30" fill="none" stroke="#45999d" stroke-width="1.4"/>
<path d="M372.52 177.04A42.63 42.63 0 0 0 376.19 179.11M403.12 182.91A42.63 42.63 0 0 0 407.21 181.93M346.19 139.95A49.12 49.12 0 0 0 346.33 144.80M348.77 121.58A50.42 50.42 0 0 0 347.08 126.27M368.14 93.97A54.31 54.31 0 0 0 363.76 96.79M349.86 181.39A60.80 60.80 0 0 0 354.06 185.68M365.41 199.83A65.99 65.99 0 0 0 371.35 202.49M460.75 165.48A69.88 69.88 0 0 0 462.85 158.91M408.59 212.25A72.48 72.48 0 0 0 415.55 210.59M332.01 178.91A73.78 73.78 0 0 0 336.05 184.97M464.40 166.85A73.78 73.78 0 0 0 466.61 159.91M449.74 199.98A80.26 80.26 0 0 0 455.29 194.33M313.95 162.57A84.16 84.16 0 0 0 316.48 170.48M480.29 164.01A88.05 88.05 0 0 0 482.15 155.52" fill="none" stroke="#e28778" stroke-width="1.4"/>
<path d="M355.96 109.46A50.42 50.42 0 0 0 353.05 113.49M369.44 96.21A51.71 51.71 0 0 0 365.26 98.90M433.02 181.86A55.61 55.61 0 0 0 436.86 177.95M429.86 92.56A59.50 59.50 0 0 0 425.05 89.47M452.78 103.58A68.59 68.59 0 0 0 448.81 98.10M408.11 209.70A69.88 69.88 0 0 0 414.82 208.10M456.04 101.46A72.48 72.48 0 0 0 451.85 95.66M374.69 211.84A73.78 73.78 0 0 0 381.77 213.53M408.83 213.53A73.78 73.78 0 0 0 415.91 211.84M322.73 160.24A75.07 75.07 0 0 0 324.98 167.30M324.85 166.93A75.07 75.07 0 0 0 327.75 173.75M409.30 216.08A76.37 76.37 0 0 0 416.63 214.33M466.83 167.75A76.37 76.37 0 0 0 469.12 160.57M448.86 199.03A78.97 78.97 0 0 0 454.32 193.47M364.83 218.05A82.86 82.86 0 0 0 372.57 220.68M477.79 163.33A85.46 85.46 0 0 0 479.59 155.09M451.21 76.37A85.46 85.46 0 0 0 444.57 71.18" fill="none" stroke="#eaa193" stroke-width="1.4"/>
<path d="M338.96 182.35A69.88 69.88 0 0 0 343.31 187.70" fill="none" stroke="#2f8c92" stroke-width="1.4"/>
<path d="M384.00 121.43A22.60 22.60 0 0 0 382.17 122.60M374.44 132.30A22.60 22.60 0 0 0 373.69 134.40M378.41 156.02A22.60 22.60 0 0 0 379.97 157.61M377.51 156.81A23.80 23.80 0 0 0 379.16 158.49M399.66 164.40A23.80 23.80 0 0 0 401.95 163.85M419.03 142.84A23.80 23.80 0 0 0 419.09 140.49M372.23 131.37A25.00 25.00 0 0 0 371.39 133.69M373.85 153.85A25.00 25.00 0 0 0 375.22 155.90M410.47 160.87A25.00 25.00 0 0 0 412.35 159.28M412.26 159.37A25.00 25.00 0 0 0 413.98 157.61M371.66 152.31A26.20 26.20 0 0 0 372.89 154.58M375.72 158.41A26.20 26.20 0 0 0 377.53 160.25M379.30 161.74A26.20 26.20 0 0 0 381.42 163.22M381.60 117.27A27.40 27.40 0 0 0 379.39 118.70M374.82 159.20A27.40 27.40 0 0 0 376.72 161.13M387.65 167.31A27.40 27.40 0 0 0 390.28 167.94M366.77 143.06A28.60 28.60 0 0 0 367.12 145.86M369.50 153.34A28.60 28.60 0 0 0 370.84 155.82M387.31 168.46A28.60 28.60 0 0 0 390.06 169.12" fill="none" stroke="#b5d8d5" stroke-width="1.3"/>
<path d="M382.27 122.53A22.60 22.60 0 0 0 380.51 123.91M380.60 123.83A22.60 22.60 0 0 0 378.98 125.36M375.35 130.39A22.60 22.60 0 0 0 374.40 132.41M379.88 157.53A22.60 22.60 0 0 0 381.59 158.97M401.50 162.73A22.60 22.60 0 0 0 403.61 162.02M415.64 150.86A22.60 22.60 0 0 0 416.51 148.81M416.47 148.92A22.60 22.60 0 0 0 417.15 146.79M408.43 122.60A22.60 22.60 0 0 0 406.60 121.43M381.58 121.55A23.80 23.80 0 0 0 379.73 123.00M374.29 129.82A23.80 23.80 0 0 0 373.29 131.95M372.58 133.93A23.80 23.80 0 0 0 371.99 136.20M372.01 136.08A23.80 23.80 0 0 0 371.64 138.40M371.83 144.93A23.80 23.80 0 0 0 372.33 147.22M376.11 155.08A23.80 23.80 0 0 0 377.60 156.91M390.81 164.37A23.80 23.80 0 0 0 393.14 164.70M403.94 163.18A23.80 23.80 0 0 0 406.08 162.22M414.41 155.18A23.80 23.80 0 0 0 415.72 153.23M390.59 165.55A25.00 25.00 0 0 0 393.03 165.90M397.57 165.90A25.00 25.00 0 0 0 400.01 165.55M419.43 147.53A25.00 25.00 0 0 0 419.96 145.12M371.12 130.91A26.20 26.20 0 0 0 370.24 133.34M385.66 165.36A26.20 26.20 0 0 0 388.11 166.19M390.36 166.73A26.20 26.20 0 0 0 392.92 167.09M400.10 166.76A26.20 26.20 0 0 0 402.62 166.16M402.49 166.19A26.20 26.20 0 0 0 404.94 165.36M404.81 165.41A26.20 26.20 0 0 0 407.17 164.36M411.20 161.83A26.20 26.20 0 0 0 413.17 160.16M419.84 150.18A26.20 26.20 0 0 0 420.62 147.71M420.36 133.34A26.20 26.20 0 0 0 419.48 130.91M417.26 126.71A26.20 26.20 0 0 0 415.74 124.61M410.52 119.67A26.20 26.20 0 0 0 408.40 118.31M379.50 118.61A27.40 27.40 0 0 0 377.37 120.28M373.92 123.86A27.40 27.40 0 0 0 372.34 126.05M370.01 130.45A27.40 27.40 0 0 0 369.10 132.99M369.14 132.86A27.40 27.40 0 0 0 368.46 135.47M368.08 137.86A27.40 27.40 0 0 0 367.90 140.56M369.59 150.46A27.40 27.40 0 0 0 370.64 152.95M395.23 168.40A27.40 27.40 0 0 0 397.93 168.27M411.92 162.78A27.40 27.40 0 0 0 413.99 161.04M422.70 140.56A27.40 27.40 0 0 0 422.52 137.86M419.56 128.26A27.40 27.40 0 0 0 418.18 125.93M418.26 126.05A27.40 27.40 0 0 0 416.68 123.86M416.77 123.97A27.40 27.40 0 0 0 414.98 121.94M389.91 169.09A28.60 28.60 0 0 0 392.70 169.48M392.56 169.47A28.60 28.60 0 0 0 395.37 169.60M421.04 153.48A28.60 28.60 0 0 0 422.14 150.88M423.90 140.54A28.60 28.60 0 0 0 423.71 137.72M420.62 127.70A28.60 28.60 0 0 0 419.19 125.27" fill="none" stroke="#daeae5" stroke-width="1.3"/>
<path d="M379.06 125.28A22.60 22.60 0 0 0 377.59 126.96M374.09 148.81A22.60 22.60 0 0 0 374.96 150.86M377.08 154.37A22.60 22.60 0 0 0 378.49 156.10M403.50 162.06A22.60 22.60 0 0 0 405.54 161.15M378.20 124.44A23.80 23.80 0 0 0 376.65 126.21M372.96 149.22A23.80 23.80 0 0 0 373.88 151.38M415.65 153.34A23.80 23.80 0 0 0 416.77 151.27M417.31 131.95A23.80 23.80 0 0 0 416.31 129.82M409.12 121.63A23.80 23.80 0 0 0 407.20 120.39M380.89 120.57A25.00 25.00 0 0 0 378.94 122.09M377.34 123.61A25.00 25.00 0 0 0 375.71 125.46M371.84 149.64A25.00 25.00 0 0 0 372.80 151.91M375.15 155.79A25.00 25.00 0 0 0 376.70 157.71M420.30 140.60A25.00 25.00 0 0 0 420.14 138.14M380.19 119.59A26.20 26.20 0 0 0 378.16 121.19M372.17 128.70A26.20 26.20 0 0 0 371.07 131.04M381.30 163.15A26.20 26.20 0 0 0 383.55 164.42M419.53 131.04A26.20 26.20 0 0 0 418.43 128.70M371.11 128.13A27.40 27.40 0 0 0 369.96 130.58M420.64 130.58A27.40 27.40 0 0 0 419.49 128.13M378.81 117.63A28.60 28.60 0 0 0 376.59 119.37M370.05 127.57A28.60 28.60 0 0 0 368.85 130.12M370.76 155.70A28.60 28.60 0 0 0 372.33 158.04" fill="none" stroke="#f3f6f0" stroke-width="1.3"/>
<path d="M377.67 126.86A22.60 22.60 0 0 0 376.36 128.67M373.72 134.28A22.60 22.60 0 0 0 373.16 136.44M372.85 138.41A22.60 22.60 0 0 0 372.70 140.64M372.71 140.52A22.60 22.60 0 0 0 372.77 142.75M373.01 144.73A22.60 22.60 0 0 0 373.49 146.91M373.45 146.79A22.60 22.60 0 0 0 374.13 148.92M374.91 150.75A22.60 22.60 0 0 0 375.97 152.71M381.50 158.89A22.60 22.60 0 0 0 383.33 160.17M383.23 160.10A22.60 22.60 0 0 0 385.17 161.20M385.06 161.15A22.60 22.60 0 0 0 387.10 162.06M386.99 162.02A22.60 22.60 0 0 0 389.10 162.73M391.04 163.19A22.60 22.60 0 0 0 393.25 163.51M393.13 163.50A22.60 22.60 0 0 0 395.36 163.60M395.24 163.60A22.60 22.60 0 0 0 397.47 163.50M413.45 154.47A22.60 22.60 0 0 0 414.69 152.61M416.91 134.40A22.60 22.60 0 0 0 416.16 132.30M414.24 128.67A22.60 22.60 0 0 0 412.93 126.86M411.62 125.36A22.60 22.60 0 0 0 410.00 123.83M410.09 123.91A22.60 22.60 0 0 0 408.33 122.53M379.82 122.92A23.80 23.80 0 0 0 378.12 124.53M371.51 140.49A23.80 23.80 0 0 0 371.57 142.84M380.76 159.84A23.80 23.80 0 0 0 382.69 161.19M382.58 161.12A23.80 23.80 0 0 0 384.63 162.27M388.65 163.85A23.80 23.80 0 0 0 390.94 164.40M393.02 164.69A23.80 23.80 0 0 0 395.36 164.80M395.24 164.80A23.80 23.80 0 0 0 397.58 164.69M401.83 163.89A23.80 23.80 0 0 0 404.05 163.13M407.91 161.19A23.80 23.80 0 0 0 409.84 159.84M411.44 158.49A23.80 23.80 0 0 0 413.09 156.81M416.72 151.38A23.80 23.80 0 0 0 417.64 149.22M418.75 145.05A23.80 23.80 0 0 0 419.04 142.72M419.10 140.62A23.80 23.80 0 0 0 418.94 138.27M415.25 128.02A23.80 23.80 0 0 0 413.87 126.11M412.48 124.53A23.80 23.80 0 0 0 410.78 122.92M410.87 123.00A23.80 23.80 0 0 0 409.02 121.55M379.04 122.01A25.00 25.00 0 0 0 377.25 123.70M375.80 125.36A25.00 25.00 0 0 0 374.35 127.36M373.23 129.26A25.00 25.00 0 0 0 372.18 131.49M371.43 133.57A25.00 25.00 0 0 0 370.81 135.96M370.84 135.83A25.00 25.00 0 0 0 370.45 138.27M370.46 138.14A25.00 25.00 0 0 0 370.30 140.60M370.31 140.47A25.00 25.00 0 0 0 370.37 142.93M371.13 147.41A25.00 25.00 0 0 0 371.88 149.76M376.62 157.61A25.00 25.00 0 0 0 378.34 159.37M380.03 160.79A25.00 25.00 0 0 0 382.05 162.20M386.11 164.25A25.00 25.00 0 0 0 388.44 165.04M392.90 165.88A25.00 25.00 0 0 0 395.37 166.00M395.23 166.00A25.00 25.00 0 0 0 397.70 165.88M402.16 165.04A25.00 25.00 0 0 0 404.49 164.25M406.51 163.35A25.00 25.00 0 0 0 408.66 162.13M408.55 162.20A25.00 25.00 0 0 0 410.57 160.79M417.80 151.91A25.00 25.00 0 0 0 418.76 149.64M420.23 142.93A25.00 25.00 0 0 0 420.29 140.47M411.66 122.09A25.00 25.00 0 0 0 409.71 120.57M382.20 118.31A26.20 26.20 0 0 0 380.08 119.67M378.26 121.10A26.20 26.20 0 0 0 376.38 122.87M376.48 122.77A26.20 26.20 0 0 0 374.77 124.72M374.86 124.61A26.20 26.20 0 0 0 373.34 126.71M373.42 126.59A26.20 26.20 0 0 0 372.10 128.82M370.28 133.21A26.20 26.20 0 0 0 369.64 135.72M369.67 135.58A26.20 26.20 0 0 0 369.26 138.13M369.27 138.00A26.20 26.20 0 0 0 369.10 140.58M369.11 140.44A26.20 26.20 0 0 0 369.18 143.03M369.17 142.89A26.20 26.20 0 0 0 369.48 145.46M369.98 147.71A26.20 26.20 0 0 0 370.76 150.18M377.43 160.16A26.20 26.20 0 0 0 379.40 161.83M383.43 164.36A26.20 26.20 0 0 0 385.79 165.41M392.79 167.08A26.20 26.20 0 0 0 395.37 167.20M397.68 167.09A26.20 26.20 0 0 0 400.24 166.73M407.05 164.42A26.20 26.20 0 0 0 409.30 163.15M409.18 163.22A26.20 26.20 0 0 0 411.30 161.74M421.42 143.03A26.20 26.20 0 0 0 421.49 140.44M420.96 135.72A26.20 26.20 0 0 0 420.32 133.21M415.83 124.72A26.20 26.20 0 0 0 414.12 122.77M412.44 121.19A26.20 26.20 0 0 0 410.41 119.59M375.62 121.94A27.40 27.40 0 0 0 373.83 123.97M372.42 125.93A27.40 27.40 0 0 0 371.04 128.26M368.49 135.33A27.40 27.40 0 0 0 368.06 138.00M367.97 142.98A27.40 27.40 0 0 0 368.30 145.66M368.82 148.02A27.40 27.40 0 0 0 369.64 150.60M371.79 155.08A27.40 27.40 0 0 0 373.30 157.33M378.56 162.69A27.40 27.40 0 0 0 380.78 164.24M382.89 165.43A27.40 27.40 0 0 0 385.36 166.53M385.22 166.48A27.40 27.40 0 0 0 387.78 167.35M392.67 168.27A27.40 27.40 0 0 0 395.37 168.40M397.79 168.29A27.40 27.40 0 0 0 400.46 167.91M402.82 167.35A27.40 27.40 0 0 0 405.38 166.48M405.24 166.53A27.40 27.40 0 0 0 407.71 165.43M413.88 161.13A27.40 27.40 0 0 0 415.78 159.20M417.30 157.33A27.40 27.40 0 0 0 418.81 155.08M419.96 152.95A27.40 27.40 0 0 0 421.01 150.46M420.96 150.60A27.40 27.40 0 0 0 421.78 148.02M421.75 148.16A27.40 27.40 0 0 0 422.32 145.52M422.62 143.12A27.40 27.40 0 0 0 422.69 140.42M422.54 138.00A27.40 27.40 0 0 0 422.11 135.33M421.50 132.99A27.40 27.40 0 0 0 420.59 130.45M415.08 122.04A27.40 27.40 0 0 0 413.12 120.18M413.23 120.28A27.40 27.40 0 0 0 411.10 118.61M372.99 123.11A28.60 28.60 0 0 0 371.33 125.40M371.41 125.27A28.60 28.60 0 0 0 369.98 127.70M368.91 129.99A28.60 28.60 0 0 0 367.95 132.64M367.99 132.50A28.60 28.60 0 0 0 367.29 135.23M366.89 137.72A28.60 28.60 0 0 0 366.70 140.54M367.09 145.72A28.60 28.60 0 0 0 367.69 148.47M397.90 169.48A28.60 28.60 0 0 0 400.69 169.09M403.15 168.50A28.60 28.60 0 0 0 405.82 167.60M408.12 166.56A28.60 28.60 0 0 0 410.58 165.18M412.65 163.74A28.60 28.60 0 0 0 414.81 161.91M422.65 132.64A28.60 28.60 0 0 0 421.69 129.99M419.27 125.40A28.60 28.60 0 0 0 417.61 123.11M417.71 123.23A28.60 28.60 0 0 0 415.85 121.10M414.01 119.37A28.60 28.60 0 0 0 411.79 117.63M411.91 117.72A28.60 28.60 0 0 0 409.60 116.23" fill="none" stroke="#cee4e0" stroke-width="1.3"/>
<path d="M376.42 128.57A22.60 22.60 0 0 0 375.29 130.49M373.19 136.33A22.60 22.60 0 0 0 372.84 138.53M372.76 142.63A22.60 22.60 0 0 0 373.03 144.84M375.91 152.61A22.60 22.60 0 0 0 377.15 154.47M388.99 162.70A22.60 22.60 0 0 0 391.16 163.22M397.35 163.51A22.60 22.60 0 0 0 399.56 163.19M405.43 161.20A22.60 22.60 0 0 0 407.37 160.10M407.27 160.17A22.60 22.60 0 0 0 409.10 158.89M410.63 157.61A22.60 22.60 0 0 0 412.19 156.02M417.83 142.75A22.60 22.60 0 0 0 417.89 140.52M417.76 138.53A22.60 22.60 0 0 0 417.41 136.33M413.01 126.96A22.60 22.60 0 0 0 411.54 125.28M383.40 120.39A23.80 23.80 0 0 0 381.48 121.63M376.73 126.11A23.80 23.80 0 0 0 375.35 128.02M373.34 131.83A23.80 23.80 0 0 0 372.54 134.04M371.66 138.27A23.80 23.80 0 0 0 371.50 140.62M371.56 142.72A23.80 23.80 0 0 0 371.85 145.05M372.29 147.10A23.80 23.80 0 0 0 373.01 149.34M373.83 151.27A23.80 23.80 0 0 0 374.95 153.34M374.88 153.23A23.80 23.80 0 0 0 376.19 155.18M386.55 163.13A23.80 23.80 0 0 0 388.77 163.89M397.46 164.70A23.80 23.80 0 0 0 399.79 164.37M405.97 162.27A23.80 23.80 0 0 0 408.02 161.12M409.74 159.92A23.80 23.80 0 0 0 411.53 158.40M413.00 156.91A23.80 23.80 0 0 0 414.49 155.08M417.59 149.34A23.80 23.80 0 0 0 418.31 147.10M418.96 138.40A23.80 23.80 0 0 0 418.59 136.08M418.61 136.20A23.80 23.80 0 0 0 418.02 133.93M418.06 134.04A23.80 23.80 0 0 0 417.26 131.83M413.95 126.21A23.80 23.80 0 0 0 412.40 124.44M370.37 142.80A25.00 25.00 0 0 0 370.66 145.25M370.64 145.12A25.00 25.00 0 0 0 371.17 147.53M372.75 151.79A25.00 25.00 0 0 0 373.92 153.96M378.25 159.28A25.00 25.00 0 0 0 380.13 160.87M381.94 162.13A25.00 25.00 0 0 0 384.09 163.35M388.32 165.00A25.00 25.00 0 0 0 390.72 165.58M418.72 149.76A25.00 25.00 0 0 0 419.47 147.41M420.15 138.27A25.00 25.00 0 0 0 419.76 135.83M419.21 133.69A25.00 25.00 0 0 0 418.37 131.37M416.25 127.36A25.00 25.00 0 0 0 414.80 125.36M414.89 125.46A25.00 25.00 0 0 0 413.26 123.61M413.35 123.70A25.00 25.00 0 0 0 411.56 122.01M369.46 145.32A26.20 26.20 0 0 0 370.01 147.85M370.71 150.05A26.20 26.20 0 0 0 371.72 152.43M387.98 166.16A26.20 26.20 0 0 0 390.50 166.76M395.23 167.20A26.20 26.20 0 0 0 397.81 167.08M413.07 160.25A26.20 26.20 0 0 0 414.88 158.41M416.34 156.61A26.20 26.20 0 0 0 417.78 154.46M418.88 152.43A26.20 26.20 0 0 0 419.89 150.05M420.59 147.85A26.20 26.20 0 0 0 421.14 145.32M421.50 140.58A26.20 26.20 0 0 0 421.33 138.00M421.34 138.13A26.20 26.20 0 0 0 420.93 135.58M418.50 128.82A26.20 26.20 0 0 0 417.18 126.59M414.22 122.87A26.20 26.20 0 0 0 412.34 121.10M377.48 120.18A27.40 27.40 0 0 0 375.52 122.04M367.91 140.42A27.40 27.40 0 0 0 367.98 143.12M368.28 145.52A27.40 27.40 0 0 0 368.85 148.16M370.58 152.82A27.40 27.40 0 0 0 371.87 155.20M373.21 157.21A27.40 27.40 0 0 0 374.92 159.31M376.61 161.04A27.40 27.40 0 0 0 378.68 162.78M400.32 167.94A27.40 27.40 0 0 0 402.95 167.31M407.58 165.49A27.40 27.40 0 0 0 409.94 164.16M409.82 164.24A27.40 27.40 0 0 0 412.04 162.69M422.30 145.66A27.40 27.40 0 0 0 422.63 142.98M411.21 118.70A27.40 27.40 0 0 0 409.00 117.27M381.00 116.23A28.60 28.60 0 0 0 378.69 117.72M376.70 119.27A28.60 28.60 0 0 0 374.65 121.21M374.75 121.10A28.60 28.60 0 0 0 372.89 123.23M367.32 135.09A28.60 28.60 0 0 0 366.87 137.87M366.71 140.39A28.60 28.60 0 0 0 366.79 143.21M367.66 148.33A28.60 28.60 0 0 0 368.51 151.02M368.46 150.88A28.60 28.60 0 0 0 369.56 153.48M377.83 163.64A28.60 28.60 0 0 0 380.15 165.26M382.34 166.50A28.60 28.60 0 0 0 384.92 167.65M384.78 167.60A28.60 28.60 0 0 0 387.45 168.50M400.54 169.12A28.60 28.60 0 0 0 403.29 168.46M405.68 167.65A28.60 28.60 0 0 0 408.26 166.50M414.70 162.02A28.60 28.60 0 0 0 416.68 160.00M418.27 158.04A28.60 28.60 0 0 0 419.84 155.70M423.48 145.86A28.60 28.60 0 0 0 423.83 143.06M423.81 143.21A28.60 28.60 0 0 0 423.89 140.39M423.73 137.87A28.60 28.60 0 0 0 423.28 135.09" fill="none" stroke="#c2dfdb" stroke-width="1.3"/>
<path d="M399.44 163.22A22.60 22.60 0 0 0 401.61 162.70M417.44 136.44A22.60 22.60 0 0 0 416.88 134.28M374.18 156.50A26.20 26.20 0 0 0 375.81 158.51M372.24 157.92A28.60 28.60 0 0 0 374.02 160.11M373.92 160.00A28.60 28.60 0 0 0 375.90 162.02M410.45 165.26A28.60 28.60 0 0 0 412.77 163.64" fill="none" stroke="#88bfbf" stroke-width="1.3"/>
<path d="M409.01 158.97A22.60 22.60 0 0 0 410.72 157.53M412.11 156.10A22.60 22.60 0 0 0 413.52 154.37M382.80 119.35A25.00 25.00 0 0 0 380.78 120.65M399.88 165.58A25.00 25.00 0 0 0 402.28 165.00M413.90 157.71A25.00 25.00 0 0 0 415.45 155.79M395.23 169.60A28.60 28.60 0 0 0 398.04 169.47M422.91 148.47A28.60 28.60 0 0 0 423.51 145.72" fill="none" stroke="#9fccca" stroke-width="1.3"/>
<path d="M414.63 152.71A22.60 22.60 0 0 0 415.69 150.75M416.68 153.96A25.00 25.00 0 0 0 417.85 151.79M372.82 154.46A26.20 26.20 0 0 0 374.26 156.61M414.79 158.51A26.20 26.20 0 0 0 416.42 156.50M380.66 164.16A27.40 27.40 0 0 0 383.02 165.49" fill="none" stroke="#f4eae1" stroke-width="1.3"/>
<path d="M417.11 146.91A22.60 22.60 0 0 0 417.59 144.73M417.90 140.64A22.60 22.60 0 0 0 417.75 138.41M379.07 158.40A23.80 23.80 0 0 0 380.86 159.92M418.27 147.22A23.80 23.80 0 0 0 418.77 144.93M404.37 164.30A25.00 25.00 0 0 0 406.62 163.29M415.38 155.90A25.00 25.00 0 0 0 416.75 153.85M409.82 120.65A25.00 25.00 0 0 0 407.80 119.35M421.12 145.46A26.20 26.20 0 0 0 421.43 142.89M390.14 167.91A27.40 27.40 0 0 0 392.81 168.29M415.68 159.31A27.40 27.40 0 0 0 417.39 157.21M418.73 155.20A27.40 27.40 0 0 0 420.02 152.82M375.79 161.91A28.60 28.60 0 0 0 377.95 163.74M380.02 165.18A28.60 28.60 0 0 0 382.48 166.56M416.58 160.11A28.60 28.60 0 0 0 418.36 157.92M422.09 151.02A28.60 28.60 0 0 0 422.94 148.33M421.75 130.12A28.60 28.60 0 0 0 420.55 127.57" fill="none" stroke="#e7f0eb" stroke-width="1.3"/>
<path d="M417.57 144.84A22.60 22.60 0 0 0 417.84 142.63M416.20 132.41A22.60 22.60 0 0 0 415.25 130.39M375.42 127.91A23.80 23.80 0 0 0 374.23 129.93M383.98 163.29A25.00 25.00 0 0 0 386.23 164.30M419.94 145.25A25.00 25.00 0 0 0 420.23 142.80M418.42 131.49A25.00 25.00 0 0 0 417.37 129.26M423.31 135.23A28.60 28.60 0 0 0 422.61 132.50" fill="none" stroke="#f5ddd3" stroke-width="1.3"/>
<path d="M415.31 130.49A22.60 22.60 0 0 0 414.18 128.57M416.37 129.93A23.80 23.80 0 0 0 415.18 127.91M415.95 121.21A28.60 28.60 0 0 0 413.90 119.27" fill="none" stroke="#f1bbad" stroke-width="1.3"/>
<path d="M384.52 162.22A23.80 23.80 0 0 0 386.66 163.18M374.42 127.25A25.00 25.00 0 0 0 373.17 129.38M417.43 129.38A25.00 25.00 0 0 0 416.18 127.25M417.71 154.58A26.20 26.20 0 0 0 418.94 152.31M422.14 135.47A27.40 27.40 0 0 0 421.46 132.86M419.76 155.82A28.60 28.60 0 0 0 421.10 153.34" fill="none" stroke="#f6d1c4" stroke-width="1.3"/>
<path d="M419.79 135.96A25.00 25.00 0 0 0 419.17 133.57" fill="none" stroke="#5ca5a8" stroke-width="1.3"/>
<path d="M350.90 64.10A88.8 88.8 0 1 0 439.70 64.10L411.08 113.68A31.55 31.55 0 1 1 379.53 113.68Z" fill="none" stroke="#3a3a3a" stroke-width="0.6"/>
<path d="M380.65 115.63A29.3 29.3 0 1 0 409.95 115.63L406.25 122.03A21.9 21.9 0 1 1 384.35 122.03Z" fill="none" stroke="#3a3a3a" stroke-width="0.6"/>
<path d="M348.78 60.42A93.05 93.05 0 0 0 341.26 65.25" fill="none" stroke="#f13a18" stroke-width="3.60"/>
<path d="M341.65 64.97A93.05 93.05 0 0 0 334.42 70.63" fill="none" stroke="#f13c1a" stroke-width="3.60"/>
<path d="M334.79 70.31A93.05 93.05 0 0 0 328.12 76.62" fill="none" stroke="#f13f1d" stroke-width="3.60"/>
<path d="M328.45 76.27A93.05 93.05 0 0 0 322.40 83.17" fill="none" stroke="#f14322" stroke-width="3.60"/>
<path d="M322.70 82.79A93.05 93.05 0 0 0 317.32 90.23" fill="none" stroke="#f24827" stroke-width="3.60"/>
<path d="M317.59 89.83A93.05 93.05 0 0 0 312.92 97.74" fill="none" stroke="#f24d2d" stroke-width="3.60"/>
<path d="M313.15 97.31A93.05 93.05 0 0 0 309.24 105.62" fill="none" stroke="#f25334" stroke-width="3.60"/>
<path d="M309.43 105.17A93.05 93.05 0 0 0 306.31 113.81" fill="none" stroke="#f35a3c" stroke-width="3.60"/>
<path d="M306.46 113.34A93.05 93.05 0 0 0 304.16 122.23" fill="none" stroke="#f36144" stroke-width="3.60"/>
<path d="M304.26 121.76A93.05 93.05 0 0 0 302.81 130.82" fill="none" stroke="#f3694d" stroke-width="3.60"/>
<path d="M302.86 130.34A93.05 93.05 0 0 0 302.26 139.50" fill="none" stroke="#f47156" stroke-width="3.60"/>
<path d="M302.27 139.02A93.05 93.05 0 0 0 302.53 148.20" fill="none" stroke="#f47a61" stroke-width="3.60"/>
<path d="M302.49 147.71A93.05 93.05 0 0 0 303.61 156.83" fill="none" stroke="#f5846b" stroke-width="3.60"/>
<path d="M303.52 156.35A93.05 93.05 0 0 0 305.48 165.32" fill="none" stroke="#f58e77" stroke-width="3.60"/>
<path d="M305.36 164.85A93.05 93.05 0 0 0 308.15 173.60" fill="none" stroke="#f69983" stroke-width="3.60"/>
<path d="M307.98 173.14A93.05 93.05 0 0 0 311.57 181.59" fill="none" stroke="#f6a590" stroke-width="3.60"/>
<path d="M311.36 181.15A93.05 93.05 0 0 0 315.73 189.23" fill="none" stroke="#f7b19e" stroke-width="3.60"/>
<path d="M315.47 188.81A93.05 93.05 0 0 0 320.58 196.45" fill="none" stroke="#f7bfae" stroke-width="3.60"/>
<path d="M320.29 196.06A93.05 93.05 0 0 0 326.08 203.18" fill="none" stroke="#f8cebe" stroke-width="3.60"/>
<path d="M325.76 202.82A93.05 93.05 0 0 0 332.19 209.38" fill="none" stroke="#f9dfd2" stroke-width="3.60"/>
<path d="M331.83 209.04A93.05 93.05 0 0 0 338.85 214.97" fill="none" stroke="#faf6ec" stroke-width="3.60"/>
<path d="M338.46 214.67A93.05 93.05 0 0 0 346.00 219.92" fill="none" stroke="#e3e8d8" stroke-width="3.60"/>
<path d="M345.59 219.66A93.05 93.05 0 0 0 353.58 224.18" fill="none" stroke="#d4dfcb" stroke-width="3.60"/>
<path d="M353.15 223.96A93.05 93.05 0 0 0 361.53 227.71" fill="none" stroke="#c7d7bf" stroke-width="3.60"/>
<path d="M361.08 227.53A93.05 93.05 0 0 0 369.77 230.48" fill="none" stroke="#bcd0b5" stroke-width="3.60"/>
<path d="M369.31 230.35A93.05 93.05 0 0 0 378.24 232.47" fill="none" stroke="#b1c9ab" stroke-width="3.60"/>
<path d="M377.76 232.38A93.05 93.05 0 0 0 386.86 233.67" fill="none" stroke="#a6c3a2" stroke-width="3.60"/>
<path d="M386.37 233.62A93.05 93.05 0 0 0 395.54 234.05" fill="none" stroke="#9dbd9a" stroke-width="3.60"/>
<path d="M395.06 234.05A93.05 93.05 0 0 0 404.23 233.62" fill="none" stroke="#93b791" stroke-width="3.60"/>
<path d="M403.74 233.67A93.05 93.05 0 0 0 412.84 232.38" fill="none" stroke="#8ab289" stroke-width="3.60"/>
<path d="M412.36 232.47A93.05 93.05 0 0 0 421.29 230.35" fill="none" stroke="#81ac81" stroke-width="3.60"/>
<path d="M420.83 230.48A93.05 93.05 0 0 0 429.52 227.53" fill="none" stroke="#79a77a" stroke-width="3.60"/>
<path d="M429.07 227.71A93.05 93.05 0 0 0 437.45 223.96" fill="none" stroke="#70a273" stroke-width="3.60"/>
<path d="M437.02 224.18A93.05 93.05 0 0 0 445.01 219.66" fill="none" stroke="#689d6b" stroke-width="3.60"/>
<path d="M444.60 219.92A93.05 93.05 0 0 0 452.14 214.67" fill="none" stroke="#609864" stroke-width="3.60"/>
<path d="M451.75 214.97A93.05 93.05 0 0 0 458.77 209.04" fill="none" stroke="#58935d" stroke-width="3.60"/>
<path d="M458.41 209.38A93.05 93.05 0 0 0 464.84 202.82" fill="none" stroke="#518f57" stroke-width="3.60"/>
<path d="M464.52 203.18A93.05 93.05 0 0 0 470.31 196.06" fill="none" stroke="#498a50" stroke-width="3.60"/>
<path d="M470.02 196.45A93.05 93.05 0 0 0 475.13 188.81" fill="none" stroke="#428649" stroke-width="3.60"/>
<path d="M474.87 189.23A93.05 93.05 0 0 0 479.24 181.15" fill="none" stroke="#3a8143" stroke-width="3.60"/>
<path d="M479.03 181.59A93.05 93.05 0 0 0 482.62 173.14" fill="none" stroke="#337d3d" stroke-width="3.60"/>
<path d="M482.45 173.60A93.05 93.05 0 0 0 485.24 164.85" fill="none" stroke="#2c7836" stroke-width="3.60"/>
<path d="M485.12 165.32A93.05 93.05 0 0 0 487.08 156.35" fill="none" stroke="#257430" stroke-width="3.60"/>
<path d="M486.99 156.83A93.05 93.05 0 0 0 488.11 147.71" fill="none" stroke="#1e702a" stroke-width="3.60"/>
<path d="M488.07 148.20A93.05 93.05 0 0 0 488.33 139.02" fill="none" stroke="#1e702a" stroke-width="3.60"/>
<path d="M488.34 139.50A93.05 93.05 0 0 0 487.74 130.34" fill="none" stroke="#1e702a" stroke-width="3.60"/>
<path d="M487.79 130.82A93.05 93.05 0 0 0 486.34 121.76" fill="none" stroke="#1e702a" stroke-width="3.60"/>
<path d="M486.44 122.23A93.05 93.05 0 0 0 484.14 113.34" fill="none" stroke="#1e702a" stroke-width="3.60"/>
<path d="M484.29 113.81A93.05 93.05 0 0 0 481.17 105.17" fill="none" stroke="#1e702a" stroke-width="3.60"/>
<path d="M481.36 105.62A93.05 93.05 0 0 0 477.45 97.31" fill="none" stroke="#1e702a" stroke-width="3.60"/>
<path d="M477.68 97.74A93.05 93.05 0 0 0 473.01 89.83" fill="none" stroke="#1e702a" stroke-width="3.60"/>
<path d="M473.28 90.23A93.05 93.05 0 0 0 467.90 82.79" fill="none" stroke="#1e702a" stroke-width="3.60"/>
<path d="M468.20 83.17A93.05 93.05 0 0 0 462.15 76.27" fill="none" stroke="#1e702a" stroke-width="3.60"/>
<path d="M462.48 76.62A93.05 93.05 0 0 0 455.81 70.31" fill="none" stroke="#1e702a" stroke-width="3.60"/>
<path d="M456.18 70.63A93.05 93.05 0 0 0 448.95 64.97" fill="none" stroke="#1e702a" stroke-width="3.60"/>
<path d="M449.34 65.25A93.05 93.05 0 0 0 441.83 60.42" fill="none" stroke="#1e702a" stroke-width="3.60"/>
<path d="M349.68 61.98A91.25 91.25 0 0 0 342.30 66.72M347.88 58.86A94.85 94.85 0 0 0 340.21 63.79" fill="none" stroke="#823021" stroke-width="0.55"/>
<path d="M342.69 66.44A91.25 91.25 0 0 0 335.60 71.99M340.62 63.50A94.85 94.85 0 0 0 333.24 69.27" fill="none" stroke="#823122" stroke-width="0.55"/>
<path d="M335.96 71.68A91.25 91.25 0 0 0 329.42 77.87M333.62 68.94A94.85 94.85 0 0 0 326.82 75.38" fill="none" stroke="#833223" stroke-width="0.55"/>
<path d="M329.75 77.52A91.25 91.25 0 0 0 323.81 84.29M327.16 75.02A94.85 94.85 0 0 0 320.99 82.06" fill="none" stroke="#833425" stroke-width="0.55"/>
<path d="M324.11 83.92A91.25 91.25 0 0 0 318.83 91.22M321.30 81.67A94.85 94.85 0 0 0 315.81 89.25" fill="none" stroke="#833628" stroke-width="0.55"/>
<path d="M319.09 90.82A91.25 91.25 0 0 0 314.51 98.57M316.08 88.84A94.85 94.85 0 0 0 311.33 96.90" fill="none" stroke="#83392a" stroke-width="0.55"/>
<path d="M314.74 98.15A91.25 91.25 0 0 0 310.90 106.30M311.56 96.46A94.85 94.85 0 0 0 307.58 104.93" fill="none" stroke="#833b2e" stroke-width="0.55"/>
<path d="M311.09 105.86A91.25 91.25 0 0 0 308.03 114.33M307.77 104.47A94.85 94.85 0 0 0 304.59 113.28" fill="none" stroke="#833e31" stroke-width="0.55"/>
<path d="M308.17 113.88A91.25 91.25 0 0 0 305.93 122.60M304.74 112.81A94.85 94.85 0 0 0 302.40 121.87" fill="none" stroke="#834235" stroke-width="0.55"/>
<path d="M306.02 122.13A91.25 91.25 0 0 0 304.60 131.02M302.50 121.38A94.85 94.85 0 0 0 301.02 130.63" fill="none" stroke="#834539" stroke-width="0.55"/>
<path d="M304.65 130.55A91.25 91.25 0 0 0 304.06 139.53M301.07 130.13A94.85 94.85 0 0 0 300.46 139.47" fill="none" stroke="#84493d" stroke-width="0.55"/>
<path d="M304.07 139.05A91.25 91.25 0 0 0 304.32 148.06M300.47 138.98A94.85 94.85 0 0 0 300.73 148.34" fill="none" stroke="#844d41" stroke-width="0.55"/>
<path d="M304.29 147.58A91.25 91.25 0 0 0 305.38 156.52M300.70 147.84A94.85 94.85 0 0 0 301.83 157.13" fill="none" stroke="#845146" stroke-width="0.55"/>
<path d="M305.30 156.05A91.25 91.25 0 0 0 307.22 164.85M301.75 156.64A94.85 94.85 0 0 0 303.75 165.79" fill="none" stroke="#84564c" stroke-width="0.55"/>
<path d="M307.10 164.39A91.25 91.25 0 0 0 309.83 172.97M303.62 165.31A94.85 94.85 0 0 0 306.46 174.23" fill="none" stroke="#845b51" stroke-width="0.55"/>
<path d="M309.67 172.52A91.25 91.25 0 0 0 313.19 180.81M306.29 173.76A94.85 94.85 0 0 0 309.95 182.38" fill="none" stroke="#856057" stroke-width="0.55"/>
<path d="M312.98 180.38A91.25 91.25 0 0 0 317.27 188.30M309.74 181.93A94.85 94.85 0 0 0 314.19 190.17" fill="none" stroke="#85665d" stroke-width="0.55"/>
<path d="M317.02 187.89A91.25 91.25 0 0 0 322.02 195.38M313.93 189.74A94.85 94.85 0 0 0 319.13 197.52" fill="none" stroke="#856c64" stroke-width="0.55"/>
<path d="M321.74 194.99A91.25 91.25 0 0 0 327.42 201.98M318.84 197.12A94.85 94.85 0 0 0 324.74 204.39" fill="none" stroke="#86736c" stroke-width="0.55"/>
<path d="M327.10 201.63A91.25 91.25 0 0 0 333.41 208.05M324.41 204.02A94.85 94.85 0 0 0 330.97 210.70" fill="none" stroke="#867a74" stroke-width="0.55"/>
<path d="M333.06 207.73A91.25 91.25 0 0 0 339.94 213.54M330.60 210.36A94.85 94.85 0 0 0 337.76 216.40" fill="none" stroke="#868580" stroke-width="0.55"/>
<path d="M339.56 213.25A91.25 91.25 0 0 0 346.95 218.39M337.36 216.10A94.85 94.85 0 0 0 345.05 221.44" fill="none" stroke="#7c7e77" stroke-width="0.55"/>
<path d="M346.55 218.14A91.25 91.25 0 0 0 354.39 222.57M344.63 221.18A94.85 94.85 0 0 0 352.78 225.78" fill="none" stroke="#757a71" stroke-width="0.55"/>
<path d="M353.96 222.35A91.25 91.25 0 0 0 362.19 226.03M352.33 225.56A94.85 94.85 0 0 0 360.88 229.38" fill="none" stroke="#70776c" stroke-width="0.55"/>
<path d="M361.74 225.85A91.25 91.25 0 0 0 370.27 228.75M360.42 229.20A94.85 94.85 0 0 0 369.28 232.21" fill="none" stroke="#6a7467" stroke-width="0.55"/>
<path d="M369.81 228.62A91.25 91.25 0 0 0 378.57 230.70M368.80 232.07A94.85 94.85 0 0 0 377.91 234.24" fill="none" stroke="#667163" stroke-width="0.55"/>
<path d="M378.10 230.61A91.25 91.25 0 0 0 387.02 231.87M377.42 234.15A94.85 94.85 0 0 0 386.69 235.46" fill="none" stroke="#616e5f" stroke-width="0.55"/>
<path d="M386.54 231.83A91.25 91.25 0 0 0 395.54 232.25M386.20 235.41A94.85 94.85 0 0 0 395.55 235.85" fill="none" stroke="#5c6b5b" stroke-width="0.55"/>
<path d="M395.06 232.25A91.25 91.25 0 0 0 404.06 231.83M395.05 235.85A94.85 94.85 0 0 0 404.40 235.41" fill="none" stroke="#586957" stroke-width="0.55"/>
<path d="M403.58 231.87A91.25 91.25 0 0 0 412.50 230.61M403.91 235.46A94.85 94.85 0 0 0 413.18 234.15" fill="none" stroke="#546654" stroke-width="0.55"/>
<path d="M412.03 230.70A91.25 91.25 0 0 0 420.79 228.62M412.69 234.24A94.85 94.85 0 0 0 421.80 232.07" fill="none" stroke="#506450" stroke-width="0.55"/>
<path d="M420.33 228.75A91.25 91.25 0 0 0 428.86 225.85M421.32 232.21A94.85 94.85 0 0 0 430.18 229.20" fill="none" stroke="#4c614d" stroke-width="0.55"/>
<path d="M428.41 226.03A91.25 91.25 0 0 0 436.64 222.35M429.72 229.38A94.85 94.85 0 0 0 438.27 225.56" fill="none" stroke="#495f4a" stroke-width="0.55"/>
<path d="M436.21 222.57A91.25 91.25 0 0 0 444.05 218.14M437.82 225.78A94.85 94.85 0 0 0 445.97 221.18" fill="none" stroke="#455d46" stroke-width="0.55"/>
<path d="M443.65 218.39A91.25 91.25 0 0 0 451.04 213.25M445.55 221.44A94.85 94.85 0 0 0 453.24 216.10" fill="none" stroke="#415b43" stroke-width="0.55"/>
<path d="M450.66 213.54A91.25 91.25 0 0 0 457.54 207.73M452.84 216.40A94.85 94.85 0 0 0 460.00 210.36" fill="none" stroke="#3e5840" stroke-width="0.55"/>
<path d="M457.19 208.05A91.25 91.25 0 0 0 463.50 201.63M459.63 210.70A94.85 94.85 0 0 0 466.19 204.02" fill="none" stroke="#3a563d" stroke-width="0.55"/>
<path d="M463.18 201.98A91.25 91.25 0 0 0 468.86 194.99M465.86 204.39A94.85 94.85 0 0 0 471.76 197.12" fill="none" stroke="#37543a" stroke-width="0.55"/>
<path d="M468.58 195.38A91.25 91.25 0 0 0 473.58 187.89M471.47 197.52A94.85 94.85 0 0 0 476.67 189.74" fill="none" stroke="#345237" stroke-width="0.55"/>
<path d="M473.33 188.30A91.25 91.25 0 0 0 477.62 180.38M476.41 190.17A94.85 94.85 0 0 0 480.86 181.93" fill="none" stroke="#305034" stroke-width="0.55"/>
<path d="M477.41 180.81A91.25 91.25 0 0 0 480.93 172.52M480.65 182.38A94.85 94.85 0 0 0 484.31 173.76" fill="none" stroke="#2d4e31" stroke-width="0.55"/>
<path d="M480.77 172.97A91.25 91.25 0 0 0 483.50 164.39M484.14 174.23A94.85 94.85 0 0 0 486.98 165.31" fill="none" stroke="#2a4c2e" stroke-width="0.55"/>
<path d="M483.38 164.85A91.25 91.25 0 0 0 485.30 156.05M486.85 165.79A94.85 94.85 0 0 0 488.85 156.64" fill="none" stroke="#274a2c" stroke-width="0.55"/>
<path d="M485.22 156.52A91.25 91.25 0 0 0 486.31 147.58M488.77 157.13A94.85 94.85 0 0 0 489.90 147.84" fill="none" stroke="#244829" stroke-width="0.55"/>
<path d="M486.28 148.06A91.25 91.25 0 0 0 486.53 139.05M489.87 148.34A94.85 94.85 0 0 0 490.13 138.98" fill="none" stroke="#244829" stroke-width="0.55"/>
<path d="M486.54 139.53A91.25 91.25 0 0 0 485.95 130.55M490.14 139.47A94.85 94.85 0 0 0 489.53 130.13" fill="none" stroke="#244829" stroke-width="0.55"/>
<path d="M486.00 131.02A91.25 91.25 0 0 0 484.58 122.13M489.58 130.63A94.85 94.85 0 0 0 488.10 121.38" fill="none" stroke="#244829" stroke-width="0.55"/>
<path d="M484.67 122.60A91.25 91.25 0 0 0 482.43 113.88M488.20 121.87A94.85 94.85 0 0 0 485.86 112.81" fill="none" stroke="#244829" stroke-width="0.55"/>
<path d="M482.57 114.33A91.25 91.25 0 0 0 479.51 105.86M486.01 113.28A94.85 94.85 0 0 0 482.83 104.47" fill="none" stroke="#244829" stroke-width="0.55"/>
<path d="M479.70 106.30A91.25 91.25 0 0 0 475.86 98.15M483.02 104.93A94.85 94.85 0 0 0 479.04 96.46" fill="none" stroke="#244829" stroke-width="0.55"/>
<path d="M476.09 98.57A91.25 91.25 0 0 0 471.51 90.82M479.27 96.90A94.85 94.85 0 0 0 474.52 88.84" fill="none" stroke="#244829" stroke-width="0.55"/>
<path d="M471.77 91.22A91.25 91.25 0 0 0 466.49 83.92M474.79 89.25A94.85 94.85 0 0 0 469.30 81.67" fill="none" stroke="#244829" stroke-width="0.55"/>
<path d="M466.79 84.29A91.25 91.25 0 0 0 460.85 77.52M469.61 82.06A94.85 94.85 0 0 0 463.44 75.02" fill="none" stroke="#244829" stroke-width="0.55"/>
<path d="M461.18 77.87A91.25 91.25 0 0 0 454.64 71.68M463.78 75.38A94.85 94.85 0 0 0 456.98 68.94" fill="none" stroke="#244829" stroke-width="0.55"/>
<path d="M455.00 71.99A91.25 91.25 0 0 0 447.91 66.44M457.36 69.27A94.85 94.85 0 0 0 449.98 63.50" fill="none" stroke="#244829" stroke-width="0.55"/>
<path d="M448.30 66.72A91.25 91.25 0 0 0 440.93 61.98M450.39 63.79A94.85 94.85 0 0 0 442.73 58.86" fill="none" stroke="#244829" stroke-width="0.55"/>
<text class="sa" transform="translate(342.77 59.10) rotate(57.3)" y="1.75" font-size="5.0" text-anchor="end" fill="#2a2a2a">IL2RB</text>
<text class="sa" transform="translate(335.35 64.36) rotate(52.0)" y="1.75" font-size="5.0" text-anchor="end" fill="#2a2a2a">CXCL17</text>
<text class="sa" transform="translate(328.46 70.30) rotate(46.6)" y="1.75" font-size="5.0" text-anchor="end" fill="#2a2a2a">PSMB9</text>
<text class="sa" transform="translate(322.15 76.85) rotate(41.2)" y="1.75" font-size="5.0" text-anchor="end" fill="#2a2a2a">IFIT2</text>
<text class="sa" transform="translate(316.48 83.96) rotate(35.9)" y="1.75" font-size="5.0" text-anchor="end" fill="#2a2a2a">IL22RA1</text>
<text class="sa" transform="translate(311.49 91.56) rotate(30.5)" y="1.75" font-size="5.0" text-anchor="end" fill="#2a2a2a">CD3G</text>
<text class="sa" transform="translate(307.24 99.60) rotate(25.2)" y="1.75" font-size="5.0" text-anchor="end" fill="#2a2a2a">PAK1</text>
<text class="sa" transform="translate(303.76 108.01) rotate(19.8)" y="1.75" font-size="5.0" text-anchor="end" fill="#2a2a2a">NT5E</text>
<text class="sa" transform="translate(301.08 116.70) rotate(14.5)" y="1.75" font-size="5.0" text-anchor="end" fill="#2a2a2a">HLA-F</text>
<text class="sa" transform="translate(299.23 125.60) rotate(9.1)" y="1.75" font-size="5.0" text-anchor="end" fill="#2a2a2a">IL2RB</text>
<text class="sa" transform="translate(298.21 134.64) rotate(3.8)" y="1.75" font-size="5.0" text-anchor="end" fill="#2a2a2a">NOS2</text>
<text class="sa" transform="translate(298.04 143.73) rotate(358.4)" y="1.75" font-size="5.0" text-anchor="end" fill="#2a2a2a">IFIT5</text>
<text class="sa" transform="translate(298.72 152.80) rotate(353.0)" y="1.75" font-size="5.0" text-anchor="end" fill="#2a2a2a">EIF4A1</text>
<text class="sa" transform="translate(300.24 161.76) rotate(347.7)" y="1.75" font-size="5.0" text-anchor="end" fill="#2a2a2a">CXCL3</text>
<text class="sa" transform="translate(302.59 170.55) rotate(342.3)" y="1.75" font-size="5.0" text-anchor="end" fill="#2a2a2a">P2RX4</text>
<text class="sa" transform="translate(305.76 179.07) rotate(337.0)" y="1.75" font-size="5.0" text-anchor="end" fill="#2a2a2a">IFNG</text>
<text class="sa" transform="translate(309.70 187.27) rotate(331.6)" y="1.75" font-size="5.0" text-anchor="end" fill="#2a2a2a">TRIM38</text>
<text class="sa" transform="translate(314.40 195.06) rotate(326.2)" y="1.75" font-size="5.0" text-anchor="end" fill="#2a2a2a">TRIM48</text>
<text class="sa" transform="translate(319.80 202.37) rotate(320.9)" y="1.75" font-size="5.0" text-anchor="end" fill="#2a2a2a">PRR5</text>
<text class="sa" transform="translate(325.86 209.16) rotate(315.5)" y="1.75" font-size="5.0" text-anchor="end" fill="#2a2a2a">CXCL10</text>
<text class="sa" transform="translate(332.52 215.34) rotate(310.2)" y="1.75" font-size="5.0" text-anchor="end" fill="#2a2a2a">TGFB3</text>
<text class="sa" transform="translate(339.74 220.88) rotate(304.8)" y="1.75" font-size="5.0" text-anchor="end" fill="#2a2a2a">IL12B</text>
<text class="sa" transform="translate(347.44 225.72) rotate(299.5)" y="1.75" font-size="5.0" text-anchor="end" fill="#2a2a2a">HSP90AB1</text>
<text class="sa" transform="translate(355.56 229.81) rotate(294.1)" y="1.75" font-size="5.0" text-anchor="end" fill="#2a2a2a">IFNA1</text>
<text class="sa" transform="translate(364.02 233.14) rotate(288.8)" y="1.75" font-size="5.0" text-anchor="end" fill="#2a2a2a">BMP8B</text>
<text class="sa" transform="translate(372.76 235.65) rotate(283.4)" y="1.75" font-size="5.0" text-anchor="end" fill="#2a2a2a">CTF1</text>
<text class="sa" transform="translate(381.70 237.34) rotate(278.0)" y="1.75" font-size="5.0" text-anchor="end" fill="#2a2a2a">LCK</text>
<text class="sa" transform="translate(390.75 238.19) rotate(92.7)" y="1.75" font-size="5.0" text-anchor="start" fill="#2a2a2a">GBP4</text>
<text class="sa" transform="translate(399.85 238.19) rotate(87.3)" y="1.75" font-size="5.0" text-anchor="start" fill="#2a2a2a">MAPK8</text>
<text class="sa" transform="translate(408.90 237.34) rotate(82.0)" y="1.75" font-size="5.0" text-anchor="start" fill="#2a2a2a">CXCL6</text>
<text class="sa" transform="translate(417.84 235.65) rotate(76.6)" y="1.75" font-size="5.0" text-anchor="start" fill="#2a2a2a">TRIM34</text>
<text class="sa" transform="translate(426.58 233.14) rotate(71.3)" y="1.75" font-size="5.0" text-anchor="start" fill="#2a2a2a">IL19</text>
<text class="sa" transform="translate(435.04 229.81) rotate(65.9)" y="1.75" font-size="5.0" text-anchor="start" fill="#2a2a2a">CAMK2G</text>
<text class="sa" transform="translate(443.16 225.72) rotate(60.5)" y="1.75" font-size="5.0" text-anchor="start" fill="#2a2a2a">TRIM22</text>
<text class="sa" transform="translate(450.86 220.88) rotate(55.2)" y="1.75" font-size="5.0" text-anchor="start" fill="#2a2a2a">IL1A</text>
<text class="sa" transform="translate(458.08 215.34) rotate(49.8)" y="1.75" font-size="5.0" text-anchor="start" fill="#2a2a2a">GBP5</text>
<text class="sa" transform="translate(464.74 209.16) rotate(44.5)" y="1.75" font-size="5.0" text-anchor="start" fill="#2a2a2a">EDA2R</text>
<text class="sa" transform="translate(470.80 202.37) rotate(39.1)" y="1.75" font-size="5.0" text-anchor="start" fill="#2a2a2a">HLX</text>
<text class="sa" transform="translate(476.20 195.06) rotate(33.8)" y="1.75" font-size="5.0" text-anchor="start" fill="#2a2a2a">DDX58</text>
<text class="sa" transform="translate(480.90 187.27) rotate(28.4)" y="1.75" font-size="5.0" text-anchor="start" fill="#2a2a2a">IL17RE</text>
<text class="sa" transform="translate(484.84 179.07) rotate(23.0)" y="1.75" font-size="5.0" text-anchor="start" fill="#2a2a2a">ETV5</text>
<text class="sa" transform="translate(488.01 170.55) rotate(17.7)" y="1.75" font-size="5.0" text-anchor="start" fill="#2a2a2a">MID1</text>
<text class="sa" transform="translate(490.36 161.76) rotate(12.3)" y="1.75" font-size="5.0" text-anchor="start" fill="#2a2a2a">PIK3R1</text>
<text class="sa" transform="translate(491.88 152.80) rotate(7.0)" y="1.75" font-size="5.0" text-anchor="start" fill="#2a2a2a">ACVR1B</text>
<text class="sa" transform="translate(492.56 143.73) rotate(1.6)" y="1.75" font-size="5.0" text-anchor="start" fill="#2a2a2a">BMPR1A</text>
<text class="sa" transform="translate(492.39 134.64) rotate(-3.8)" y="1.75" font-size="5.0" text-anchor="start" fill="#2a2a2a">IL25</text>
<text class="sa" transform="translate(491.37 125.60) rotate(-9.1)" y="1.75" font-size="5.0" text-anchor="start" fill="#2a2a2a">CXCL13</text>
<text class="sa" transform="translate(489.52 116.70) rotate(-14.5)" y="1.75" font-size="5.0" text-anchor="start" fill="#2a2a2a">GBP1</text>
<text class="sa" transform="translate(486.84 108.01) rotate(-19.8)" y="1.75" font-size="5.0" text-anchor="start" fill="#2a2a2a">TRIM14</text>
<text class="sa" transform="translate(483.36 99.60) rotate(-25.2)" y="1.75" font-size="5.0" text-anchor="start" fill="#2a2a2a">GDF10</text>
<text class="sa" transform="translate(479.11 91.56) rotate(-30.5)" y="1.75" font-size="5.0" text-anchor="start" fill="#2a2a2a">IFNA21</text>
<text class="sa" transform="translate(474.12 83.96) rotate(-35.9)" y="1.75" font-size="5.0" text-anchor="start" fill="#2a2a2a">PAK3</text>
<text class="sa" transform="translate(468.45 76.85) rotate(-41.3)" y="1.75" font-size="5.0" text-anchor="start" fill="#2a2a2a">IL2</text>
<text class="sa" transform="translate(462.14 70.30) rotate(-46.6)" y="1.75" font-size="5.0" text-anchor="start" fill="#2a2a2a">CCL28</text>
<text class="sa" transform="translate(455.25 64.36) rotate(-52.0)" y="1.75" font-size="5.0" text-anchor="start" fill="#2a2a2a">GHR</text>
<text class="sa" transform="translate(447.83 59.10) rotate(-57.3)" y="1.75" font-size="5.0" text-anchor="start" fill="#2a2a2a">IL1RL2</text>
<defs><linearGradient id="gE" x1="0" y1="0" x2="0" y2="1"><stop offset="0" stop-color="#8a1717"/><stop offset="0.25" stop-color="#c9645a"/><stop offset="0.5" stop-color="#f6f4ec"/><stop offset="0.75" stop-color="#9fcdca"/><stop offset="1" stop-color="#2f8c92"/></linearGradient><linearGradient id="gP" x1="0" y1="0" x2="0" y2="1"><stop offset="0" stop-color="#e9161f"/><stop offset="0.33" stop-color="#f0645f"/><stop offset="0.667" stop-color="#fbf8ee"/><stop offset="0.83" stop-color="#86b87f"/><stop offset="1" stop-color="#1c6a2b"/></linearGradient></defs>
<text class="sa" x="516.2" y="166.9" font-size="5.55" font-weight="bold" fill="#111">Expression</text>
<rect x="516" y="170" width="7.6" height="34" fill="url(#gE)"/>
<text class="sa" x="525.3" y="173.9" font-size="5.2" font-weight="bold" fill="#222">2</text>
<text class="sa" x="525.3" y="181.5" font-size="5.2" font-weight="bold" fill="#222">1</text>
<text class="sa" x="525.3" y="189.1" font-size="5.2" font-weight="bold" fill="#222">0</text>
<text class="sa" x="525.3" y="196.6" font-size="5.2" font-weight="bold" fill="#222">−1</text>
<text class="sa" x="525.3" y="204.2" font-size="5.2" font-weight="bold" fill="#222">−2</text>
<text class="sa" x="516.2" y="214.5" font-size="5.55" font-weight="bold" fill="#111"><tspan font-style="italic">p</tspan> (ttest)</text>
<rect x="516" y="217.2" width="7.6" height="33.6" fill="url(#gP)"/>
<text class="sa" x="525.3" y="220.7" font-size="5.2" font-weight="bold" fill="#222">0.06</text>
<text class="sa" x="525.3" y="230.8" font-size="5.2" font-weight="bold" fill="#222">0.04</text>
<text class="sa" x="525.3" y="241.0" font-size="5.2" font-weight="bold" fill="#222">0.02</text>
<text class="sa" x="525.3" y="251.3" font-size="5.2" font-weight="bold" fill="#222">0</text>
</g>
<g id="panelC">
<text class="se" x="6.8" y="340.4" font-size="19" fill="#111">C</text>
<rect x="61.6" y="334.4" width="36.8" height="71.8" fill="#ebebeb"/>
<line x1="61.6" y1="336.4" x2="98.4" y2="336.4" stroke="#fafafa" stroke-width="0.5"/>
<line x1="61.6" y1="357.4" x2="98.4" y2="357.4" stroke="#fafafa" stroke-width="0.5"/>
<line x1="61.6" y1="378.0" x2="98.4" y2="378.0" stroke="#fafafa" stroke-width="0.5"/>
<line x1="61.6" y1="398.6" x2="98.4" y2="398.6" stroke="#fafafa" stroke-width="0.5"/>
<line x1="61.6" y1="346.9" x2="98.4" y2="346.9" stroke="#f3f3f3" stroke-width="0.3"/>
<line x1="61.6" y1="367.9" x2="98.4" y2="367.9" stroke="#f3f3f3" stroke-width="0.3"/>
<line x1="61.6" y1="388.5" x2="98.4" y2="388.5" stroke="#f3f3f3" stroke-width="0.3"/>
<line x1="80.0" y1="334.4" x2="80.0" y2="406.2" stroke="#f8f8f8" stroke-width="0.5"/>
<text class="sa" x="80.0" y="333.1" font-size="4.7" text-anchor="middle" fill="#1c1c1c">CCL28</text>
<text class="sa" x="59.4" y="337.7" font-size="3.5" text-anchor="end" fill="#444">8</text>
<line x1="60.4" y1="336.4" x2="61.6" y2="336.4" stroke="#444" stroke-width="0.4"/>
<text class="sa" x="59.4" y="358.7" font-size="3.5" text-anchor="end" fill="#444">6</text>
<line x1="60.4" y1="357.4" x2="61.6" y2="357.4" stroke="#444" stroke-width="0.4"/>
<text class="sa" x="59.4" y="379.3" font-size="3.5" text-anchor="end" fill="#444">4</text>
<line x1="60.4" y1="378.0" x2="61.6" y2="378.0" stroke="#444" stroke-width="0.4"/>
<text class="sa" x="59.4" y="399.9" font-size="3.5" text-anchor="end" fill="#444">2</text>
<line x1="60.4" y1="398.6" x2="61.6" y2="398.6" stroke="#444" stroke-width="0.4"/>
<path d="M74.5 339.0V352.0M74.5 363.4V378.0" stroke="#3c3c3c" stroke-width="0.58" fill="none"/>
<rect x="69.0" y="352.0" width="11.0" height="11.4" fill="#8abf86" stroke="#3c3c3c" stroke-width="0.45"/>
<line x1="69.0" y1="357.6" x2="80.0" y2="357.6" stroke="#2e2e2e" stroke-width="1.05"/>
<circle cx="74.6" cy="381.6" r="0.95" fill="#111"/>
<circle cx="74.6" cy="403.0" r="0.95" fill="#111"/>
<path d="M85.9 354.4V363.0M85.9 377.0V392.4" stroke="#3c3c3c" stroke-width="0.58" fill="none"/>
<rect x="80.4" y="363.0" width="11.0" height="14.0" fill="#f29370" stroke="#3c3c3c" stroke-width="0.45"/>
<line x1="80.4" y1="368.6" x2="91.4" y2="368.6" stroke="#2e2e2e" stroke-width="1.05"/>
<circle cx="86.0" cy="403.0" r="0.95" fill="#111"/>
<text class="sa" x="80.8" y="340.8" font-size="5" font-weight="bold" text-anchor="middle" fill="#2a2a2a" letter-spacing="-0.3">****</text>
<rect x="108.0" y="334.4" width="36.4" height="71.8" fill="#ebebeb"/>
<line x1="108.0" y1="336.4" x2="144.4" y2="336.4" stroke="#fafafa" stroke-width="0.5"/>
<line x1="108.0" y1="351.6" x2="144.4" y2="351.6" stroke="#fafafa" stroke-width="0.5"/>
<line x1="108.0" y1="367.0" x2="144.4" y2="367.0" stroke="#fafafa" stroke-width="0.5"/>
<line x1="108.0" y1="382.2" x2="144.4" y2="382.2" stroke="#fafafa" stroke-width="0.5"/>
<line x1="108.0" y1="397.4" x2="144.4" y2="397.4" stroke="#fafafa" stroke-width="0.5"/>
<line x1="108.0" y1="344.0" x2="144.4" y2="344.0" stroke="#f3f3f3" stroke-width="0.3"/>
<line x1="108.0" y1="359.2" x2="144.4" y2="359.2" stroke="#f3f3f3" stroke-width="0.3"/>
<line x1="108.0" y1="374.6" x2="144.4" y2="374.6" stroke="#f3f3f3" stroke-width="0.3"/>
<line x1="108.0" y1="389.8" x2="144.4" y2="389.8" stroke="#f3f3f3" stroke-width="0.3"/>
<line x1="108.0" y1="405.0" x2="144.4" y2="405.0" stroke="#f3f3f3" stroke-width="0.3"/>
<line x1="126.2" y1="334.4" x2="126.2" y2="406.2" stroke="#f8f8f8" stroke-width="0.5"/>
<text class="sa" x="126.0" y="333.1" font-size="4.7" text-anchor="middle" fill="#1c1c1c">CCRL1</text>
<text class="sa" x="105.8" y="337.7" font-size="3.5" text-anchor="end" fill="#444">6</text>
<line x1="106.8" y1="336.4" x2="108.0" y2="336.4" stroke="#444" stroke-width="0.4"/>
<text class="sa" x="105.8" y="352.9" font-size="3.5" text-anchor="end" fill="#444">5</text>
<line x1="106.8" y1="351.6" x2="108.0" y2="351.6" stroke="#444" stroke-width="0.4"/>
<text class="sa" x="105.8" y="368.3" font-size="3.5" text-anchor="end" fill="#444">4</text>
<line x1="106.8" y1="367.0" x2="108.0" y2="367.0" stroke="#444" stroke-width="0.4"/>
<text class="sa" x="105.8" y="383.5" font-size="3.5" text-anchor="end" fill="#444">3</text>
<line x1="106.8" y1="382.2" x2="108.0" y2="382.2" stroke="#444" stroke-width="0.4"/>
<text class="sa" x="105.8" y="398.7" font-size="3.5" text-anchor="end" fill="#444">2</text>
<line x1="106.8" y1="397.4" x2="108.0" y2="397.4" stroke="#444" stroke-width="0.4"/>
<path d="M120.7 338.6V360.0M120.7 382.8V402.6" stroke="#3c3c3c" stroke-width="0.58" fill="none"/>
<rect x="115.4" y="360.0" width="10.6" height="22.8" fill="#8abf86" stroke="#3c3c3c" stroke-width="0.45"/>
<line x1="115.4" y1="372.0" x2="126.0" y2="372.0" stroke="#2e2e2e" stroke-width="1.05"/>
<path d="M131.9 364.4V370.4M131.9 384.6V397.4" stroke="#3c3c3c" stroke-width="0.58" fill="none"/>
<rect x="126.4" y="370.4" width="11.0" height="14.2" fill="#f29370" stroke="#3c3c3c" stroke-width="0.45"/>
<line x1="126.4" y1="371.8" x2="137.4" y2="371.8" stroke="#2e2e2e" stroke-width="1.05"/>
<text class="sa" x="127.6" y="340.8" font-size="5" font-weight="bold" text-anchor="middle" fill="#2a2a2a" letter-spacing="-0.3">**</text>
<rect x="153.6" y="334.4" width="36.4" height="71.8" fill="#ebebeb"/>
<line x1="153.6" y1="342.4" x2="190.0" y2="342.4" stroke="#fafafa" stroke-width="0.5"/>
<line x1="153.6" y1="359.0" x2="190.0" y2="359.0" stroke="#fafafa" stroke-width="0.5"/>
<line x1="153.6" y1="375.6" x2="190.0" y2="375.6" stroke="#fafafa" stroke-width="0.5"/>
<line x1="153.6" y1="392.4" x2="190.0" y2="392.4" stroke="#fafafa" stroke-width="0.5"/>
<line x1="153.6" y1="350.7" x2="190.0" y2="350.7" stroke="#f3f3f3" stroke-width="0.3"/>
<line x1="153.6" y1="367.3" x2="190.0" y2="367.3" stroke="#f3f3f3" stroke-width="0.3"/>
<line x1="153.6" y1="383.9" x2="190.0" y2="383.9" stroke="#f3f3f3" stroke-width="0.3"/>
<line x1="153.6" y1="400.7" x2="190.0" y2="400.7" stroke="#f3f3f3" stroke-width="0.3"/>
<line x1="171.8" y1="334.4" x2="171.8" y2="406.2" stroke="#f8f8f8" stroke-width="0.5"/>
<text class="sa" x="171.6" y="333.1" font-size="4.7" text-anchor="middle" fill="#1c1c1c">CXCL10</text>
<text class="sa" x="151.4" y="343.7" font-size="3.5" text-anchor="end" fill="#444">12</text>
<line x1="152.4" y1="342.4" x2="153.6" y2="342.4" stroke="#444" stroke-width="0.4"/>
<text class="sa" x="151.4" y="360.3" font-size="3.5" text-anchor="end" fill="#444">10</text>
<line x1="152.4" y1="359.0" x2="153.6" y2="359.0" stroke="#444" stroke-width="0.4"/>
<text class="sa" x="151.4" y="376.9" font-size="3.5" text-anchor="end" fill="#444">8</text>
<line x1="152.4" y1="375.6" x2="153.6" y2="375.6" stroke="#444" stroke-width="0.4"/>
<text class="sa" x="151.4" y="393.7" font-size="3.5" text-anchor="end" fill="#444">6</text>
<line x1="152.4" y1="392.4" x2="153.6" y2="392.4" stroke="#444" stroke-width="0.4"/>
<path d="M166.5 350.0V365.4M166.5 375.6V387.6" stroke="#3c3c3c" stroke-width="0.58" fill="none"/>
<rect x="161.0" y="365.4" width="11.0" height="10.2" fill="#8abf86" stroke="#3c3c3c" stroke-width="0.45"/>
<line x1="161.0" y1="370.0" x2="172.0" y2="370.0" stroke="#2e2e2e" stroke-width="1.05"/>
<circle cx="166.6" cy="338.0" r="0.95" fill="#111"/>
<circle cx="166.6" cy="342.0" r="0.95" fill="#111"/>
<circle cx="166.6" cy="346.0" r="0.95" fill="#111"/>
<circle cx="166.6" cy="399.4" r="0.95" fill="#111"/>
<circle cx="166.6" cy="403.0" r="0.95" fill="#111"/>
<path d="M177.9 365.0V368.0M177.9 381.0V396.6" stroke="#3c3c3c" stroke-width="0.58" fill="none"/>
<rect x="172.4" y="368.0" width="11.0" height="13.0" fill="#f29370" stroke="#3c3c3c" stroke-width="0.45"/>
<line x1="172.4" y1="374.0" x2="183.4" y2="374.0" stroke="#2e2e2e" stroke-width="1.05"/>
<text class="sa" x="173.2" y="340.8" font-size="5" font-weight="bold" text-anchor="middle" fill="#2a2a2a" letter-spacing="-0.3">***</text>
<rect x="199.0" y="334.4" width="36.6" height="71.8" fill="#ebebeb"/>
<line x1="199.0" y1="336.4" x2="235.6" y2="336.4" stroke="#fafafa" stroke-width="0.5"/>
<line x1="199.0" y1="353.0" x2="235.6" y2="353.0" stroke="#fafafa" stroke-width="0.5"/>
<line x1="199.0" y1="369.4" x2="235.6" y2="369.4" stroke="#fafafa" stroke-width="0.5"/>
<line x1="199.0" y1="386.0" x2="235.6" y2="386.0" stroke="#fafafa" stroke-width="0.5"/>
<line x1="199.0" y1="402.4" x2="235.6" y2="402.4" stroke="#fafafa" stroke-width="0.5"/>
<line x1="199.0" y1="344.7" x2="235.6" y2="344.7" stroke="#f3f3f3" stroke-width="0.3"/>
<line x1="199.0" y1="361.3" x2="235.6" y2="361.3" stroke="#f3f3f3" stroke-width="0.3"/>
<line x1="199.0" y1="377.7" x2="235.6" y2="377.7" stroke="#f3f3f3" stroke-width="0.3"/>
<line x1="199.0" y1="394.3" x2="235.6" y2="394.3" stroke="#f3f3f3" stroke-width="0.3"/>
<line x1="217.3" y1="334.4" x2="217.3" y2="406.2" stroke="#f8f8f8" stroke-width="0.5"/>
<text class="sa" x="218.0" y="333.1" font-size="4.7" text-anchor="middle" fill="#1c1c1c">CXCL13</text>
<text class="sa" x="196.8" y="337.7" font-size="3.5" text-anchor="end" fill="#444">12</text>
<line x1="197.8" y1="336.4" x2="199.0" y2="336.4" stroke="#444" stroke-width="0.4"/>
<text class="sa" x="196.8" y="354.3" font-size="3.5" text-anchor="end" fill="#444">9</text>
<line x1="197.8" y1="353.0" x2="199.0" y2="353.0" stroke="#444" stroke-width="0.4"/>
<text class="sa" x="196.8" y="370.7" font-size="3.5" text-anchor="end" fill="#444">6</text>
<line x1="197.8" y1="369.4" x2="199.0" y2="369.4" stroke="#444" stroke-width="0.4"/>
<text class="sa" x="196.8" y="387.3" font-size="3.5" text-anchor="end" fill="#444">3</text>
<line x1="197.8" y1="386.0" x2="199.0" y2="386.0" stroke="#444" stroke-width="0.4"/>
<text class="sa" x="196.8" y="403.7" font-size="3.5" text-anchor="end" fill="#444">0</text>
<line x1="197.8" y1="402.4" x2="199.0" y2="402.4" stroke="#444" stroke-width="0.4"/>
<path d="M211.9 338.6V358.0M211.9 378.6V402.6" stroke="#3c3c3c" stroke-width="0.58" fill="none"/>
<rect x="206.4" y="358.0" width="11.0" height="20.6" fill="#8abf86" stroke="#3c3c3c" stroke-width="0.45"/>
<line x1="206.4" y1="367.0" x2="217.4" y2="367.0" stroke="#2e2e2e" stroke-width="1.05"/>
<path d="M223.5 362.6V374.6M223.5 384.4V386.6" stroke="#3c3c3c" stroke-width="0.58" fill="none"/>
<rect x="218.0" y="374.6" width="11.0" height="9.8" fill="#f29370" stroke="#3c3c3c" stroke-width="0.45"/>
<line x1="218.0" y1="379.6" x2="229.0" y2="379.6" stroke="#2e2e2e" stroke-width="1.05"/>
<text class="sa" x="218.0" y="340.8" font-size="5" font-weight="bold" text-anchor="middle" fill="#2a2a2a" letter-spacing="-0.3">****</text>
<rect x="61.6" y="421.0" width="36.8" height="71.4" fill="#ebebeb"/>
<line x1="61.6" y1="436.4" x2="98.4" y2="436.4" stroke="#fafafa" stroke-width="0.5"/>
<line x1="61.6" y1="455.6" x2="98.4" y2="455.6" stroke="#fafafa" stroke-width="0.5"/>
<line x1="61.6" y1="475.0" x2="98.4" y2="475.0" stroke="#fafafa" stroke-width="0.5"/>
<line x1="61.6" y1="426.8" x2="98.4" y2="426.8" stroke="#f3f3f3" stroke-width="0.3"/>
<line x1="61.6" y1="446.0" x2="98.4" y2="446.0" stroke="#f3f3f3" stroke-width="0.3"/>
<line x1="61.6" y1="465.2" x2="98.4" y2="465.2" stroke="#f3f3f3" stroke-width="0.3"/>
<line x1="61.6" y1="484.6" x2="98.4" y2="484.6" stroke="#f3f3f3" stroke-width="0.3"/>
<line x1="80.0" y1="421.0" x2="80.0" y2="492.4" stroke="#f8f8f8" stroke-width="0.5"/>
<text class="sa" x="80.0" y="417.9" font-size="4.7" text-anchor="middle" fill="#1c1c1c">CXCL17</text>
<text class="sa" x="59.4" y="437.7" font-size="3.5" text-anchor="end" fill="#444">9</text>
<line x1="60.4" y1="436.4" x2="61.6" y2="436.4" stroke="#444" stroke-width="0.4"/>
<text class="sa" x="59.4" y="456.9" font-size="3.5" text-anchor="end" fill="#444">6</text>
<line x1="60.4" y1="455.6" x2="61.6" y2="455.6" stroke="#444" stroke-width="0.4"/>
<text class="sa" x="59.4" y="476.3" font-size="3.5" text-anchor="end" fill="#444">3</text>
<line x1="60.4" y1="475.0" x2="61.6" y2="475.0" stroke="#444" stroke-width="0.4"/>
<path d="M74.5 425.0V441.0M74.5 464.4V487.0" stroke="#3c3c3c" stroke-width="0.58" fill="none"/>
<rect x="69.0" y="441.0" width="11.0" height="23.4" fill="#8abf86" stroke="#3c3c3c" stroke-width="0.45"/>
<line x1="69.0" y1="451.0" x2="80.0" y2="451.0" stroke="#2e2e2e" stroke-width="1.05"/>
<path d="M85.9 442.0V446.4M85.9 464.6V489.4" stroke="#3c3c3c" stroke-width="0.58" fill="none"/>
<rect x="80.4" y="446.4" width="11.0" height="18.2" fill="#f29370" stroke="#3c3c3c" stroke-width="0.45"/>
<line x1="80.4" y1="454.4" x2="91.4" y2="454.4" stroke="#2e2e2e" stroke-width="1.05"/>
<text class="sa" x="80.0" y="427.2" font-size="5" font-weight="bold" text-anchor="middle" fill="#2a2a2a" letter-spacing="-0.3">**</text>
<rect x="108.0" y="421.0" width="36.4" height="71.4" fill="#ebebeb"/>
<line x1="108.0" y1="433.4" x2="144.4" y2="433.4" stroke="#fafafa" stroke-width="0.5"/>
<line x1="108.0" y1="451.6" x2="144.4" y2="451.6" stroke="#fafafa" stroke-width="0.5"/>
<line x1="108.0" y1="470.0" x2="144.4" y2="470.0" stroke="#fafafa" stroke-width="0.5"/>
<line x1="108.0" y1="488.4" x2="144.4" y2="488.4" stroke="#fafafa" stroke-width="0.5"/>
<line x1="108.0" y1="424.3" x2="144.4" y2="424.3" stroke="#f3f3f3" stroke-width="0.3"/>
<line x1="108.0" y1="442.5" x2="144.4" y2="442.5" stroke="#f3f3f3" stroke-width="0.3"/>
<line x1="108.0" y1="460.7" x2="144.4" y2="460.7" stroke="#f3f3f3" stroke-width="0.3"/>
<line x1="108.0" y1="479.1" x2="144.4" y2="479.1" stroke="#f3f3f3" stroke-width="0.3"/>
<line x1="126.2" y1="421.0" x2="126.2" y2="492.4" stroke="#f8f8f8" stroke-width="0.5"/>
<text class="sa" x="126.0" y="417.9" font-size="4.7" text-anchor="middle" fill="#1c1c1c">CXCL3</text>
<text class="sa" x="105.8" y="434.7" font-size="3.5" text-anchor="end" fill="#444">7.5</text>
<line x1="106.8" y1="433.4" x2="108.0" y2="433.4" stroke="#444" stroke-width="0.4"/>
<text class="sa" x="105.8" y="452.9" font-size="3.5" text-anchor="end" fill="#444">5.0</text>
<line x1="106.8" y1="451.6" x2="108.0" y2="451.6" stroke="#444" stroke-width="0.4"/>
<text class="sa" x="105.8" y="471.3" font-size="3.5" text-anchor="end" fill="#444">2.5</text>
<line x1="106.8" y1="470.0" x2="108.0" y2="470.0" stroke="#444" stroke-width="0.4"/>
<text class="sa" x="105.8" y="489.7" font-size="3.5" text-anchor="end" fill="#444">0.0</text>
<line x1="106.8" y1="488.4" x2="108.0" y2="488.4" stroke="#444" stroke-width="0.4"/>
<path d="M120.7 425.0V444.0M120.7 472.6V489.0" stroke="#3c3c3c" stroke-width="0.58" fill="none"/>
<rect x="115.4" y="444.0" width="10.6" height="28.6" fill="#8abf86" stroke="#3c3c3c" stroke-width="0.45"/>
<line x1="115.4" y1="456.6" x2="126.0" y2="456.6" stroke="#2e2e2e" stroke-width="1.05"/>
<path d="M131.9 443.4V451.0M131.9 459.4V461.0" stroke="#3c3c3c" stroke-width="0.58" fill="none"/>
<rect x="126.4" y="451.0" width="11.0" height="8.4" fill="#f29370" stroke="#3c3c3c" stroke-width="0.45"/>
<line x1="126.4" y1="454.0" x2="137.4" y2="454.0" stroke="#2e2e2e" stroke-width="1.05"/>
<circle cx="132.0" cy="481.0" r="0.95" fill="#111"/>
<text class="sa" x="126.6" y="427.2" font-size="5" font-weight="bold" text-anchor="middle" fill="#2a2a2a" letter-spacing="-0.3">**</text>
<rect x="153.6" y="421.0" width="36.4" height="71.4" fill="#ebebeb"/>
<line x1="153.6" y1="437.0" x2="190.0" y2="437.0" stroke="#fafafa" stroke-width="0.5"/>
<line x1="153.6" y1="454.4" x2="190.0" y2="454.4" stroke="#fafafa" stroke-width="0.5"/>
<line x1="153.6" y1="471.6" x2="190.0" y2="471.6" stroke="#fafafa" stroke-width="0.5"/>
<line x1="153.6" y1="489.0" x2="190.0" y2="489.0" stroke="#fafafa" stroke-width="0.5"/>
<line x1="153.6" y1="428.3" x2="190.0" y2="428.3" stroke="#f3f3f3" stroke-width="0.3"/>
<line x1="153.6" y1="445.7" x2="190.0" y2="445.7" stroke="#f3f3f3" stroke-width="0.3"/>
<line x1="153.6" y1="463.1" x2="190.0" y2="463.1" stroke="#f3f3f3" stroke-width="0.3"/>
<line x1="153.6" y1="480.3" x2="190.0" y2="480.3" stroke="#f3f3f3" stroke-width="0.3"/>
<line x1="171.8" y1="421.0" x2="171.8" y2="492.4" stroke="#f8f8f8" stroke-width="0.5"/>
<text class="sa" x="171.2" y="417.9" font-size="4.7" text-anchor="middle" fill="#1c1c1c">CXCL6</text>
<text class="sa" x="151.4" y="438.3" font-size="3.5" text-anchor="end" fill="#444">7.5</text>
<line x1="152.4" y1="437.0" x2="153.6" y2="437.0" stroke="#444" stroke-width="0.4"/>
<text class="sa" x="151.4" y="455.7" font-size="3.5" text-anchor="end" fill="#444">5.0</text>
<line x1="152.4" y1="454.4" x2="153.6" y2="454.4" stroke="#444" stroke-width="0.4"/>
<text class="sa" x="151.4" y="472.9" font-size="3.5" text-anchor="end" fill="#444">2.5</text>
<line x1="152.4" y1="471.6" x2="153.6" y2="471.6" stroke="#444" stroke-width="0.4"/>
<text class="sa" x="151.4" y="490.3" font-size="3.5" text-anchor="end" fill="#444">0.0</text>
<line x1="152.4" y1="489.0" x2="153.6" y2="489.0" stroke="#444" stroke-width="0.4"/>
<path d="M166.5 425.0V440.4M166.5 458.6V473.6" stroke="#3c3c3c" stroke-width="0.58" fill="none"/>
<rect x="161.0" y="440.4" width="11.0" height="18.2" fill="#8abf86" stroke="#3c3c3c" stroke-width="0.45"/>
<line x1="161.0" y1="448.4" x2="172.0" y2="448.4" stroke="#2e2e2e" stroke-width="1.05"/>
<path d="M177.9 442.0V445.0M177.9 455.4V467.6" stroke="#3c3c3c" stroke-width="0.58" fill="none"/>
<rect x="172.4" y="445.0" width="11.0" height="10.4" fill="#f29370" stroke="#3c3c3c" stroke-width="0.45"/>
<line x1="172.4" y1="451.0" x2="183.4" y2="451.0" stroke="#2e2e2e" stroke-width="1.05"/>
<circle cx="178.0" cy="489.4" r="0.95" fill="#111"/>
<text class="sa" x="172.6" y="427.2" font-size="5" font-weight="bold" text-anchor="middle" fill="#2a2a2a" letter-spacing="-0.3">**</text>
<rect x="199.0" y="421.0" width="36.6" height="71.4" fill="#ebebeb"/>
<line x1="199.0" y1="431.0" x2="235.6" y2="431.0" stroke="#fafafa" stroke-width="0.5"/>
<line x1="199.0" y1="449.4" x2="235.6" y2="449.4" stroke="#fafafa" stroke-width="0.5"/>
<line x1="199.0" y1="468.0" x2="235.6" y2="468.0" stroke="#fafafa" stroke-width="0.5"/>
<line x1="199.0" y1="486.4" x2="235.6" y2="486.4" stroke="#fafafa" stroke-width="0.5"/>
<line x1="199.0" y1="421.8" x2="235.6" y2="421.8" stroke="#f3f3f3" stroke-width="0.3"/>
<line x1="199.0" y1="440.2" x2="235.6" y2="440.2" stroke="#f3f3f3" stroke-width="0.3"/>
<line x1="199.0" y1="458.6" x2="235.6" y2="458.6" stroke="#f3f3f3" stroke-width="0.3"/>
<line x1="199.0" y1="477.2" x2="235.6" y2="477.2" stroke="#f3f3f3" stroke-width="0.3"/>
<line x1="217.3" y1="421.0" x2="217.3" y2="492.4" stroke="#f8f8f8" stroke-width="0.5"/>
<text class="sa" x="217.4" y="417.9" font-size="4.7" text-anchor="middle" fill="#1c1c1c">CXCR2P1</text>
<text class="sa" x="196.8" y="432.3" font-size="3.5" text-anchor="end" fill="#444">6</text>
<line x1="197.8" y1="431.0" x2="199.0" y2="431.0" stroke="#444" stroke-width="0.4"/>
<text class="sa" x="196.8" y="450.7" font-size="3.5" text-anchor="end" fill="#444">4</text>
<line x1="197.8" y1="449.4" x2="199.0" y2="449.4" stroke="#444" stroke-width="0.4"/>
<text class="sa" x="196.8" y="469.3" font-size="3.5" text-anchor="end" fill="#444">2</text>
<line x1="197.8" y1="468.0" x2="199.0" y2="468.0" stroke="#444" stroke-width="0.4"/>
<text class="sa" x="196.8" y="487.7" font-size="3.5" text-anchor="end" fill="#444">0</text>
<line x1="197.8" y1="486.4" x2="199.0" y2="486.4" stroke="#444" stroke-width="0.4"/>
<path d="M211.9 431.0V449.0M211.9 463.6V478.0" stroke="#3c3c3c" stroke-width="0.58" fill="none"/>
<rect x="206.4" y="449.0" width="11.0" height="14.6" fill="#8abf86" stroke="#3c3c3c" stroke-width="0.45"/>
<line x1="206.4" y1="457.4" x2="217.4" y2="457.4" stroke="#2e2e2e" stroke-width="1.05"/>
<circle cx="212.0" cy="424.6" r="0.95" fill="#111"/>
<circle cx="212.0" cy="488.6" r="0.95" fill="#111"/>
<path d="M223.5 451.0V458.0M223.5 474.0V489.4" stroke="#3c3c3c" stroke-width="0.58" fill="none"/>
<rect x="218.0" y="458.0" width="11.0" height="16.0" fill="#f29370" stroke="#3c3c3c" stroke-width="0.45"/>
<line x1="218.0" y1="462.4" x2="229.0" y2="462.4" stroke="#2e2e2e" stroke-width="1.05"/>
<text class="sa" x="218.2" y="427.2" font-size="5" font-weight="bold" text-anchor="middle" fill="#2a2a2a" letter-spacing="-0.3">***</text>
<text class="sa" transform="translate(54.4 411) rotate(-90)" font-size="4.4" text-anchor="middle" fill="#333">log2(Expr)+1</text>
<text class="sa" x="245.4" y="400.1" font-size="5.4" fill="#222">Index</text>
<rect x="243" y="404" width="6" height="4.8" fill="#f0f0f0"/>
<rect x="243.7" y="404.6" width="4.6" height="3.6" fill="#8abf86" stroke="#3c3c3c" stroke-width="0.4"/>
<line x1="243.7" y1="406.4" x2="248.3" y2="406.4" stroke="#3c3c3c" stroke-width="0.4"/>
<text class="sa" x="252.3" y="407.7" font-size="3.9" fill="#222">Control</text>
<rect x="243" y="411.4" width="6" height="4.8" fill="#f0f0f0"/>
<rect x="243.7" y="412.0" width="4.6" height="3.6" fill="#f29370" stroke="#3c3c3c" stroke-width="0.4"/>
<line x1="243.7" y1="413.8" x2="248.3" y2="413.8" stroke="#3c3c3c" stroke-width="0.4"/>
<text class="sa" x="252.3" y="415.1" font-size="3.9" fill="#222">Mutant</text>
<rect x="292.0" y="333.8" width="30.0" height="69.2" fill="#ebebeb"/>
<line x1="292.0" y1="338.0" x2="322.0" y2="338.0" stroke="#fafafa" stroke-width="0.5"/>
<line x1="292.0" y1="356.6" x2="322.0" y2="356.6" stroke="#fafafa" stroke-width="0.5"/>
<line x1="292.0" y1="374.4" x2="322.0" y2="374.4" stroke="#fafafa" stroke-width="0.5"/>
<line x1="292.0" y1="393.0" x2="322.0" y2="393.0" stroke="#fafafa" stroke-width="0.5"/>
<line x1="292.0" y1="347.3" x2="322.0" y2="347.3" stroke="#f3f3f3" stroke-width="0.3"/>
<line x1="292.0" y1="365.9" x2="322.0" y2="365.9" stroke="#f3f3f3" stroke-width="0.3"/>
<line x1="292.0" y1="383.7" x2="322.0" y2="383.7" stroke="#f3f3f3" stroke-width="0.3"/>
<line x1="292.0" y1="402.3" x2="322.0" y2="402.3" stroke="#f3f3f3" stroke-width="0.3"/>
<line x1="307.0" y1="333.8" x2="307.0" y2="403.0" stroke="#f8f8f8" stroke-width="0.5"/>
<text class="sa" x="305.0" y="331.4" font-size="5.2" text-anchor="middle" fill="#1c1c1c">CD2</text>
<text class="sa" x="289.8" y="338.9" font-size="2.4" text-anchor="end" fill="#444">10</text>
<line x1="290.8" y1="338.0" x2="292.0" y2="338.0" stroke="#444" stroke-width="0.4"/>
<text class="sa" x="289.8" y="357.5" font-size="2.4" text-anchor="end" fill="#444">8</text>
<line x1="290.8" y1="356.6" x2="292.0" y2="356.6" stroke="#444" stroke-width="0.4"/>
<text class="sa" x="289.8" y="375.3" font-size="2.4" text-anchor="end" fill="#444">6</text>
<line x1="290.8" y1="374.4" x2="292.0" y2="374.4" stroke="#444" stroke-width="0.4"/>
<text class="sa" x="289.8" y="393.9" font-size="2.4" text-anchor="end" fill="#444">4</text>
<line x1="290.8" y1="393.0" x2="292.0" y2="393.0" stroke="#444" stroke-width="0.4"/>
<path d="M301.2 339.4V352.6M301.2 364.4V376.6" stroke="#3c3c3c" stroke-width="0.45" fill="none"/>
<rect x="297.0" y="352.6" width="8.4" height="11.8" fill="#8abf86" stroke="#3c3c3c" stroke-width="0.45"/>
<line x1="297.0" y1="359.4" x2="305.4" y2="359.4" stroke="#2e2e2e" stroke-width="0.82"/>
<circle cx="301.4" cy="383.0" r="0.74" fill="#111"/>
<circle cx="301.4" cy="400.4" r="0.74" fill="#111"/>
<path d="M310.0 354.4V356.0M310.0 368.0V373.0" stroke="#3c3c3c" stroke-width="0.45" fill="none"/>
<rect x="306.0" y="356.0" width="8.0" height="12.0" fill="#f29370" stroke="#3c3c3c" stroke-width="0.45"/>
<line x1="306.0" y1="364.4" x2="314.0" y2="364.4" stroke="#2e2e2e" stroke-width="0.82"/>
<text class="sa" x="305.6" y="340.2" font-size="5" font-weight="bold" text-anchor="middle" fill="#2a2a2a" letter-spacing="-0.3">**</text>
<rect x="324.0" y="333.8" width="29.6" height="69.2" fill="#ebebeb"/>
<line x1="324.0" y1="349.0" x2="353.6" y2="349.0" stroke="#fafafa" stroke-width="0.5"/>
<line x1="324.0" y1="367.0" x2="353.6" y2="367.0" stroke="#fafafa" stroke-width="0.5"/>
<line x1="324.0" y1="384.6" x2="353.6" y2="384.6" stroke="#fafafa" stroke-width="0.5"/>
<line x1="324.0" y1="402.0" x2="353.6" y2="402.0" stroke="#fafafa" stroke-width="0.5"/>
<line x1="324.0" y1="340.0" x2="353.6" y2="340.0" stroke="#f3f3f3" stroke-width="0.3"/>
<line x1="324.0" y1="358.0" x2="353.6" y2="358.0" stroke="#f3f3f3" stroke-width="0.3"/>
<line x1="324.0" y1="376.0" x2="353.6" y2="376.0" stroke="#f3f3f3" stroke-width="0.3"/>
<line x1="324.0" y1="393.6" x2="353.6" y2="393.6" stroke="#f3f3f3" stroke-width="0.3"/>
<line x1="338.8" y1="333.8" x2="338.8" y2="403.0" stroke="#f8f8f8" stroke-width="0.5"/>
<text class="sa" x="338.0" y="331.4" font-size="5.2" text-anchor="middle" fill="#1c1c1c">CD3G</text>
<text class="sa" x="321.8" y="349.9" font-size="2.4" text-anchor="end" fill="#444">6</text>
<line x1="322.8" y1="349.0" x2="324.0" y2="349.0" stroke="#444" stroke-width="0.4"/>
<text class="sa" x="321.8" y="367.9" font-size="2.4" text-anchor="end" fill="#444">4</text>
<line x1="322.8" y1="367.0" x2="324.0" y2="367.0" stroke="#444" stroke-width="0.4"/>
<text class="sa" x="321.8" y="385.5" font-size="2.4" text-anchor="end" fill="#444">2</text>
<line x1="322.8" y1="384.6" x2="324.0" y2="384.6" stroke="#444" stroke-width="0.4"/>
<text class="sa" x="321.8" y="402.9" font-size="2.4" text-anchor="end" fill="#444">0</text>
<line x1="322.8" y1="402.0" x2="324.0" y2="402.0" stroke="#444" stroke-width="0.4"/>
<path d="M334.2 339.4V354.0M334.2 371.6V394.4" stroke="#3c3c3c" stroke-width="0.45" fill="none"/>
<rect x="330.0" y="354.0" width="8.4" height="17.6" fill="#8abf86" stroke="#3c3c3c" stroke-width="0.45"/>
<line x1="330.0" y1="361.4" x2="338.4" y2="361.4" stroke="#2e2e2e" stroke-width="0.82"/>
<circle cx="334.4" cy="400.4" r="0.74" fill="#111"/>
<path d="M343.0 350.0V362.6M343.0 375.0V389.0" stroke="#3c3c3c" stroke-width="0.45" fill="none"/>
<rect x="339.0" y="362.6" width="8.0" height="12.4" fill="#f29370" stroke="#3c3c3c" stroke-width="0.45"/>
<line x1="339.0" y1="368.4" x2="347.0" y2="368.4" stroke="#2e2e2e" stroke-width="0.82"/>
<text class="sa" x="338.8" y="340.2" font-size="5" font-weight="bold" text-anchor="middle" fill="#2a2a2a" letter-spacing="-0.3">**</text>
<rect x="361.0" y="333.8" width="29.0" height="69.2" fill="#ebebeb"/>
<line x1="361.0" y1="350.4" x2="390.0" y2="350.4" stroke="#fafafa" stroke-width="0.5"/>
<line x1="361.0" y1="370.6" x2="390.0" y2="370.6" stroke="#fafafa" stroke-width="0.5"/>
<line x1="361.0" y1="390.6" x2="390.0" y2="390.6" stroke="#fafafa" stroke-width="0.5"/>
<line x1="361.0" y1="340.3" x2="390.0" y2="340.3" stroke="#f3f3f3" stroke-width="0.3"/>
<line x1="361.0" y1="360.5" x2="390.0" y2="360.5" stroke="#f3f3f3" stroke-width="0.3"/>
<line x1="361.0" y1="380.7" x2="390.0" y2="380.7" stroke="#f3f3f3" stroke-width="0.3"/>
<line x1="361.0" y1="400.7" x2="390.0" y2="400.7" stroke="#f3f3f3" stroke-width="0.3"/>
<line x1="375.5" y1="333.8" x2="375.5" y2="403.0" stroke="#f8f8f8" stroke-width="0.5"/>
<text class="sa" x="376.0" y="331.1" font-size="5.2" text-anchor="middle" fill="#1c1c1c">CD81</text>
<text class="sa" x="358.8" y="351.3" font-size="2.4" text-anchor="end" fill="#444">15.0</text>
<line x1="359.8" y1="350.4" x2="361.0" y2="350.4" stroke="#444" stroke-width="0.4"/>
<text class="sa" x="358.8" y="371.5" font-size="2.4" text-anchor="end" fill="#444">12.5</text>
<line x1="359.8" y1="370.6" x2="361.0" y2="370.6" stroke="#444" stroke-width="0.4"/>
<text class="sa" x="358.8" y="391.5" font-size="2.4" text-anchor="end" fill="#444">10.0</text>
<line x1="359.8" y1="390.6" x2="361.0" y2="390.6" stroke="#444" stroke-width="0.4"/>
<path d="M371.0 339.0V350.0M371.0 375.0V400.6" stroke="#3c3c3c" stroke-width="0.45" fill="none"/>
<rect x="367.0" y="350.0" width="8.0" height="25.0" fill="#8abf86" stroke="#3c3c3c" stroke-width="0.45"/>
<line x1="367.0" y1="361.6" x2="375.0" y2="361.6" stroke="#2e2e2e" stroke-width="0.82"/>
<path d="M379.8 340.0V347.4M379.8 355.0V355.0" stroke="#3c3c3c" stroke-width="0.45" fill="none"/>
<rect x="376.0" y="347.4" width="7.6" height="7.6" fill="#f29370" stroke="#3c3c3c" stroke-width="0.45"/>
<line x1="376.0" y1="353.6" x2="383.6" y2="353.6" stroke="#2e2e2e" stroke-width="0.82"/>
<circle cx="379.6" cy="375.0" r="0.74" fill="#111"/>
<text class="sa" x="376.2" y="340.2" font-size="5" font-weight="bold" text-anchor="middle" fill="#2a2a2a" letter-spacing="-0.3">**</text>
<rect x="396.0" y="333.8" width="28.6" height="69.2" fill="#ebebeb"/>
<line x1="396.0" y1="335.6" x2="424.6" y2="335.6" stroke="#fafafa" stroke-width="0.5"/>
<line x1="396.0" y1="352.0" x2="424.6" y2="352.0" stroke="#fafafa" stroke-width="0.5"/>
<line x1="396.0" y1="369.0" x2="424.6" y2="369.0" stroke="#fafafa" stroke-width="0.5"/>
<line x1="396.0" y1="385.4" x2="424.6" y2="385.4" stroke="#fafafa" stroke-width="0.5"/>
<line x1="396.0" y1="402.0" x2="424.6" y2="402.0" stroke="#fafafa" stroke-width="0.5"/>
<line x1="396.0" y1="343.8" x2="424.6" y2="343.8" stroke="#f3f3f3" stroke-width="0.3"/>
<line x1="396.0" y1="360.2" x2="424.6" y2="360.2" stroke="#f3f3f3" stroke-width="0.3"/>
<line x1="396.0" y1="377.2" x2="424.6" y2="377.2" stroke="#f3f3f3" stroke-width="0.3"/>
<line x1="396.0" y1="393.6" x2="424.6" y2="393.6" stroke="#f3f3f3" stroke-width="0.3"/>
<line x1="410.3" y1="333.8" x2="410.3" y2="403.0" stroke="#f8f8f8" stroke-width="0.5"/>
<text class="sa" x="410.0" y="331.4" font-size="5.2" text-anchor="middle" fill="#1c1c1c">CD96</text>
<text class="sa" x="393.8" y="336.5" font-size="2.4" text-anchor="end" fill="#444">10</text>
<line x1="394.8" y1="335.6" x2="396.0" y2="335.6" stroke="#444" stroke-width="0.4"/>
<text class="sa" x="393.8" y="352.9" font-size="2.4" text-anchor="end" fill="#444">8</text>
<line x1="394.8" y1="352.0" x2="396.0" y2="352.0" stroke="#444" stroke-width="0.4"/>
<text class="sa" x="393.8" y="369.9" font-size="2.4" text-anchor="end" fill="#444">6</text>
<line x1="394.8" y1="369.0" x2="396.0" y2="369.0" stroke="#444" stroke-width="0.4"/>
<text class="sa" x="393.8" y="386.3" font-size="2.4" text-anchor="end" fill="#444">4</text>
<line x1="394.8" y1="385.4" x2="396.0" y2="385.4" stroke="#444" stroke-width="0.4"/>
<text class="sa" x="393.8" y="402.9" font-size="2.4" text-anchor="end" fill="#444">2</text>
<line x1="394.8" y1="402.0" x2="396.0" y2="402.0" stroke="#444" stroke-width="0.4"/>
<path d="M405.6 339.0V356.6M405.6 368.6V385.0" stroke="#3c3c3c" stroke-width="0.45" fill="none"/>
<rect x="401.6" y="356.6" width="8.0" height="12.0" fill="#8abf86" stroke="#3c3c3c" stroke-width="0.45"/>
<line x1="401.6" y1="361.4" x2="409.6" y2="361.4" stroke="#2e2e2e" stroke-width="0.82"/>
<circle cx="405.6" cy="400.4" r="0.74" fill="#111"/>
<path d="M414.4 356.6V361.6M414.4 371.4V377.4" stroke="#3c3c3c" stroke-width="0.45" fill="none"/>
<rect x="410.4" y="361.6" width="8.0" height="9.8" fill="#f29370" stroke="#3c3c3c" stroke-width="0.45"/>
<line x1="410.4" y1="362.8" x2="418.4" y2="362.8" stroke="#2e2e2e" stroke-width="0.82"/>
<text class="sa" x="410.6" y="340.2" font-size="5" font-weight="bold" text-anchor="middle" fill="#2a2a2a" letter-spacing="-0.3">**</text>
<rect x="292.0" y="419.0" width="30.0" height="73.5" fill="#ebebeb"/>
<line x1="292.0" y1="421.0" x2="322.0" y2="421.0" stroke="#fafafa" stroke-width="0.5"/>
<line x1="292.0" y1="441.0" x2="322.0" y2="441.0" stroke="#fafafa" stroke-width="0.5"/>
<line x1="292.0" y1="460.0" x2="322.0" y2="460.0" stroke="#fafafa" stroke-width="0.5"/>
<line x1="292.0" y1="479.4" x2="322.0" y2="479.4" stroke="#fafafa" stroke-width="0.5"/>
<line x1="292.0" y1="431.0" x2="322.0" y2="431.0" stroke="#f3f3f3" stroke-width="0.3"/>
<line x1="292.0" y1="451.0" x2="322.0" y2="451.0" stroke="#f3f3f3" stroke-width="0.3"/>
<line x1="292.0" y1="470.0" x2="322.0" y2="470.0" stroke="#f3f3f3" stroke-width="0.3"/>
<line x1="292.0" y1="489.4" x2="322.0" y2="489.4" stroke="#f3f3f3" stroke-width="0.3"/>
<line x1="307.0" y1="419.0" x2="307.0" y2="492.5" stroke="#f8f8f8" stroke-width="0.5"/>
<text class="sa" x="306.6" y="416.8" font-size="5.2" text-anchor="middle" fill="#1c1c1c">IL17RE</text>
<text class="sa" x="289.8" y="421.9" font-size="2.4" text-anchor="end" fill="#444">10</text>
<line x1="290.8" y1="421.0" x2="292.0" y2="421.0" stroke="#444" stroke-width="0.4"/>
<text class="sa" x="289.8" y="441.9" font-size="2.4" text-anchor="end" fill="#444">8</text>
<line x1="290.8" y1="441.0" x2="292.0" y2="441.0" stroke="#444" stroke-width="0.4"/>
<text class="sa" x="289.8" y="460.9" font-size="2.4" text-anchor="end" fill="#444">6</text>
<line x1="290.8" y1="460.0" x2="292.0" y2="460.0" stroke="#444" stroke-width="0.4"/>
<text class="sa" x="289.8" y="480.3" font-size="2.4" text-anchor="end" fill="#444">4</text>
<line x1="290.8" y1="479.4" x2="292.0" y2="479.4" stroke="#444" stroke-width="0.4"/>
<path d="M301.7 423.4V438.0M301.7 456.0V477.0" stroke="#3c3c3c" stroke-width="0.45" fill="none"/>
<rect x="297.4" y="438.0" width="8.6" height="18.0" fill="#8abf86" stroke="#3c3c3c" stroke-width="0.45"/>
<line x1="297.4" y1="447.4" x2="306.0" y2="447.4" stroke="#2e2e2e" stroke-width="0.82"/>
<path d="M311.3 440.6V446.6M311.3 461.6V465.6" stroke="#3c3c3c" stroke-width="0.45" fill="none"/>
<rect x="307.0" y="446.6" width="8.6" height="15.0" fill="#f29370" stroke="#3c3c3c" stroke-width="0.45"/>
<line x1="307.0" y1="459.0" x2="315.6" y2="459.0" stroke="#2e2e2e" stroke-width="0.82"/>
<circle cx="311.4" cy="490.6" r="0.74" fill="#111"/>
<text class="sa" x="308.4" y="424.8" font-size="5" font-weight="bold" text-anchor="middle" fill="#2a2a2a" letter-spacing="-0.3">***</text>
<rect x="326.4" y="419.0" width="29.6" height="73.5" fill="#ebebeb"/>
<line x1="326.4" y1="436.0" x2="356.0" y2="436.0" stroke="#fafafa" stroke-width="0.5"/>
<line x1="326.4" y1="455.6" x2="356.0" y2="455.6" stroke="#fafafa" stroke-width="0.5"/>
<line x1="326.4" y1="475.0" x2="356.0" y2="475.0" stroke="#fafafa" stroke-width="0.5"/>
<line x1="326.4" y1="426.2" x2="356.0" y2="426.2" stroke="#f3f3f3" stroke-width="0.3"/>
<line x1="326.4" y1="445.8" x2="356.0" y2="445.8" stroke="#f3f3f3" stroke-width="0.3"/>
<line x1="326.4" y1="465.4" x2="356.0" y2="465.4" stroke="#f3f3f3" stroke-width="0.3"/>
<line x1="326.4" y1="484.8" x2="356.0" y2="484.8" stroke="#f3f3f3" stroke-width="0.3"/>
<line x1="341.2" y1="419.0" x2="341.2" y2="492.5" stroke="#f8f8f8" stroke-width="0.5"/>
<text class="sa" x="341.0" y="416.8" font-size="5.2" text-anchor="middle" fill="#1c1c1c">IL1RL2</text>
<text class="sa" x="324.2" y="436.9" font-size="2.4" text-anchor="end" fill="#444">6</text>
<line x1="325.2" y1="436.0" x2="326.4" y2="436.0" stroke="#444" stroke-width="0.4"/>
<text class="sa" x="324.2" y="456.5" font-size="2.4" text-anchor="end" fill="#444">4</text>
<line x1="325.2" y1="455.6" x2="326.4" y2="455.6" stroke="#444" stroke-width="0.4"/>
<text class="sa" x="324.2" y="475.9" font-size="2.4" text-anchor="end" fill="#444">2</text>
<line x1="325.2" y1="475.0" x2="326.4" y2="475.0" stroke="#444" stroke-width="0.4"/>
<path d="M336.5 423.4V436.6M336.5 455.6V482.0" stroke="#3c3c3c" stroke-width="0.45" fill="none"/>
<rect x="332.0" y="436.6" width="9.0" height="19.0" fill="#8abf86" stroke="#3c3c3c" stroke-width="0.45"/>
<line x1="332.0" y1="446.0" x2="341.0" y2="446.0" stroke="#2e2e2e" stroke-width="0.82"/>
<circle cx="336.6" cy="489.2" r="0.74" fill="#111"/>
<circle cx="336.6" cy="491.0" r="0.74" fill="#111"/>
<path d="M346.3 441.6V452.6M346.3 472.6V485.4" stroke="#3c3c3c" stroke-width="0.45" fill="none"/>
<rect x="342.0" y="452.6" width="8.6" height="20.0" fill="#f29370" stroke="#3c3c3c" stroke-width="0.45"/>
<line x1="342.0" y1="461.4" x2="350.6" y2="461.4" stroke="#2e2e2e" stroke-width="0.82"/>
<text class="sa" x="343.6" y="424.8" font-size="5" font-weight="bold" text-anchor="middle" fill="#2a2a2a" letter-spacing="-0.3">****</text>
<rect x="361.0" y="419.0" width="28.6" height="73.5" fill="#ebebeb"/>
<line x1="361.0" y1="434.4" x2="389.6" y2="434.4" stroke="#fafafa" stroke-width="0.5"/>
<line x1="361.0" y1="454.4" x2="389.6" y2="454.4" stroke="#fafafa" stroke-width="0.5"/>
<line x1="361.0" y1="474.6" x2="389.6" y2="474.6" stroke="#fafafa" stroke-width="0.5"/>
<line x1="361.0" y1="424.4" x2="389.6" y2="424.4" stroke="#f3f3f3" stroke-width="0.3"/>
<line x1="361.0" y1="444.4" x2="389.6" y2="444.4" stroke="#f3f3f3" stroke-width="0.3"/>
<line x1="361.0" y1="464.4" x2="389.6" y2="464.4" stroke="#f3f3f3" stroke-width="0.3"/>
<line x1="361.0" y1="484.6" x2="389.6" y2="484.6" stroke="#f3f3f3" stroke-width="0.3"/>
<line x1="375.3" y1="419.0" x2="375.3" y2="492.5" stroke="#f8f8f8" stroke-width="0.5"/>
<text class="sa" x="376.6" y="416.8" font-size="5.2" text-anchor="middle" fill="#1c1c1c">IL2RB</text>
<text class="sa" x="358.8" y="435.3" font-size="2.4" text-anchor="end" fill="#444">8</text>
<line x1="359.8" y1="434.4" x2="361.0" y2="434.4" stroke="#444" stroke-width="0.4"/>
<text class="sa" x="358.8" y="455.3" font-size="2.4" text-anchor="end" fill="#444">6</text>
<line x1="359.8" y1="454.4" x2="361.0" y2="454.4" stroke="#444" stroke-width="0.4"/>
<text class="sa" x="358.8" y="475.5" font-size="2.4" text-anchor="end" fill="#444">4</text>
<line x1="359.8" y1="474.6" x2="361.0" y2="474.6" stroke="#444" stroke-width="0.4"/>
<path d="M371.5 423.4V436.6M371.5 449.0V462.0" stroke="#3c3c3c" stroke-width="0.45" fill="none"/>
<rect x="367.0" y="436.6" width="9.0" height="12.4" fill="#8abf86" stroke="#3c3c3c" stroke-width="0.45"/>
<line x1="367.0" y1="444.4" x2="376.0" y2="444.4" stroke="#2e2e2e" stroke-width="0.82"/>
<circle cx="371.6" cy="469.2" r="0.74" fill="#111"/>
<circle cx="371.6" cy="471.0" r="0.74" fill="#111"/>
<circle cx="371.6" cy="490.6" r="0.74" fill="#111"/>
<path d="M381.3 439.0V442.0M381.3 455.6V460.0" stroke="#3c3c3c" stroke-width="0.45" fill="none"/>
<rect x="377.0" y="442.0" width="8.6" height="13.6" fill="#f29370" stroke="#3c3c3c" stroke-width="0.45"/>
<line x1="377.0" y1="449.0" x2="385.6" y2="449.0" stroke="#2e2e2e" stroke-width="0.82"/>
<text class="sa" x="377.4" y="424.8" font-size="5" font-weight="bold" text-anchor="middle" fill="#2a2a2a" letter-spacing="-0.3">**</text>
<rect x="397.4" y="419.0" width="30.2" height="73.5" fill="#ebebeb"/>
<line x1="397.4" y1="426.0" x2="427.6" y2="426.0" stroke="#fafafa" stroke-width="0.5"/>
<line x1="397.4" y1="441.6" x2="427.6" y2="441.6" stroke="#fafafa" stroke-width="0.5"/>
<line x1="397.4" y1="457.4" x2="427.6" y2="457.4" stroke="#fafafa" stroke-width="0.5"/>
<line x1="397.4" y1="473.0" x2="427.6" y2="473.0" stroke="#fafafa" stroke-width="0.5"/>
<line x1="397.4" y1="488.6" x2="427.6" y2="488.6" stroke="#fafafa" stroke-width="0.5"/>
<line x1="397.4" y1="433.8" x2="427.6" y2="433.8" stroke="#f3f3f3" stroke-width="0.3"/>
<line x1="397.4" y1="449.4" x2="427.6" y2="449.4" stroke="#f3f3f3" stroke-width="0.3"/>
<line x1="397.4" y1="465.2" x2="427.6" y2="465.2" stroke="#f3f3f3" stroke-width="0.3"/>
<line x1="397.4" y1="480.8" x2="427.6" y2="480.8" stroke="#f3f3f3" stroke-width="0.3"/>
<line x1="412.5" y1="419.0" x2="412.5" y2="492.5" stroke="#f8f8f8" stroke-width="0.5"/>
<text class="sa" x="412.4" y="416.8" font-size="5.2" text-anchor="middle" fill="#1c1c1c">TGFB3</text>
<text class="sa" x="395.2" y="426.9" font-size="2.4" text-anchor="end" fill="#444">10.0</text>
<line x1="396.2" y1="426.0" x2="397.4" y2="426.0" stroke="#444" stroke-width="0.4"/>
<text class="sa" x="395.2" y="442.5" font-size="2.4" text-anchor="end" fill="#444">7.5</text>
<line x1="396.2" y1="441.6" x2="397.4" y2="441.6" stroke="#444" stroke-width="0.4"/>
<text class="sa" x="395.2" y="458.3" font-size="2.4" text-anchor="end" fill="#444">5.0</text>
<line x1="396.2" y1="457.4" x2="397.4" y2="457.4" stroke="#444" stroke-width="0.4"/>
<text class="sa" x="395.2" y="473.9" font-size="2.4" text-anchor="end" fill="#444">2.5</text>
<line x1="396.2" y1="473.0" x2="397.4" y2="473.0" stroke="#444" stroke-width="0.4"/>
<text class="sa" x="395.2" y="489.5" font-size="2.4" text-anchor="end" fill="#444">0.0</text>
<line x1="396.2" y1="488.6" x2="397.4" y2="488.6" stroke="#444" stroke-width="0.4"/>
<path d="M407.5 423.4V449.6M407.5 468.0V491.0" stroke="#3c3c3c" stroke-width="0.45" fill="none"/>
<rect x="403.0" y="449.6" width="9.0" height="18.4" fill="#8abf86" stroke="#3c3c3c" stroke-width="0.45"/>
<line x1="403.0" y1="460.6" x2="412.0" y2="460.6" stroke="#2e2e2e" stroke-width="0.82"/>
<path d="M417.3 452.0V458.6M417.3 467.6V469.6" stroke="#3c3c3c" stroke-width="0.45" fill="none"/>
<rect x="413.0" y="458.6" width="8.6" height="9.0" fill="#f29370" stroke="#3c3c3c" stroke-width="0.45"/>
<line x1="413.0" y1="462.4" x2="421.6" y2="462.4" stroke="#2e2e2e" stroke-width="0.82"/>
<circle cx="417.4" cy="486.0" r="0.74" fill="#111"/>
<text class="sa" x="413.2" y="424.8" font-size="5" font-weight="bold" text-anchor="middle" fill="#2a2a2a" letter-spacing="-0.3">**</text>
<text class="sa" transform="translate(284.4 370) rotate(-90)" font-size="3.2" text-anchor="middle" fill="#333">log2Expr+1</text>
<text class="sa" transform="translate(285.2 458) rotate(-90)" font-size="3.2" text-anchor="middle" fill="#333">log2Expr+1</text>
<text class="sa" x="433.4" y="395.7" font-size="6.2" fill="#222">Index</text>
<rect x="429.4" y="400" width="6.2" height="5" fill="#f0f0f0"/>
<rect x="430.1" y="400.6" width="4.8" height="3.8" fill="#8abf86" stroke="#3c3c3c" stroke-width="0.4"/>
<line x1="430.1" y1="402.5" x2="434.9" y2="402.5" stroke="#3c3c3c" stroke-width="0.4"/>
<text class="sa" x="438.3" y="403.9" font-size="4" fill="#222">Control</text>
<rect x="429.4" y="406.4" width="6.2" height="5" fill="#f0f0f0"/>
<rect x="430.1" y="407.0" width="4.8" height="3.8" fill="#f29370" stroke="#3c3c3c" stroke-width="0.4"/>
<line x1="430.1" y1="408.9" x2="434.9" y2="408.9" stroke="#3c3c3c" stroke-width="0.4"/>
<text class="sa" x="438.3" y="410.3" font-size="4" fill="#222">Mutant</text>
</g>
<g id="panelD">
<text class="se" x="9.7" y="522.4" font-size="18.5" fill="#111">D</text>
<text class="sa" x="163.2" y="524.4" font-size="9" font-weight="bold" text-anchor="middle" fill="#111">Immune-related pathways</text>
<rect x="89.00" y="539.30" width="24.67" height="23.00" fill="#c9000f"/>
<rect x="113.67" y="539.30" width="24.67" height="23.00" fill="#c9000f"/>
<rect x="138.33" y="539.30" width="24.67" height="23.00" fill="#c9000f"/>
<rect x="163.00" y="539.30" width="24.67" height="23.00" fill="#c9000f"/>
<rect x="187.67" y="539.30" width="24.67" height="23.00" fill="#c9000f"/>
<rect x="212.33" y="539.30" width="24.67" height="23.00" fill="#c9000f"/>
<path d="M89.00 562.30L113.67 585.70M113.67 562.30L89.00 585.70" stroke="#151515" stroke-width="0.85" fill="none"/>
<rect x="113.67" y="562.30" width="24.67" height="23.40" fill="#c9000f"/>
<path d="M138.33 562.30L163.00 585.70M163.00 562.30L138.33 585.70" stroke="#151515" stroke-width="0.85" fill="none"/>
<path d="M163.00 562.30L187.67 585.70M187.67 562.30L163.00 585.70" stroke="#151515" stroke-width="0.85" fill="none"/>
<rect x="187.67" y="562.30" width="24.67" height="23.40" fill="#c9000f"/>
<path d="M212.33 562.30L237.00 585.70M237.00 562.30L212.33 585.70" stroke="#151515" stroke-width="0.85" fill="none"/>
<line x1="113.67" y1="539.3" x2="113.67" y2="585.7" stroke="#111" stroke-width="1.15"/>
<line x1="138.33" y1="539.3" x2="138.33" y2="585.7" stroke="#111" stroke-width="1.15"/>
<line x1="163.00" y1="539.3" x2="163.00" y2="585.7" stroke="#111" stroke-width="1.15"/>
<line x1="187.67" y1="539.3" x2="187.67" y2="585.7" stroke="#111" stroke-width="1.15"/>
<line x1="212.33" y1="539.3" x2="212.33" y2="585.7" stroke="#111" stroke-width="1.15"/>
<line x1="89.0" y1="562.3" x2="237.0" y2="562.3" stroke="#111" stroke-width="1.15"/>
<rect x="89.0" y="539.3" width="148.0" height="46.4" fill="none" stroke="#111" stroke-width="1.5"/>
<line x1="84.3" y1="550.9" x2="89.0" y2="550.9" stroke="#111" stroke-width="1.1"/>
<line x1="84.3" y1="574.1" x2="89.0" y2="574.1" stroke="#111" stroke-width="1.1"/>
<line x1="101.63" y1="585.7" x2="101.63" y2="590.2" stroke="#111" stroke-width="1.1"/>
<line x1="126.30" y1="585.7" x2="126.30" y2="590.2" stroke="#111" stroke-width="1.1"/>
<line x1="150.97" y1="585.7" x2="150.97" y2="590.2" stroke="#111" stroke-width="1.1"/>
<line x1="175.63" y1="585.7" x2="175.63" y2="590.2" stroke="#111" stroke-width="1.1"/>
<line x1="200.30" y1="585.7" x2="200.30" y2="590.2" stroke="#111" stroke-width="1.1"/>
<line x1="224.97" y1="585.7" x2="224.97" y2="590.2" stroke="#111" stroke-width="1.1"/>
<text class="sa" x="77.5" y="554.1" font-size="8.2" text-anchor="end" fill="#111">TCGA</text>
<text class="sa" x="79.2" y="576.6" font-size="8.2" text-anchor="end" fill="#111">GSE123619</text>
<text class="sa" transform="translate(24.4 560.1) rotate(-90)" font-size="8.8" font-weight="bold" text-anchor="middle" fill="#111">Dataset</text>
<text class="sa" transform="translate(102.70 598.60) rotate(-60.0)" font-size="8.2" text-anchor="end" fill="#111">CD28</text>
<text class="sa" transform="translate(125.00 598.60) rotate(-60.0)" font-size="8.2" text-anchor="end" fill="#111">IL2</text>
<text class="sa" transform="translate(129.83 627.02) rotate(-60.0)" font-size="8.2" fill="#111">Cell</text>
<text class="sa" transform="translate(138.49 632.02) rotate(-60.0)" font-size="8.2" fill="#111">recruitment</text>
<text class="sa" transform="translate(148.03 653.42) rotate(-60.0)" font-size="8.2" fill="#111">Cytokine-Cytokine</text>
<text class="sa" transform="translate(156.69 658.42) rotate(-60.0)" font-size="8.2" fill="#111">Receptor</text>
<text class="sa" transform="translate(208.60 594.40) rotate(-60.0)" font-size="8.2" text-anchor="end" fill="#111">Interferon</text>
<text class="sa" transform="translate(230.70 597.60) rotate(-60.0)" font-size="8.2" text-anchor="end" fill="#111">IL12</text>
<rect x="244.6" y="551.4" width="9.6" height="9.8" fill="#c9000f"/>
<text class="sa" x="257.6" y="559.2" font-size="8.2" fill="#111">Significant</text>
<rect x="244.9" y="563.5" width="9" height="9.2" fill="#fff" stroke="#222" stroke-width="0.6"/>
<path d="M244.9 563.5L253.9 572.7M253.9 563.5L244.9 572.7" stroke="#222" stroke-width="0.5" fill="none"/>
<text class="sa" x="257.6" y="571.3" font-size="8.2" fill="#111">Not significant</text>
</g>
</svg>
</body>
</html>
